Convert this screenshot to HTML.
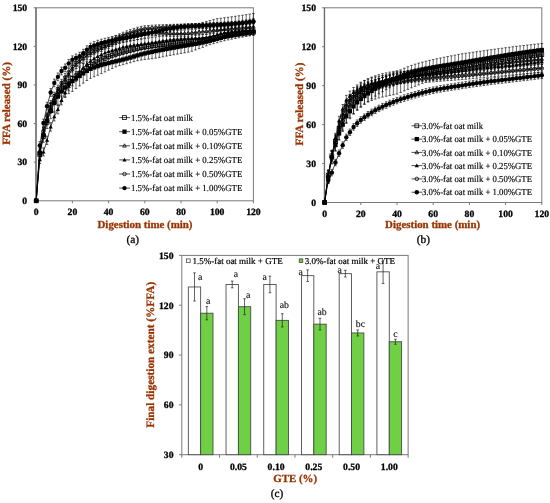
<!DOCTYPE html><html><head><meta charset="utf-8"><style>
html,body{margin:0;padding:0;background:#fff;}
svg{display:block;will-change:transform;}
text{font-family:"Liberation Serif",serif;text-rendering:geometricPrecision;}
.tk{font-size:9.7px;font-weight:bold;fill:#000;stroke:#000;stroke-width:0.3px;}
.lg{font-size:9.2px;fill:#000;stroke:#000;stroke-width:0.15px;}
.ti{font-size:10.9px;font-weight:bold;fill:#993300;stroke:#993300;stroke-width:0.3px;}
.pl{font-size:11.3px;fill:#000;stroke:#000;stroke-width:0.3px;}
.bl{font-size:9px;fill:#000;stroke:#000;stroke-width:0.2px;}
.lt{font-size:9.8px;fill:#000;stroke:#000;stroke-width:0.1px;}
</style></head><body>
<svg width="550" height="503" viewBox="0 0 550 503">
<rect width="550" height="503" fill="#fff"/>
<rect x="36.20" y="7.80" width="217.20" height="193.00" fill="none" stroke="#7a7a7a" stroke-width="1"/>
<path d="M36.00 7.80V200.80" stroke="#858585" stroke-width="2.0"/>
<path d="M33.70 200.80H36.20" stroke="#7a7a7a" stroke-width="1"/>
<text x="27.20" y="204.10" text-anchor="end" class="tk">0</text>
<path d="M33.70 162.19H36.20" stroke="#7a7a7a" stroke-width="1"/>
<text x="27.20" y="165.49" text-anchor="end" class="tk">30</text>
<path d="M33.70 123.58H36.20" stroke="#7a7a7a" stroke-width="1"/>
<text x="27.20" y="126.88" text-anchor="end" class="tk">60</text>
<path d="M33.70 84.97H36.20" stroke="#7a7a7a" stroke-width="1"/>
<text x="27.20" y="88.27" text-anchor="end" class="tk">90</text>
<path d="M33.70 46.36H36.20" stroke="#7a7a7a" stroke-width="1"/>
<text x="27.20" y="49.66" text-anchor="end" class="tk">120</text>
<path d="M33.70 7.75H36.20" stroke="#7a7a7a" stroke-width="1"/>
<text x="27.20" y="11.05" text-anchor="end" class="tk">150</text>
<path d="M36.20 200.80V203.30" stroke="#7a7a7a" stroke-width="1"/>
<text x="36.20" y="215.40" text-anchor="middle" class="tk">0</text>
<path d="M72.40 200.80V203.30" stroke="#7a7a7a" stroke-width="1"/>
<text x="72.40" y="215.40" text-anchor="middle" class="tk">20</text>
<path d="M108.60 200.80V203.30" stroke="#7a7a7a" stroke-width="1"/>
<text x="108.60" y="215.40" text-anchor="middle" class="tk">40</text>
<path d="M144.80 200.80V203.30" stroke="#7a7a7a" stroke-width="1"/>
<text x="144.80" y="215.40" text-anchor="middle" class="tk">60</text>
<path d="M181.00 200.80V203.30" stroke="#7a7a7a" stroke-width="1"/>
<text x="181.00" y="215.40" text-anchor="middle" class="tk">80</text>
<path d="M217.20 200.80V203.30" stroke="#7a7a7a" stroke-width="1"/>
<text x="217.20" y="215.40" text-anchor="middle" class="tk">100</text>
<path d="M253.40 200.80V203.30" stroke="#7a7a7a" stroke-width="1"/>
<text x="253.40" y="215.40" text-anchor="middle" class="tk">120</text>
<polyline points="36.20,200.80 39.82,154.47 43.44,136.45 47.06,122.29 50.68,110.71 54.30,101.70 57.92,95.27 61.54,90.12 65.16,85.61 68.78,81.75 72.40,78.54 76.02,75.85 79.64,73.39 83.26,70.93 86.88,68.55 90.50,66.31 94.12,64.18 97.74,62.09 101.36,60.11 104.98,58.28 108.60,56.66 112.22,55.25 115.84,54.02 119.46,52.88 123.08,51.82 126.70,50.86 130.32,49.96 133.94,49.08 137.56,48.26 141.18,47.52 144.80,46.87 148.42,46.32 152.04,45.81 155.66,45.34 159.28,44.91 162.90,44.50 166.52,44.10 170.14,43.71 173.76,43.32 177.38,42.92 181.00,42.50 184.62,42.08 188.24,41.67 191.86,41.27 195.48,40.86 199.10,40.41 202.72,39.93 206.34,39.36 209.96,38.73 213.58,38.04 217.20,37.34 220.82,36.65 224.44,36.00 228.06,35.42 231.68,34.89 235.30,34.39 238.92,33.90 242.54,33.44 246.16,33.00 249.78,32.59 253.40,32.20" fill="none" stroke="#000" stroke-width="0.7"/>
<path d="M39.82 151.89V157.04M38.52 151.89h2.6M38.52 157.04h2.6" stroke="#000" stroke-width="0.6" fill="none"/>
<path d="M43.44 133.88V139.02M42.14 133.88h2.6M42.14 139.02h2.6" stroke="#000" stroke-width="0.6" fill="none"/>
<path d="M47.06 119.72V124.87M45.76 119.72h2.6M45.76 124.87h2.6" stroke="#000" stroke-width="0.6" fill="none"/>
<path d="M50.68 108.14V113.28M49.38 108.14h2.6M49.38 113.28h2.6" stroke="#000" stroke-width="0.6" fill="none"/>
<path d="M54.30 99.13V104.28M53.00 99.13h2.6M53.00 104.28h2.6" stroke="#000" stroke-width="0.6" fill="none"/>
<path d="M57.92 92.69V97.84M56.62 92.69h2.6M56.62 97.84h2.6" stroke="#000" stroke-width="0.6" fill="none"/>
<path d="M61.54 87.54V92.69M60.24 87.54h2.6M60.24 92.69h2.6" stroke="#000" stroke-width="0.6" fill="none"/>
<path d="M65.16 83.04V88.19M63.86 83.04h2.6M63.86 88.19h2.6" stroke="#000" stroke-width="0.6" fill="none"/>
<path d="M68.78 79.18V84.33M67.48 79.18h2.6M67.48 84.33h2.6" stroke="#000" stroke-width="0.6" fill="none"/>
<path d="M72.40 75.96V81.11M71.10 75.96h2.6M71.10 81.11h2.6" stroke="#000" stroke-width="0.6" fill="none"/>
<path d="M76.02 73.28V78.43M74.72 73.28h2.6M74.72 78.43h2.6" stroke="#000" stroke-width="0.6" fill="none"/>
<path d="M79.64 70.81V75.96M78.34 70.81h2.6M78.34 75.96h2.6" stroke="#000" stroke-width="0.6" fill="none"/>
<path d="M83.26 68.36V73.50M81.96 68.36h2.6M81.96 73.50h2.6" stroke="#000" stroke-width="0.6" fill="none"/>
<path d="M86.88 65.97V71.12M85.58 65.97h2.6M85.58 71.12h2.6" stroke="#000" stroke-width="0.6" fill="none"/>
<path d="M90.50 63.73V68.88M89.20 63.73h2.6M89.20 68.88h2.6" stroke="#000" stroke-width="0.6" fill="none"/>
<path d="M94.12 61.60V66.75M92.82 61.60h2.6M92.82 66.75h2.6" stroke="#000" stroke-width="0.6" fill="none"/>
<path d="M97.74 59.52V64.67M96.44 59.52h2.6M96.44 64.67h2.6" stroke="#000" stroke-width="0.6" fill="none"/>
<path d="M101.36 57.54V62.69M100.06 57.54h2.6M100.06 62.69h2.6" stroke="#000" stroke-width="0.6" fill="none"/>
<path d="M104.98 55.71V60.86M103.68 55.71h2.6M103.68 60.86h2.6" stroke="#000" stroke-width="0.6" fill="none"/>
<path d="M108.60 54.08V59.23M107.30 54.08h2.6M107.30 59.23h2.6" stroke="#000" stroke-width="0.6" fill="none"/>
<path d="M112.22 52.68V57.83M110.92 52.68h2.6M110.92 57.83h2.6" stroke="#000" stroke-width="0.6" fill="none"/>
<path d="M115.84 51.44V56.59M114.54 51.44h2.6M114.54 56.59h2.6" stroke="#000" stroke-width="0.6" fill="none"/>
<path d="M119.46 50.30V55.45M118.16 50.30h2.6M118.16 55.45h2.6" stroke="#000" stroke-width="0.6" fill="none"/>
<path d="M123.08 49.25V54.40M121.78 49.25h2.6M121.78 54.40h2.6" stroke="#000" stroke-width="0.6" fill="none"/>
<path d="M126.70 48.29V53.44M125.40 48.29h2.6M125.40 53.44h2.6" stroke="#000" stroke-width="0.6" fill="none"/>
<path d="M130.32 47.39V52.53M129.02 47.39h2.6M129.02 52.53h2.6" stroke="#000" stroke-width="0.6" fill="none"/>
<path d="M133.94 46.51V51.66M132.64 46.51h2.6M132.64 51.66h2.6" stroke="#000" stroke-width="0.6" fill="none"/>
<path d="M137.56 45.69V50.84M136.26 45.69h2.6M136.26 50.84h2.6" stroke="#000" stroke-width="0.6" fill="none"/>
<path d="M141.18 44.94V50.09M139.88 44.94h2.6M139.88 50.09h2.6" stroke="#000" stroke-width="0.6" fill="none"/>
<path d="M144.80 44.30V49.45M143.50 44.30h2.6M143.50 49.45h2.6" stroke="#000" stroke-width="0.6" fill="none"/>
<path d="M148.42 43.74V48.89M147.12 43.74h2.6M147.12 48.89h2.6" stroke="#000" stroke-width="0.6" fill="none"/>
<path d="M152.04 43.24V48.38M150.74 43.24h2.6M150.74 48.38h2.6" stroke="#000" stroke-width="0.6" fill="none"/>
<path d="M155.66 42.77V47.92M154.36 42.77h2.6M154.36 47.92h2.6" stroke="#000" stroke-width="0.6" fill="none"/>
<path d="M159.28 42.33V47.48M157.98 42.33h2.6M157.98 47.48h2.6" stroke="#000" stroke-width="0.6" fill="none"/>
<path d="M162.90 41.92V47.07M161.60 41.92h2.6M161.60 47.07h2.6" stroke="#000" stroke-width="0.6" fill="none"/>
<path d="M166.52 41.53V46.68M165.22 41.53h2.6M165.22 46.68h2.6" stroke="#000" stroke-width="0.6" fill="none"/>
<path d="M170.14 41.14V46.29M168.84 41.14h2.6M168.84 46.29h2.6" stroke="#000" stroke-width="0.6" fill="none"/>
<path d="M173.76 40.75V45.90M172.46 40.75h2.6M172.46 45.90h2.6" stroke="#000" stroke-width="0.6" fill="none"/>
<path d="M177.38 40.35V45.49M176.08 40.35h2.6M176.08 45.49h2.6" stroke="#000" stroke-width="0.6" fill="none"/>
<path d="M181.00 39.93V45.07M179.70 39.93h2.6M179.70 45.07h2.6" stroke="#000" stroke-width="0.6" fill="none"/>
<path d="M184.62 39.50V44.65M183.32 39.50h2.6M183.32 44.65h2.6" stroke="#000" stroke-width="0.6" fill="none"/>
<path d="M188.24 39.10V44.25M186.94 39.10h2.6M186.94 44.25h2.6" stroke="#000" stroke-width="0.6" fill="none"/>
<path d="M191.86 38.70V43.85M190.56 38.70h2.6M190.56 43.85h2.6" stroke="#000" stroke-width="0.6" fill="none"/>
<path d="M195.48 38.28V43.43M194.18 38.28h2.6M194.18 43.43h2.6" stroke="#000" stroke-width="0.6" fill="none"/>
<path d="M199.10 37.84V42.99M197.80 37.84h2.6M197.80 42.99h2.6" stroke="#000" stroke-width="0.6" fill="none"/>
<path d="M202.72 37.35V42.50M201.42 37.35h2.6M201.42 42.50h2.6" stroke="#000" stroke-width="0.6" fill="none"/>
<path d="M206.34 36.79V41.94M205.04 36.79h2.6M205.04 41.94h2.6" stroke="#000" stroke-width="0.6" fill="none"/>
<path d="M209.96 36.15V41.30M208.66 36.15h2.6M208.66 41.30h2.6" stroke="#000" stroke-width="0.6" fill="none"/>
<path d="M213.58 35.47V40.62M212.28 35.47h2.6M212.28 40.62h2.6" stroke="#000" stroke-width="0.6" fill="none"/>
<path d="M217.20 34.77V39.92M215.90 34.77h2.6M215.90 39.92h2.6" stroke="#000" stroke-width="0.6" fill="none"/>
<path d="M220.82 34.08V39.23M219.52 34.08h2.6M219.52 39.23h2.6" stroke="#000" stroke-width="0.6" fill="none"/>
<path d="M224.44 33.43V38.58M223.14 33.43h2.6M223.14 38.58h2.6" stroke="#000" stroke-width="0.6" fill="none"/>
<path d="M228.06 32.85V37.99M226.76 32.85h2.6M226.76 37.99h2.6" stroke="#000" stroke-width="0.6" fill="none"/>
<path d="M231.68 32.32V37.47M230.38 32.32h2.6M230.38 37.47h2.6" stroke="#000" stroke-width="0.6" fill="none"/>
<path d="M235.30 31.81V36.96M234.00 31.81h2.6M234.00 36.96h2.6" stroke="#000" stroke-width="0.6" fill="none"/>
<path d="M238.92 31.32V36.47M237.62 31.32h2.6M237.62 36.47h2.6" stroke="#000" stroke-width="0.6" fill="none"/>
<path d="M242.54 30.86V36.01M241.24 30.86h2.6M241.24 36.01h2.6" stroke="#000" stroke-width="0.6" fill="none"/>
<path d="M246.16 30.42V35.57M244.86 30.42h2.6M244.86 35.57h2.6" stroke="#000" stroke-width="0.6" fill="none"/>
<path d="M249.78 30.01V35.16M248.48 30.01h2.6M248.48 35.16h2.6" stroke="#000" stroke-width="0.6" fill="none"/>
<path d="M253.40 29.63V34.78M252.10 29.63h2.6M252.10 34.78h2.6" stroke="#000" stroke-width="0.6" fill="none"/>
<rect x="34.28" y="198.88" width="3.85" height="3.85" fill="none" stroke="#000" stroke-width="0.8"/>
<rect x="37.90" y="152.54" width="3.85" height="3.85" fill="none" stroke="#000" stroke-width="0.8"/>
<rect x="41.52" y="134.53" width="3.85" height="3.85" fill="none" stroke="#000" stroke-width="0.8"/>
<rect x="45.14" y="120.37" width="3.85" height="3.85" fill="none" stroke="#000" stroke-width="0.8"/>
<rect x="48.76" y="108.79" width="3.85" height="3.85" fill="none" stroke="#000" stroke-width="0.8"/>
<rect x="52.38" y="99.78" width="3.85" height="3.85" fill="none" stroke="#000" stroke-width="0.8"/>
<rect x="56.00" y="93.34" width="3.85" height="3.85" fill="none" stroke="#000" stroke-width="0.8"/>
<rect x="59.62" y="88.19" width="3.85" height="3.85" fill="none" stroke="#000" stroke-width="0.8"/>
<rect x="63.23" y="83.69" width="3.85" height="3.85" fill="none" stroke="#000" stroke-width="0.8"/>
<rect x="66.86" y="79.83" width="3.85" height="3.85" fill="none" stroke="#000" stroke-width="0.8"/>
<rect x="70.48" y="76.61" width="3.85" height="3.85" fill="none" stroke="#000" stroke-width="0.8"/>
<rect x="74.10" y="73.93" width="3.85" height="3.85" fill="none" stroke="#000" stroke-width="0.8"/>
<rect x="77.72" y="71.46" width="3.85" height="3.85" fill="none" stroke="#000" stroke-width="0.8"/>
<rect x="81.34" y="69.01" width="3.85" height="3.85" fill="none" stroke="#000" stroke-width="0.8"/>
<rect x="84.95" y="66.62" width="3.85" height="3.85" fill="none" stroke="#000" stroke-width="0.8"/>
<rect x="88.58" y="64.38" width="3.85" height="3.85" fill="none" stroke="#000" stroke-width="0.8"/>
<rect x="92.20" y="62.25" width="3.85" height="3.85" fill="none" stroke="#000" stroke-width="0.8"/>
<rect x="95.82" y="60.17" width="3.85" height="3.85" fill="none" stroke="#000" stroke-width="0.8"/>
<rect x="99.44" y="58.19" width="3.85" height="3.85" fill="none" stroke="#000" stroke-width="0.8"/>
<rect x="103.06" y="56.36" width="3.85" height="3.85" fill="none" stroke="#000" stroke-width="0.8"/>
<rect x="106.68" y="54.73" width="3.85" height="3.85" fill="none" stroke="#000" stroke-width="0.8"/>
<rect x="110.30" y="53.33" width="3.85" height="3.85" fill="none" stroke="#000" stroke-width="0.8"/>
<rect x="113.92" y="52.09" width="3.85" height="3.85" fill="none" stroke="#000" stroke-width="0.8"/>
<rect x="117.54" y="50.95" width="3.85" height="3.85" fill="none" stroke="#000" stroke-width="0.8"/>
<rect x="121.16" y="49.90" width="3.85" height="3.85" fill="none" stroke="#000" stroke-width="0.8"/>
<rect x="124.78" y="48.94" width="3.85" height="3.85" fill="none" stroke="#000" stroke-width="0.8"/>
<rect x="128.39" y="48.03" width="3.85" height="3.85" fill="none" stroke="#000" stroke-width="0.8"/>
<rect x="132.01" y="47.16" width="3.85" height="3.85" fill="none" stroke="#000" stroke-width="0.8"/>
<rect x="135.63" y="46.34" width="3.85" height="3.85" fill="none" stroke="#000" stroke-width="0.8"/>
<rect x="139.25" y="45.59" width="3.85" height="3.85" fill="none" stroke="#000" stroke-width="0.8"/>
<rect x="142.88" y="44.95" width="3.85" height="3.85" fill="none" stroke="#000" stroke-width="0.8"/>
<rect x="146.50" y="44.39" width="3.85" height="3.85" fill="none" stroke="#000" stroke-width="0.8"/>
<rect x="150.12" y="43.89" width="3.85" height="3.85" fill="none" stroke="#000" stroke-width="0.8"/>
<rect x="153.74" y="43.42" width="3.85" height="3.85" fill="none" stroke="#000" stroke-width="0.8"/>
<rect x="157.35" y="42.98" width="3.85" height="3.85" fill="none" stroke="#000" stroke-width="0.8"/>
<rect x="160.97" y="42.57" width="3.85" height="3.85" fill="none" stroke="#000" stroke-width="0.8"/>
<rect x="164.59" y="42.18" width="3.85" height="3.85" fill="none" stroke="#000" stroke-width="0.8"/>
<rect x="168.21" y="41.79" width="3.85" height="3.85" fill="none" stroke="#000" stroke-width="0.8"/>
<rect x="171.83" y="41.40" width="3.85" height="3.85" fill="none" stroke="#000" stroke-width="0.8"/>
<rect x="175.45" y="40.99" width="3.85" height="3.85" fill="none" stroke="#000" stroke-width="0.8"/>
<rect x="179.07" y="40.57" width="3.85" height="3.85" fill="none" stroke="#000" stroke-width="0.8"/>
<rect x="182.69" y="40.15" width="3.85" height="3.85" fill="none" stroke="#000" stroke-width="0.8"/>
<rect x="186.31" y="39.75" width="3.85" height="3.85" fill="none" stroke="#000" stroke-width="0.8"/>
<rect x="189.94" y="39.35" width="3.85" height="3.85" fill="none" stroke="#000" stroke-width="0.8"/>
<rect x="193.56" y="38.93" width="3.85" height="3.85" fill="none" stroke="#000" stroke-width="0.8"/>
<rect x="197.18" y="38.49" width="3.85" height="3.85" fill="none" stroke="#000" stroke-width="0.8"/>
<rect x="200.80" y="38.00" width="3.85" height="3.85" fill="none" stroke="#000" stroke-width="0.8"/>
<rect x="204.42" y="37.44" width="3.85" height="3.85" fill="none" stroke="#000" stroke-width="0.8"/>
<rect x="208.03" y="36.80" width="3.85" height="3.85" fill="none" stroke="#000" stroke-width="0.8"/>
<rect x="211.65" y="36.12" width="3.85" height="3.85" fill="none" stroke="#000" stroke-width="0.8"/>
<rect x="215.27" y="35.42" width="3.85" height="3.85" fill="none" stroke="#000" stroke-width="0.8"/>
<rect x="218.89" y="34.73" width="3.85" height="3.85" fill="none" stroke="#000" stroke-width="0.8"/>
<rect x="222.51" y="34.08" width="3.85" height="3.85" fill="none" stroke="#000" stroke-width="0.8"/>
<rect x="226.13" y="33.50" width="3.85" height="3.85" fill="none" stroke="#000" stroke-width="0.8"/>
<rect x="229.75" y="32.97" width="3.85" height="3.85" fill="none" stroke="#000" stroke-width="0.8"/>
<rect x="233.38" y="32.46" width="3.85" height="3.85" fill="none" stroke="#000" stroke-width="0.8"/>
<rect x="237.00" y="31.97" width="3.85" height="3.85" fill="none" stroke="#000" stroke-width="0.8"/>
<rect x="240.62" y="31.51" width="3.85" height="3.85" fill="none" stroke="#000" stroke-width="0.8"/>
<rect x="244.24" y="31.07" width="3.85" height="3.85" fill="none" stroke="#000" stroke-width="0.8"/>
<rect x="247.86" y="30.66" width="3.85" height="3.85" fill="none" stroke="#000" stroke-width="0.8"/>
<rect x="251.48" y="30.28" width="3.85" height="3.85" fill="none" stroke="#000" stroke-width="0.8"/>
<polyline points="36.20,200.80 39.82,153.18 43.44,135.16 47.06,121.01 50.68,110.71 54.30,102.99 57.92,96.55 61.54,91.41 65.16,87.54 68.78,83.68 72.40,81.11 76.02,78.51 79.64,75.96 83.26,73.38 86.88,70.88 90.50,68.88 94.12,67.41 97.74,66.16 101.36,65.07 104.98,64.07 108.60,63.09 112.22,62.18 115.84,61.34 119.46,60.45 123.08,59.54 126.70,58.59 130.32,57.57 133.94,56.49 137.56,55.40 141.18,54.37 144.80,53.44 148.42,52.61 152.04,51.82 155.66,51.07 159.28,50.36 162.90,49.67 166.52,49.00 170.14,48.34 173.76,47.68 177.38,47.03 181.00,46.36 184.62,45.71 188.24,45.10 191.86,44.49 195.48,43.87 199.10,43.22 202.72,42.50 206.34,41.68 209.96,40.76 213.58,39.78 217.20,38.78 220.82,37.80 224.44,36.88 228.06,36.06 231.68,35.32 235.30,34.60 238.92,33.92 242.54,33.27 246.16,32.66 249.78,32.09 253.40,31.56" fill="none" stroke="#000" stroke-width="0.7"/>
<path d="M39.82 146.36V160.00M38.52 146.36h2.6M38.52 160.00h2.6" stroke="#000" stroke-width="0.6" fill="none"/>
<path d="M43.44 127.96V142.37M42.14 127.96h2.6M42.14 142.37h2.6" stroke="#000" stroke-width="0.6" fill="none"/>
<path d="M47.06 113.41V128.60M45.76 113.41h2.6M45.76 128.60h2.6" stroke="#000" stroke-width="0.6" fill="none"/>
<path d="M50.68 102.73V118.69M49.38 102.73h2.6M49.38 118.69h2.6" stroke="#000" stroke-width="0.6" fill="none"/>
<path d="M54.30 94.62V111.35M53.00 94.62h2.6M53.00 111.35h2.6" stroke="#000" stroke-width="0.6" fill="none"/>
<path d="M57.92 87.80V105.30M56.62 87.80h2.6M56.62 105.30h2.6" stroke="#000" stroke-width="0.6" fill="none"/>
<path d="M61.54 82.27V100.54M60.24 82.27h2.6M60.24 100.54h2.6" stroke="#000" stroke-width="0.6" fill="none"/>
<path d="M65.16 78.02V97.07M63.86 78.02h2.6M63.86 97.07h2.6" stroke="#000" stroke-width="0.6" fill="none"/>
<path d="M68.78 73.77V93.59M67.48 73.77h2.6M67.48 93.59h2.6" stroke="#000" stroke-width="0.6" fill="none"/>
<path d="M72.40 70.81V91.41M71.10 70.81h2.6M71.10 91.41h2.6" stroke="#000" stroke-width="0.6" fill="none"/>
<path d="M76.02 68.38V88.63M74.72 68.38h2.6M74.72 88.63h2.6" stroke="#000" stroke-width="0.6" fill="none"/>
<path d="M79.64 66.01V85.91M78.34 66.01h2.6M78.34 85.91h2.6" stroke="#000" stroke-width="0.6" fill="none"/>
<path d="M83.26 63.60V83.16M81.96 63.60h2.6M81.96 83.16h2.6" stroke="#000" stroke-width="0.6" fill="none"/>
<path d="M86.88 61.27V80.49M85.58 61.27h2.6M85.58 80.49h2.6" stroke="#000" stroke-width="0.6" fill="none"/>
<path d="M90.50 59.44V78.32M89.20 59.44h2.6M89.20 78.32h2.6" stroke="#000" stroke-width="0.6" fill="none"/>
<path d="M94.12 58.15V76.68M92.82 58.15h2.6M92.82 76.68h2.6" stroke="#000" stroke-width="0.6" fill="none"/>
<path d="M97.74 57.07V75.26M96.44 57.07h2.6M96.44 75.26h2.6" stroke="#000" stroke-width="0.6" fill="none"/>
<path d="M101.36 56.45V73.69M100.06 56.45h2.6M100.06 73.69h2.6" stroke="#000" stroke-width="0.6" fill="none"/>
<path d="M104.98 56.22V71.92M103.68 56.22h2.6M103.68 71.92h2.6" stroke="#000" stroke-width="0.6" fill="none"/>
<path d="M108.60 56.01V70.17M107.30 56.01h2.6M107.30 70.17h2.6" stroke="#000" stroke-width="0.6" fill="none"/>
<path d="M112.22 55.88V68.49M110.92 55.88h2.6M110.92 68.49h2.6" stroke="#000" stroke-width="0.6" fill="none"/>
<path d="M115.84 55.81V66.87M114.54 55.81h2.6M114.54 66.87h2.6" stroke="#000" stroke-width="0.6" fill="none"/>
<path d="M119.46 55.30V65.60M118.16 55.30h2.6M118.16 65.60h2.6" stroke="#000" stroke-width="0.6" fill="none"/>
<path d="M123.08 54.39V64.68M121.78 54.39h2.6M121.78 64.68h2.6" stroke="#000" stroke-width="0.6" fill="none"/>
<path d="M126.70 53.44V63.73M125.40 53.44h2.6M125.40 63.73h2.6" stroke="#000" stroke-width="0.6" fill="none"/>
<path d="M130.32 52.42V62.72M129.02 52.42h2.6M129.02 62.72h2.6" stroke="#000" stroke-width="0.6" fill="none"/>
<path d="M133.94 51.34V61.64M132.64 51.34h2.6M132.64 61.64h2.6" stroke="#000" stroke-width="0.6" fill="none"/>
<path d="M137.56 50.06V60.74M136.26 50.06h2.6M136.26 60.74h2.6" stroke="#000" stroke-width="0.6" fill="none"/>
<path d="M141.18 48.64V60.09M139.88 48.64h2.6M139.88 60.09h2.6" stroke="#000" stroke-width="0.6" fill="none"/>
<path d="M144.80 47.33V59.55M143.50 47.33h2.6M143.50 59.55h2.6" stroke="#000" stroke-width="0.6" fill="none"/>
<path d="M148.42 46.11V59.11M147.12 46.11h2.6M147.12 59.11h2.6" stroke="#000" stroke-width="0.6" fill="none"/>
<path d="M152.04 44.94V58.71M150.74 44.94h2.6M150.74 58.71h2.6" stroke="#000" stroke-width="0.6" fill="none"/>
<path d="M155.66 43.99V58.15M154.36 43.99h2.6M154.36 58.15h2.6" stroke="#000" stroke-width="0.6" fill="none"/>
<path d="M159.28 43.28V57.44M157.98 43.28h2.6M157.98 57.44h2.6" stroke="#000" stroke-width="0.6" fill="none"/>
<path d="M162.90 42.59V56.75M161.60 42.59h2.6M161.60 56.75h2.6" stroke="#000" stroke-width="0.6" fill="none"/>
<path d="M166.52 41.92V56.07M165.22 41.92h2.6M165.22 56.07h2.6" stroke="#000" stroke-width="0.6" fill="none"/>
<path d="M170.14 41.26V55.41M168.84 41.26h2.6M168.84 55.41h2.6" stroke="#000" stroke-width="0.6" fill="none"/>
<path d="M173.76 40.60V54.76M172.46 40.60h2.6M172.46 54.76h2.6" stroke="#000" stroke-width="0.6" fill="none"/>
<path d="M177.38 39.95V54.10M176.08 39.95h2.6M176.08 54.10h2.6" stroke="#000" stroke-width="0.6" fill="none"/>
<path d="M181.00 39.28V53.44M179.70 39.28h2.6M179.70 53.44h2.6" stroke="#000" stroke-width="0.6" fill="none"/>
<path d="M184.62 38.63V52.79M183.32 38.63h2.6M183.32 52.79h2.6" stroke="#000" stroke-width="0.6" fill="none"/>
<path d="M188.24 38.02V52.18M186.94 38.02h2.6M186.94 52.18h2.6" stroke="#000" stroke-width="0.6" fill="none"/>
<path d="M191.86 37.73V51.25M190.56 37.73h2.6M190.56 51.25h2.6" stroke="#000" stroke-width="0.6" fill="none"/>
<path d="M195.48 37.76V49.98M194.18 37.76h2.6M194.18 49.98h2.6" stroke="#000" stroke-width="0.6" fill="none"/>
<path d="M199.10 37.75V48.68M197.80 37.75h2.6M197.80 48.68h2.6" stroke="#000" stroke-width="0.6" fill="none"/>
<path d="M202.72 37.67V47.33M201.42 37.67h2.6M201.42 47.33h2.6" stroke="#000" stroke-width="0.6" fill="none"/>
<path d="M206.34 37.50V45.86M205.04 37.50h2.6M205.04 45.86h2.6" stroke="#000" stroke-width="0.6" fill="none"/>
<path d="M209.96 36.90V44.62M208.66 36.90h2.6M208.66 44.62h2.6" stroke="#000" stroke-width="0.6" fill="none"/>
<path d="M213.58 35.92V43.65M212.28 35.92h2.6M212.28 43.65h2.6" stroke="#000" stroke-width="0.6" fill="none"/>
<path d="M217.20 34.92V42.65M215.90 34.92h2.6M215.90 42.65h2.6" stroke="#000" stroke-width="0.6" fill="none"/>
<path d="M220.82 33.94V41.67M219.52 33.94h2.6M219.52 41.67h2.6" stroke="#000" stroke-width="0.6" fill="none"/>
<path d="M224.44 33.02V40.75M223.14 33.02h2.6M223.14 40.75h2.6" stroke="#000" stroke-width="0.6" fill="none"/>
<path d="M228.06 32.20V39.93M226.76 32.20h2.6M226.76 39.93h2.6" stroke="#000" stroke-width="0.6" fill="none"/>
<path d="M231.68 31.46V39.18M230.38 31.46h2.6M230.38 39.18h2.6" stroke="#000" stroke-width="0.6" fill="none"/>
<path d="M235.30 30.74V38.47M234.00 30.74h2.6M234.00 38.47h2.6" stroke="#000" stroke-width="0.6" fill="none"/>
<path d="M238.92 30.06V37.78M237.62 30.06h2.6M237.62 37.78h2.6" stroke="#000" stroke-width="0.6" fill="none"/>
<path d="M242.54 29.41V37.13M241.24 29.41h2.6M241.24 37.13h2.6" stroke="#000" stroke-width="0.6" fill="none"/>
<path d="M246.16 28.80V36.52M244.86 28.80h2.6M244.86 36.52h2.6" stroke="#000" stroke-width="0.6" fill="none"/>
<path d="M249.78 28.23V35.95M248.48 28.23h2.6M248.48 35.95h2.6" stroke="#000" stroke-width="0.6" fill="none"/>
<path d="M253.40 27.70V35.42M252.10 27.70h2.6M252.10 35.42h2.6" stroke="#000" stroke-width="0.6" fill="none"/>
<rect x="34.05" y="198.66" width="4.29" height="4.29" fill="#000"/>
<rect x="37.67" y="151.04" width="4.29" height="4.29" fill="#000"/>
<rect x="41.30" y="133.02" width="4.29" height="4.29" fill="#000"/>
<rect x="44.91" y="118.86" width="4.29" height="4.29" fill="#000"/>
<rect x="48.54" y="108.57" width="4.29" height="4.29" fill="#000"/>
<rect x="52.16" y="100.84" width="4.29" height="4.29" fill="#000"/>
<rect x="55.77" y="94.41" width="4.29" height="4.29" fill="#000"/>
<rect x="59.40" y="89.26" width="4.29" height="4.29" fill="#000"/>
<rect x="63.01" y="85.40" width="4.29" height="4.29" fill="#000"/>
<rect x="66.64" y="81.54" width="4.29" height="4.29" fill="#000"/>
<rect x="70.26" y="78.96" width="4.29" height="4.29" fill="#000"/>
<rect x="73.88" y="76.36" width="4.29" height="4.29" fill="#000"/>
<rect x="77.50" y="73.82" width="4.29" height="4.29" fill="#000"/>
<rect x="81.12" y="71.24" width="4.29" height="4.29" fill="#000"/>
<rect x="84.73" y="68.73" width="4.29" height="4.29" fill="#000"/>
<rect x="88.36" y="66.74" width="4.29" height="4.29" fill="#000"/>
<rect x="91.98" y="65.27" width="4.29" height="4.29" fill="#000"/>
<rect x="95.60" y="64.02" width="4.29" height="4.29" fill="#000"/>
<rect x="99.22" y="62.92" width="4.29" height="4.29" fill="#000"/>
<rect x="102.84" y="61.92" width="4.29" height="4.29" fill="#000"/>
<rect x="106.46" y="60.95" width="4.29" height="4.29" fill="#000"/>
<rect x="110.08" y="60.04" width="4.29" height="4.29" fill="#000"/>
<rect x="113.70" y="59.20" width="4.29" height="4.29" fill="#000"/>
<rect x="117.32" y="58.31" width="4.29" height="4.29" fill="#000"/>
<rect x="120.94" y="57.39" width="4.29" height="4.29" fill="#000"/>
<rect x="124.56" y="56.44" width="4.29" height="4.29" fill="#000"/>
<rect x="128.17" y="55.42" width="4.29" height="4.29" fill="#000"/>
<rect x="131.79" y="54.34" width="4.29" height="4.29" fill="#000"/>
<rect x="135.41" y="53.26" width="4.29" height="4.29" fill="#000"/>
<rect x="139.03" y="52.22" width="4.29" height="4.29" fill="#000"/>
<rect x="142.66" y="51.29" width="4.29" height="4.29" fill="#000"/>
<rect x="146.28" y="50.46" width="4.29" height="4.29" fill="#000"/>
<rect x="149.90" y="49.68" width="4.29" height="4.29" fill="#000"/>
<rect x="153.52" y="48.93" width="4.29" height="4.29" fill="#000"/>
<rect x="157.13" y="48.21" width="4.29" height="4.29" fill="#000"/>
<rect x="160.75" y="47.52" width="4.29" height="4.29" fill="#000"/>
<rect x="164.37" y="46.85" width="4.29" height="4.29" fill="#000"/>
<rect x="167.99" y="46.19" width="4.29" height="4.29" fill="#000"/>
<rect x="171.61" y="45.54" width="4.29" height="4.29" fill="#000"/>
<rect x="175.23" y="44.88" width="4.29" height="4.29" fill="#000"/>
<rect x="178.85" y="44.22" width="4.29" height="4.29" fill="#000"/>
<rect x="182.47" y="43.57" width="4.29" height="4.29" fill="#000"/>
<rect x="186.09" y="42.95" width="4.29" height="4.29" fill="#000"/>
<rect x="189.72" y="42.35" width="4.29" height="4.29" fill="#000"/>
<rect x="193.34" y="41.73" width="4.29" height="4.29" fill="#000"/>
<rect x="196.96" y="41.07" width="4.29" height="4.29" fill="#000"/>
<rect x="200.58" y="40.35" width="4.29" height="4.29" fill="#000"/>
<rect x="204.20" y="39.54" width="4.29" height="4.29" fill="#000"/>
<rect x="207.81" y="38.62" width="4.29" height="4.29" fill="#000"/>
<rect x="211.43" y="37.64" width="4.29" height="4.29" fill="#000"/>
<rect x="215.05" y="36.64" width="4.29" height="4.29" fill="#000"/>
<rect x="218.67" y="35.66" width="4.29" height="4.29" fill="#000"/>
<rect x="222.29" y="34.74" width="4.29" height="4.29" fill="#000"/>
<rect x="225.91" y="33.92" width="4.29" height="4.29" fill="#000"/>
<rect x="229.53" y="33.18" width="4.29" height="4.29" fill="#000"/>
<rect x="233.16" y="32.46" width="4.29" height="4.29" fill="#000"/>
<rect x="236.78" y="31.78" width="4.29" height="4.29" fill="#000"/>
<rect x="240.40" y="31.13" width="4.29" height="4.29" fill="#000"/>
<rect x="244.02" y="30.51" width="4.29" height="4.29" fill="#000"/>
<rect x="247.64" y="29.94" width="4.29" height="4.29" fill="#000"/>
<rect x="251.26" y="29.41" width="4.29" height="4.29" fill="#000"/>
<polyline points="36.20,200.80 39.82,153.18 43.44,133.88 47.06,118.43 50.68,106.85 54.30,97.84 57.92,90.76 61.54,84.97 65.16,79.82 68.78,74.67 72.40,68.88 76.02,65.00 79.64,61.80 83.26,58.71 86.88,55.86 90.50,53.44 94.12,51.48 97.74,49.79 101.36,48.25 104.98,46.72 108.60,45.07 112.22,43.26 115.84,41.43 119.46,39.73 123.08,38.09 126.70,36.71 130.32,35.49 133.94,34.28 137.56,33.23 141.18,32.48 144.80,32.20 148.42,32.24 152.04,32.34 155.66,32.48 159.28,32.66 162.90,32.85 166.52,33.04 170.14,33.21 173.76,33.36 177.38,33.45 181.00,33.49 184.62,33.39 188.24,33.14 191.86,32.78 195.48,32.36 199.10,31.94 202.72,31.56 206.34,31.20 209.96,30.83 213.58,30.44 217.20,30.06 220.82,29.68 224.44,29.32 228.06,28.99 231.68,28.68 235.30,28.37 238.92,28.09 242.54,27.81 246.16,27.54 249.78,27.29 253.40,27.05" fill="none" stroke="#000" stroke-width="0.7"/>
<path d="M39.82 149.96V156.40M38.52 149.96h2.6M38.52 156.40h2.6" stroke="#000" stroke-width="0.6" fill="none"/>
<path d="M43.44 130.66V137.09M42.14 130.66h2.6M42.14 137.09h2.6" stroke="#000" stroke-width="0.6" fill="none"/>
<path d="M47.06 115.21V121.65M45.76 115.21h2.6M45.76 121.65h2.6" stroke="#000" stroke-width="0.6" fill="none"/>
<path d="M50.68 103.63V110.07M49.38 103.63h2.6M49.38 110.07h2.6" stroke="#000" stroke-width="0.6" fill="none"/>
<path d="M54.30 94.62V101.06M53.00 94.62h2.6M53.00 101.06h2.6" stroke="#000" stroke-width="0.6" fill="none"/>
<path d="M57.92 87.54V93.98M56.62 87.54h2.6M56.62 93.98h2.6" stroke="#000" stroke-width="0.6" fill="none"/>
<path d="M61.54 81.75V88.19M60.24 81.75h2.6M60.24 88.19h2.6" stroke="#000" stroke-width="0.6" fill="none"/>
<path d="M65.16 76.60V83.04M63.86 76.60h2.6M63.86 83.04h2.6" stroke="#000" stroke-width="0.6" fill="none"/>
<path d="M68.78 71.46V77.89M67.48 71.46h2.6M67.48 77.89h2.6" stroke="#000" stroke-width="0.6" fill="none"/>
<path d="M72.40 65.67V72.10M71.10 65.67h2.6M71.10 72.10h2.6" stroke="#000" stroke-width="0.6" fill="none"/>
<path d="M76.02 61.78V68.22M74.72 61.78h2.6M74.72 68.22h2.6" stroke="#000" stroke-width="0.6" fill="none"/>
<path d="M79.64 58.59V65.02M78.34 58.59h2.6M78.34 65.02h2.6" stroke="#000" stroke-width="0.6" fill="none"/>
<path d="M83.26 55.49V61.93M81.96 55.49h2.6M81.96 61.93h2.6" stroke="#000" stroke-width="0.6" fill="none"/>
<path d="M86.88 52.64V59.08M85.58 52.64h2.6M85.58 59.08h2.6" stroke="#000" stroke-width="0.6" fill="none"/>
<path d="M90.50 50.22V56.66M89.20 50.22h2.6M89.20 56.66h2.6" stroke="#000" stroke-width="0.6" fill="none"/>
<path d="M94.12 48.26V54.70M92.82 48.26h2.6M92.82 54.70h2.6" stroke="#000" stroke-width="0.6" fill="none"/>
<path d="M97.74 46.57V53.01M96.44 46.57h2.6M96.44 53.01h2.6" stroke="#000" stroke-width="0.6" fill="none"/>
<path d="M101.36 45.03V51.46M100.06 45.03h2.6M100.06 51.46h2.6" stroke="#000" stroke-width="0.6" fill="none"/>
<path d="M104.98 43.50V49.93M103.68 43.50h2.6M103.68 49.93h2.6" stroke="#000" stroke-width="0.6" fill="none"/>
<path d="M108.60 41.86V48.29M107.30 41.86h2.6M107.30 48.29h2.6" stroke="#000" stroke-width="0.6" fill="none"/>
<path d="M112.22 40.04V46.48M110.92 40.04h2.6M110.92 46.48h2.6" stroke="#000" stroke-width="0.6" fill="none"/>
<path d="M115.84 38.21V44.65M114.54 38.21h2.6M114.54 44.65h2.6" stroke="#000" stroke-width="0.6" fill="none"/>
<path d="M119.46 36.51V42.95M118.16 36.51h2.6M118.16 42.95h2.6" stroke="#000" stroke-width="0.6" fill="none"/>
<path d="M123.08 34.87V41.31M121.78 34.87h2.6M121.78 41.31h2.6" stroke="#000" stroke-width="0.6" fill="none"/>
<path d="M126.70 33.49V39.93M125.40 33.49h2.6M125.40 39.93h2.6" stroke="#000" stroke-width="0.6" fill="none"/>
<path d="M130.32 32.27V38.71M129.02 32.27h2.6M129.02 38.71h2.6" stroke="#000" stroke-width="0.6" fill="none"/>
<path d="M133.94 31.06V37.50M132.64 31.06h2.6M132.64 37.50h2.6" stroke="#000" stroke-width="0.6" fill="none"/>
<path d="M137.56 30.01V36.44M136.26 30.01h2.6M136.26 36.44h2.6" stroke="#000" stroke-width="0.6" fill="none"/>
<path d="M141.18 29.27V35.70M139.88 29.27h2.6M139.88 35.70h2.6" stroke="#000" stroke-width="0.6" fill="none"/>
<path d="M144.80 28.99V35.42M143.50 28.99h2.6M143.50 35.42h2.6" stroke="#000" stroke-width="0.6" fill="none"/>
<path d="M148.42 29.02V35.46M147.12 29.02h2.6M147.12 35.46h2.6" stroke="#000" stroke-width="0.6" fill="none"/>
<path d="M152.04 29.12V35.55M150.74 29.12h2.6M150.74 35.55h2.6" stroke="#000" stroke-width="0.6" fill="none"/>
<path d="M155.66 29.26V35.70M154.36 29.26h2.6M154.36 35.70h2.6" stroke="#000" stroke-width="0.6" fill="none"/>
<path d="M159.28 29.44V35.87M157.98 29.44h2.6M157.98 35.87h2.6" stroke="#000" stroke-width="0.6" fill="none"/>
<path d="M162.90 29.63V36.06M161.60 29.63h2.6M161.60 36.06h2.6" stroke="#000" stroke-width="0.6" fill="none"/>
<path d="M166.52 29.82V36.25M165.22 29.82h2.6M165.22 36.25h2.6" stroke="#000" stroke-width="0.6" fill="none"/>
<path d="M170.14 29.99V36.43M168.84 29.99h2.6M168.84 36.43h2.6" stroke="#000" stroke-width="0.6" fill="none"/>
<path d="M173.76 30.14V36.57M172.46 30.14h2.6M172.46 36.57h2.6" stroke="#000" stroke-width="0.6" fill="none"/>
<path d="M177.38 30.24V36.67M176.08 30.24h2.6M176.08 36.67h2.6" stroke="#000" stroke-width="0.6" fill="none"/>
<path d="M181.00 30.27V36.71M179.70 30.27h2.6M179.70 36.71h2.6" stroke="#000" stroke-width="0.6" fill="none"/>
<path d="M184.62 30.18V36.61M183.32 30.18h2.6M183.32 36.61h2.6" stroke="#000" stroke-width="0.6" fill="none"/>
<path d="M188.24 29.92V36.36M186.94 29.92h2.6M186.94 36.36h2.6" stroke="#000" stroke-width="0.6" fill="none"/>
<path d="M191.86 29.56V36.00M190.56 29.56h2.6M190.56 36.00h2.6" stroke="#000" stroke-width="0.6" fill="none"/>
<path d="M195.48 29.15V35.58M194.18 29.15h2.6M194.18 35.58h2.6" stroke="#000" stroke-width="0.6" fill="none"/>
<path d="M199.10 28.72V35.16M197.80 28.72h2.6M197.80 35.16h2.6" stroke="#000" stroke-width="0.6" fill="none"/>
<path d="M202.72 28.34V34.78M201.42 28.34h2.6M201.42 34.78h2.6" stroke="#000" stroke-width="0.6" fill="none"/>
<path d="M206.34 27.99V34.42M205.04 27.99h2.6M205.04 34.42h2.6" stroke="#000" stroke-width="0.6" fill="none"/>
<path d="M209.96 27.61V34.05M208.66 27.61h2.6M208.66 34.05h2.6" stroke="#000" stroke-width="0.6" fill="none"/>
<path d="M213.58 27.22V33.66M212.28 27.22h2.6M212.28 33.66h2.6" stroke="#000" stroke-width="0.6" fill="none"/>
<path d="M217.20 26.84V33.27M215.90 26.84h2.6M215.90 33.27h2.6" stroke="#000" stroke-width="0.6" fill="none"/>
<path d="M220.82 26.46V32.90M219.52 26.46h2.6M219.52 32.90h2.6" stroke="#000" stroke-width="0.6" fill="none"/>
<path d="M224.44 26.10V32.54M223.14 26.10h2.6M223.14 32.54h2.6" stroke="#000" stroke-width="0.6" fill="none"/>
<path d="M228.06 25.77V32.20M226.76 25.77h2.6M226.76 32.20h2.6" stroke="#000" stroke-width="0.6" fill="none"/>
<path d="M231.68 25.46V31.89M230.38 25.46h2.6M230.38 31.89h2.6" stroke="#000" stroke-width="0.6" fill="none"/>
<path d="M235.30 25.16V31.59M234.00 25.16h2.6M234.00 31.59h2.6" stroke="#000" stroke-width="0.6" fill="none"/>
<path d="M238.92 24.87V31.30M237.62 24.87h2.6M237.62 31.30h2.6" stroke="#000" stroke-width="0.6" fill="none"/>
<path d="M242.54 24.59V31.03M241.24 24.59h2.6M241.24 31.03h2.6" stroke="#000" stroke-width="0.6" fill="none"/>
<path d="M246.16 24.33V30.76M244.86 24.33h2.6M244.86 30.76h2.6" stroke="#000" stroke-width="0.6" fill="none"/>
<path d="M249.78 24.07V30.51M248.48 24.07h2.6M248.48 30.51h2.6" stroke="#000" stroke-width="0.6" fill="none"/>
<path d="M253.40 23.84V30.27M252.10 23.84h2.6M252.10 30.27h2.6" stroke="#000" stroke-width="0.6" fill="none"/>
<path d="M36.20 198.82L37.96 202.12L34.44 202.12Z" fill="none" stroke="#000" stroke-width="0.8"/>
<path d="M39.82 151.20L41.58 154.50L38.06 154.50Z" fill="none" stroke="#000" stroke-width="0.8"/>
<path d="M43.44 131.90L45.20 135.20L41.68 135.20Z" fill="none" stroke="#000" stroke-width="0.8"/>
<path d="M47.06 116.45L48.82 119.75L45.30 119.75Z" fill="none" stroke="#000" stroke-width="0.8"/>
<path d="M50.68 104.87L52.44 108.17L48.92 108.17Z" fill="none" stroke="#000" stroke-width="0.8"/>
<path d="M54.30 95.86L56.06 99.16L52.54 99.16Z" fill="none" stroke="#000" stroke-width="0.8"/>
<path d="M57.92 88.78L59.68 92.08L56.16 92.08Z" fill="none" stroke="#000" stroke-width="0.8"/>
<path d="M61.54 82.99L63.30 86.29L59.78 86.29Z" fill="none" stroke="#000" stroke-width="0.8"/>
<path d="M65.16 77.84L66.92 81.14L63.40 81.14Z" fill="none" stroke="#000" stroke-width="0.8"/>
<path d="M68.78 72.69L70.54 75.99L67.02 75.99Z" fill="none" stroke="#000" stroke-width="0.8"/>
<path d="M72.40 66.90L74.16 70.20L70.64 70.20Z" fill="none" stroke="#000" stroke-width="0.8"/>
<path d="M76.02 63.02L77.78 66.32L74.26 66.32Z" fill="none" stroke="#000" stroke-width="0.8"/>
<path d="M79.64 59.82L81.40 63.12L77.88 63.12Z" fill="none" stroke="#000" stroke-width="0.8"/>
<path d="M83.26 56.73L85.02 60.03L81.50 60.03Z" fill="none" stroke="#000" stroke-width="0.8"/>
<path d="M86.88 53.88L88.64 57.18L85.12 57.18Z" fill="none" stroke="#000" stroke-width="0.8"/>
<path d="M90.50 51.46L92.26 54.76L88.74 54.76Z" fill="none" stroke="#000" stroke-width="0.8"/>
<path d="M94.12 49.50L95.88 52.80L92.36 52.80Z" fill="none" stroke="#000" stroke-width="0.8"/>
<path d="M97.74 47.81L99.50 51.11L95.98 51.11Z" fill="none" stroke="#000" stroke-width="0.8"/>
<path d="M101.36 46.27L103.12 49.57L99.60 49.57Z" fill="none" stroke="#000" stroke-width="0.8"/>
<path d="M104.98 44.74L106.74 48.04L103.22 48.04Z" fill="none" stroke="#000" stroke-width="0.8"/>
<path d="M108.60 43.09L110.36 46.39L106.84 46.39Z" fill="none" stroke="#000" stroke-width="0.8"/>
<path d="M112.22 41.28L113.98 44.58L110.46 44.58Z" fill="none" stroke="#000" stroke-width="0.8"/>
<path d="M115.84 39.45L117.60 42.75L114.08 42.75Z" fill="none" stroke="#000" stroke-width="0.8"/>
<path d="M119.46 37.75L121.22 41.05L117.70 41.05Z" fill="none" stroke="#000" stroke-width="0.8"/>
<path d="M123.08 36.11L124.84 39.41L121.32 39.41Z" fill="none" stroke="#000" stroke-width="0.8"/>
<path d="M126.70 34.73L128.46 38.03L124.94 38.03Z" fill="none" stroke="#000" stroke-width="0.8"/>
<path d="M130.32 33.51L132.08 36.81L128.56 36.81Z" fill="none" stroke="#000" stroke-width="0.8"/>
<path d="M133.94 32.30L135.70 35.60L132.18 35.60Z" fill="none" stroke="#000" stroke-width="0.8"/>
<path d="M137.56 31.25L139.32 34.55L135.80 34.55Z" fill="none" stroke="#000" stroke-width="0.8"/>
<path d="M141.18 30.50L142.94 33.80L139.42 33.80Z" fill="none" stroke="#000" stroke-width="0.8"/>
<path d="M144.80 30.22L146.56 33.52L143.04 33.52Z" fill="none" stroke="#000" stroke-width="0.8"/>
<path d="M148.42 30.26L150.18 33.56L146.66 33.56Z" fill="none" stroke="#000" stroke-width="0.8"/>
<path d="M152.04 30.36L153.80 33.66L150.28 33.66Z" fill="none" stroke="#000" stroke-width="0.8"/>
<path d="M155.66 30.50L157.42 33.80L153.90 33.80Z" fill="none" stroke="#000" stroke-width="0.8"/>
<path d="M159.28 30.68L161.04 33.98L157.52 33.98Z" fill="none" stroke="#000" stroke-width="0.8"/>
<path d="M162.90 30.87L164.66 34.17L161.14 34.17Z" fill="none" stroke="#000" stroke-width="0.8"/>
<path d="M166.52 31.06L168.28 34.36L164.76 34.36Z" fill="none" stroke="#000" stroke-width="0.8"/>
<path d="M170.14 31.23L171.90 34.53L168.38 34.53Z" fill="none" stroke="#000" stroke-width="0.8"/>
<path d="M173.76 31.38L175.52 34.68L172.00 34.68Z" fill="none" stroke="#000" stroke-width="0.8"/>
<path d="M177.38 31.47L179.14 34.77L175.62 34.77Z" fill="none" stroke="#000" stroke-width="0.8"/>
<path d="M181.00 31.51L182.76 34.81L179.24 34.81Z" fill="none" stroke="#000" stroke-width="0.8"/>
<path d="M184.62 31.41L186.38 34.71L182.86 34.71Z" fill="none" stroke="#000" stroke-width="0.8"/>
<path d="M188.24 31.16L190.00 34.46L186.48 34.46Z" fill="none" stroke="#000" stroke-width="0.8"/>
<path d="M191.86 30.80L193.62 34.10L190.10 34.10Z" fill="none" stroke="#000" stroke-width="0.8"/>
<path d="M195.48 30.38L197.24 33.68L193.72 33.68Z" fill="none" stroke="#000" stroke-width="0.8"/>
<path d="M199.10 29.96L200.86 33.26L197.34 33.26Z" fill="none" stroke="#000" stroke-width="0.8"/>
<path d="M202.72 29.58L204.48 32.88L200.96 32.88Z" fill="none" stroke="#000" stroke-width="0.8"/>
<path d="M206.34 29.22L208.10 32.52L204.58 32.52Z" fill="none" stroke="#000" stroke-width="0.8"/>
<path d="M209.96 28.85L211.72 32.15L208.20 32.15Z" fill="none" stroke="#000" stroke-width="0.8"/>
<path d="M213.58 28.46L215.34 31.76L211.82 31.76Z" fill="none" stroke="#000" stroke-width="0.8"/>
<path d="M217.20 28.08L218.96 31.38L215.44 31.38Z" fill="none" stroke="#000" stroke-width="0.8"/>
<path d="M220.82 27.70L222.58 31.00L219.06 31.00Z" fill="none" stroke="#000" stroke-width="0.8"/>
<path d="M224.44 27.34L226.20 30.64L222.68 30.64Z" fill="none" stroke="#000" stroke-width="0.8"/>
<path d="M228.06 27.01L229.82 30.31L226.30 30.31Z" fill="none" stroke="#000" stroke-width="0.8"/>
<path d="M231.68 26.70L233.44 30.00L229.92 30.00Z" fill="none" stroke="#000" stroke-width="0.8"/>
<path d="M235.30 26.39L237.06 29.69L233.54 29.69Z" fill="none" stroke="#000" stroke-width="0.8"/>
<path d="M238.92 26.11L240.68 29.41L237.16 29.41Z" fill="none" stroke="#000" stroke-width="0.8"/>
<path d="M242.54 25.83L244.30 29.13L240.78 29.13Z" fill="none" stroke="#000" stroke-width="0.8"/>
<path d="M246.16 25.56L247.92 28.86L244.40 28.86Z" fill="none" stroke="#000" stroke-width="0.8"/>
<path d="M249.78 25.31L251.54 28.61L248.02 28.61Z" fill="none" stroke="#000" stroke-width="0.8"/>
<path d="M253.40 25.07L255.16 28.37L251.64 28.37Z" fill="none" stroke="#000" stroke-width="0.8"/>
<polyline points="36.20,200.80 39.82,159.62 43.44,151.89 47.06,140.31 50.68,126.93 54.30,116.63 57.92,109.42 61.54,100.41 65.16,92.69 68.78,86.26 72.40,81.11 76.02,76.41 79.64,72.10 83.26,68.04 86.88,64.25 90.50,61.16 94.12,58.71 97.74,56.52 101.36,54.60 104.98,52.93 108.60,51.51 112.22,50.38 115.84,49.43 119.46,48.39 123.08,47.28 126.70,46.36 130.32,45.72 133.94,45.18 137.56,44.71 141.18,44.26 144.80,43.79 148.42,43.26 152.04,42.69 155.66,42.10 159.28,41.50 162.90,40.92 166.52,40.37 170.14,39.88 173.76,39.46 177.38,39.12 181.00,38.90 184.62,38.76 188.24,38.66 191.86,38.59 195.48,38.51 199.10,38.41 202.72,38.25 206.34,37.83 209.96,37.03 213.58,36.00 217.20,34.86 220.82,33.75 224.44,32.82 228.06,32.20 231.68,31.79 235.30,31.39 238.92,31.03 242.54,30.73 246.16,30.48 249.78,30.33 253.40,30.27" fill="none" stroke="#000" stroke-width="0.7"/>
<path d="M39.82 155.67V163.56M38.52 155.67h2.6M38.52 163.56h2.6" stroke="#000" stroke-width="0.6" fill="none"/>
<path d="M43.44 147.86V155.93M42.14 147.86h2.6M42.14 155.93h2.6" stroke="#000" stroke-width="0.6" fill="none"/>
<path d="M47.06 136.19V144.43M45.76 136.19h2.6M45.76 144.43h2.6" stroke="#000" stroke-width="0.6" fill="none"/>
<path d="M50.68 122.72V131.13M49.38 122.72h2.6M49.38 131.13h2.6" stroke="#000" stroke-width="0.6" fill="none"/>
<path d="M54.30 112.34V120.92M53.00 112.34h2.6M53.00 120.92h2.6" stroke="#000" stroke-width="0.6" fill="none"/>
<path d="M57.92 105.05V113.80M56.62 105.05h2.6M56.62 113.80h2.6" stroke="#000" stroke-width="0.6" fill="none"/>
<path d="M61.54 95.95V104.88M60.24 95.95h2.6M60.24 104.88h2.6" stroke="#000" stroke-width="0.6" fill="none"/>
<path d="M65.16 88.14V97.24M63.86 88.14h2.6M63.86 97.24h2.6" stroke="#000" stroke-width="0.6" fill="none"/>
<path d="M68.78 81.62V90.89M67.48 81.62h2.6M67.48 90.89h2.6" stroke="#000" stroke-width="0.6" fill="none"/>
<path d="M72.40 76.39V85.83M71.10 76.39h2.6M71.10 85.83h2.6" stroke="#000" stroke-width="0.6" fill="none"/>
<path d="M76.02 71.60V81.21M74.72 71.60h2.6M74.72 81.21h2.6" stroke="#000" stroke-width="0.6" fill="none"/>
<path d="M79.64 67.21V76.99M78.34 67.21h2.6M78.34 76.99h2.6" stroke="#000" stroke-width="0.6" fill="none"/>
<path d="M83.26 63.06V73.01M81.96 63.06h2.6M81.96 73.01h2.6" stroke="#000" stroke-width="0.6" fill="none"/>
<path d="M86.88 59.18V69.31M85.58 59.18h2.6M85.58 69.31h2.6" stroke="#000" stroke-width="0.6" fill="none"/>
<path d="M90.50 56.01V66.31M89.20 56.01h2.6M89.20 66.31h2.6" stroke="#000" stroke-width="0.6" fill="none"/>
<path d="M94.12 53.56V63.85M92.82 53.56h2.6M92.82 63.85h2.6" stroke="#000" stroke-width="0.6" fill="none"/>
<path d="M97.74 51.37V61.67M96.44 51.37h2.6M96.44 61.67h2.6" stroke="#000" stroke-width="0.6" fill="none"/>
<path d="M101.36 49.45V59.75M100.06 49.45h2.6M100.06 59.75h2.6" stroke="#000" stroke-width="0.6" fill="none"/>
<path d="M104.98 47.78V58.08M103.68 47.78h2.6M103.68 58.08h2.6" stroke="#000" stroke-width="0.6" fill="none"/>
<path d="M108.60 46.36V56.66M107.30 46.36h2.6M107.30 56.66h2.6" stroke="#000" stroke-width="0.6" fill="none"/>
<path d="M112.22 45.23V55.53M110.92 45.23h2.6M110.92 55.53h2.6" stroke="#000" stroke-width="0.6" fill="none"/>
<path d="M115.84 44.28V54.58M114.54 44.28h2.6M114.54 54.58h2.6" stroke="#000" stroke-width="0.6" fill="none"/>
<path d="M119.46 43.25V53.54M118.16 43.25h2.6M118.16 53.54h2.6" stroke="#000" stroke-width="0.6" fill="none"/>
<path d="M123.08 42.13V52.42M121.78 42.13h2.6M121.78 52.42h2.6" stroke="#000" stroke-width="0.6" fill="none"/>
<path d="M126.70 41.21V51.51M125.40 41.21h2.6M125.40 51.51h2.6" stroke="#000" stroke-width="0.6" fill="none"/>
<path d="M130.32 40.57V50.86M129.02 40.57h2.6M129.02 50.86h2.6" stroke="#000" stroke-width="0.6" fill="none"/>
<path d="M133.94 40.03V50.33M132.64 40.03h2.6M132.64 50.33h2.6" stroke="#000" stroke-width="0.6" fill="none"/>
<path d="M137.56 39.56V49.86M136.26 39.56h2.6M136.26 49.86h2.6" stroke="#000" stroke-width="0.6" fill="none"/>
<path d="M141.18 39.11V49.41M139.88 39.11h2.6M139.88 49.41h2.6" stroke="#000" stroke-width="0.6" fill="none"/>
<path d="M144.80 38.64V48.93M143.50 38.64h2.6M143.50 48.93h2.6" stroke="#000" stroke-width="0.6" fill="none"/>
<path d="M148.42 38.11V48.40M147.12 38.11h2.6M147.12 48.40h2.6" stroke="#000" stroke-width="0.6" fill="none"/>
<path d="M152.04 37.54V47.83M150.74 37.54h2.6M150.74 47.83h2.6" stroke="#000" stroke-width="0.6" fill="none"/>
<path d="M155.66 36.95V47.24M154.36 36.95h2.6M154.36 47.24h2.6" stroke="#000" stroke-width="0.6" fill="none"/>
<path d="M159.28 36.35V46.65M157.98 36.35h2.6M157.98 46.65h2.6" stroke="#000" stroke-width="0.6" fill="none"/>
<path d="M162.90 35.77V46.07M161.60 35.77h2.6M161.60 46.07h2.6" stroke="#000" stroke-width="0.6" fill="none"/>
<path d="M166.52 35.36V45.39M165.22 35.36h2.6M165.22 45.39h2.6" stroke="#000" stroke-width="0.6" fill="none"/>
<path d="M170.14 34.99V44.77M168.84 34.99h2.6M168.84 44.77h2.6" stroke="#000" stroke-width="0.6" fill="none"/>
<path d="M173.76 34.69V44.22M172.46 34.69h2.6M172.46 44.22h2.6" stroke="#000" stroke-width="0.6" fill="none"/>
<path d="M177.38 34.49V43.76M176.08 34.49h2.6M176.08 43.76h2.6" stroke="#000" stroke-width="0.6" fill="none"/>
<path d="M181.00 34.39V43.40M179.70 34.39h2.6M179.70 43.40h2.6" stroke="#000" stroke-width="0.6" fill="none"/>
<path d="M184.62 34.38V43.13M183.32 34.38h2.6M183.32 43.13h2.6" stroke="#000" stroke-width="0.6" fill="none"/>
<path d="M188.24 34.42V42.91M186.94 34.42h2.6M186.94 42.91h2.6" stroke="#000" stroke-width="0.6" fill="none"/>
<path d="M191.86 34.47V42.71M190.56 34.47h2.6M190.56 42.71h2.6" stroke="#000" stroke-width="0.6" fill="none"/>
<path d="M195.48 34.52V42.50M194.18 34.52h2.6M194.18 42.50h2.6" stroke="#000" stroke-width="0.6" fill="none"/>
<path d="M199.10 34.55V42.27M197.80 34.55h2.6M197.80 42.27h2.6" stroke="#000" stroke-width="0.6" fill="none"/>
<path d="M202.72 34.39V42.11M201.42 34.39h2.6M201.42 42.11h2.6" stroke="#000" stroke-width="0.6" fill="none"/>
<path d="M206.34 33.97V41.69M205.04 33.97h2.6M205.04 41.69h2.6" stroke="#000" stroke-width="0.6" fill="none"/>
<path d="M209.96 33.17V40.89M208.66 33.17h2.6M208.66 40.89h2.6" stroke="#000" stroke-width="0.6" fill="none"/>
<path d="M213.58 32.13V39.86M212.28 32.13h2.6M212.28 39.86h2.6" stroke="#000" stroke-width="0.6" fill="none"/>
<path d="M217.20 30.99V38.72M215.90 30.99h2.6M215.90 38.72h2.6" stroke="#000" stroke-width="0.6" fill="none"/>
<path d="M220.82 29.89V37.61M219.52 29.89h2.6M219.52 37.61h2.6" stroke="#000" stroke-width="0.6" fill="none"/>
<path d="M224.44 28.96V36.68M223.14 28.96h2.6M223.14 36.68h2.6" stroke="#000" stroke-width="0.6" fill="none"/>
<path d="M228.06 28.34V36.06M226.76 28.34h2.6M226.76 36.06h2.6" stroke="#000" stroke-width="0.6" fill="none"/>
<path d="M231.68 27.93V35.65M230.38 27.93h2.6M230.38 35.65h2.6" stroke="#000" stroke-width="0.6" fill="none"/>
<path d="M235.30 27.53V35.25M234.00 27.53h2.6M234.00 35.25h2.6" stroke="#000" stroke-width="0.6" fill="none"/>
<path d="M238.92 27.17V34.89M237.62 27.17h2.6M237.62 34.89h2.6" stroke="#000" stroke-width="0.6" fill="none"/>
<path d="M242.54 26.86V34.59M241.24 26.86h2.6M241.24 34.59h2.6" stroke="#000" stroke-width="0.6" fill="none"/>
<path d="M246.16 26.62V34.35M244.86 26.62h2.6M244.86 34.35h2.6" stroke="#000" stroke-width="0.6" fill="none"/>
<path d="M249.78 26.47V34.19M248.48 26.47h2.6M248.48 34.19h2.6" stroke="#000" stroke-width="0.6" fill="none"/>
<path d="M253.40 26.41V34.13M252.10 26.41h2.6M252.10 34.13h2.6" stroke="#000" stroke-width="0.6" fill="none"/>
<path d="M36.20 198.60L38.29 202.34L34.11 202.34Z" fill="#000"/>
<path d="M39.82 157.42L41.91 161.16L37.73 161.16Z" fill="#000"/>
<path d="M43.44 149.69L45.53 153.43L41.35 153.43Z" fill="#000"/>
<path d="M47.06 138.11L49.15 141.85L44.97 141.85Z" fill="#000"/>
<path d="M50.68 124.73L52.77 128.47L48.59 128.47Z" fill="#000"/>
<path d="M54.30 114.43L56.39 118.17L52.21 118.17Z" fill="#000"/>
<path d="M57.92 107.22L60.01 110.96L55.83 110.96Z" fill="#000"/>
<path d="M61.54 98.21L63.63 101.95L59.45 101.95Z" fill="#000"/>
<path d="M65.16 90.49L67.25 94.23L63.07 94.23Z" fill="#000"/>
<path d="M68.78 84.06L70.87 87.80L66.69 87.80Z" fill="#000"/>
<path d="M72.40 78.91L74.49 82.65L70.31 82.65Z" fill="#000"/>
<path d="M76.02 74.21L78.11 77.95L73.93 77.95Z" fill="#000"/>
<path d="M79.64 69.90L81.73 73.64L77.55 73.64Z" fill="#000"/>
<path d="M83.26 65.84L85.35 69.58L81.17 69.58Z" fill="#000"/>
<path d="M86.88 62.05L88.97 65.79L84.79 65.79Z" fill="#000"/>
<path d="M90.50 58.96L92.59 62.70L88.41 62.70Z" fill="#000"/>
<path d="M94.12 56.51L96.21 60.25L92.03 60.25Z" fill="#000"/>
<path d="M97.74 54.32L99.83 58.06L95.65 58.06Z" fill="#000"/>
<path d="M101.36 52.40L103.45 56.14L99.27 56.14Z" fill="#000"/>
<path d="M104.98 50.73L107.07 54.47L102.89 54.47Z" fill="#000"/>
<path d="M108.60 49.31L110.69 53.05L106.51 53.05Z" fill="#000"/>
<path d="M112.22 48.18L114.31 51.92L110.13 51.92Z" fill="#000"/>
<path d="M115.84 47.23L117.93 50.97L113.75 50.97Z" fill="#000"/>
<path d="M119.46 46.19L121.55 49.93L117.37 49.93Z" fill="#000"/>
<path d="M123.08 45.08L125.17 48.82L120.99 48.82Z" fill="#000"/>
<path d="M126.70 44.16L128.79 47.90L124.61 47.90Z" fill="#000"/>
<path d="M130.32 43.52L132.41 47.26L128.23 47.26Z" fill="#000"/>
<path d="M133.94 42.98L136.03 46.72L131.85 46.72Z" fill="#000"/>
<path d="M137.56 42.51L139.65 46.25L135.47 46.25Z" fill="#000"/>
<path d="M141.18 42.06L143.27 45.80L139.09 45.80Z" fill="#000"/>
<path d="M144.80 41.59L146.89 45.33L142.71 45.33Z" fill="#000"/>
<path d="M148.42 41.06L150.51 44.80L146.33 44.80Z" fill="#000"/>
<path d="M152.04 40.49L154.13 44.23L149.95 44.23Z" fill="#000"/>
<path d="M155.66 39.90L157.75 43.64L153.57 43.64Z" fill="#000"/>
<path d="M159.28 39.30L161.37 43.04L157.19 43.04Z" fill="#000"/>
<path d="M162.90 38.72L164.99 42.46L160.81 42.46Z" fill="#000"/>
<path d="M166.52 38.17L168.61 41.91L164.43 41.91Z" fill="#000"/>
<path d="M170.14 37.68L172.23 41.42L168.05 41.42Z" fill="#000"/>
<path d="M173.76 37.26L175.85 41.00L171.67 41.00Z" fill="#000"/>
<path d="M177.38 36.92L179.47 40.66L175.29 40.66Z" fill="#000"/>
<path d="M181.00 36.70L183.09 40.44L178.91 40.44Z" fill="#000"/>
<path d="M184.62 36.56L186.71 40.30L182.53 40.30Z" fill="#000"/>
<path d="M188.24 36.46L190.33 40.20L186.15 40.20Z" fill="#000"/>
<path d="M191.86 36.39L193.95 40.13L189.77 40.13Z" fill="#000"/>
<path d="M195.48 36.31L197.57 40.05L193.39 40.05Z" fill="#000"/>
<path d="M199.10 36.21L201.19 39.95L197.01 39.95Z" fill="#000"/>
<path d="M202.72 36.05L204.81 39.79L200.63 39.79Z" fill="#000"/>
<path d="M206.34 35.63L208.43 39.37L204.25 39.37Z" fill="#000"/>
<path d="M209.96 34.83L212.05 38.57L207.87 38.57Z" fill="#000"/>
<path d="M213.58 33.80L215.67 37.54L211.49 37.54Z" fill="#000"/>
<path d="M217.20 32.66L219.29 36.40L215.11 36.40Z" fill="#000"/>
<path d="M220.82 31.55L222.91 35.29L218.73 35.29Z" fill="#000"/>
<path d="M224.44 30.62L226.53 34.36L222.35 34.36Z" fill="#000"/>
<path d="M228.06 30.00L230.15 33.74L225.97 33.74Z" fill="#000"/>
<path d="M231.68 29.59L233.77 33.33L229.59 33.33Z" fill="#000"/>
<path d="M235.30 29.19L237.39 32.93L233.21 32.93Z" fill="#000"/>
<path d="M238.92 28.83L241.01 32.57L236.83 32.57Z" fill="#000"/>
<path d="M242.54 28.53L244.63 32.27L240.45 32.27Z" fill="#000"/>
<path d="M246.16 28.28L248.25 32.02L244.07 32.02Z" fill="#000"/>
<path d="M249.78 28.13L251.87 31.87L247.69 31.87Z" fill="#000"/>
<path d="M253.40 28.07L255.49 31.81L251.31 31.81Z" fill="#000"/>
<polyline points="36.20,200.80 39.82,151.89 43.44,131.30 47.06,115.86 50.68,104.28 54.30,95.91 57.92,88.83 61.54,83.04 65.16,77.25 68.78,72.10 72.40,66.31 76.02,62.43 79.64,59.23 83.26,56.14 86.88,53.28 90.50,50.86 94.12,48.91 97.74,47.22 101.36,45.67 104.98,44.14 108.60,42.50 112.22,40.69 115.84,38.86 119.46,37.16 123.08,35.55 126.70,34.13 130.32,32.86 133.94,31.62 137.56,30.51 141.18,29.60 144.80,28.99 148.42,28.58 152.04,28.23 155.66,27.93 159.28,27.67 162.90,27.44 166.52,27.23 170.14,27.03 173.76,26.84 177.38,26.63 181.00,26.41 184.62,26.18 188.24,25.96 191.86,25.74 195.48,25.53 199.10,25.33 202.72,25.12 206.34,24.93 209.96,24.76 213.58,24.59 217.20,24.41 220.82,24.24 224.44,24.05 228.06,23.84 231.68,23.61 235.30,23.36 238.92,23.10 242.54,22.82 246.16,22.53 249.78,22.22 253.40,21.91" fill="none" stroke="#000" stroke-width="0.7"/>
<path d="M39.82 148.05V155.73M38.52 148.05h2.6M38.52 155.73h2.6" stroke="#000" stroke-width="0.6" fill="none"/>
<path d="M43.44 127.48V135.12M42.14 127.48h2.6M42.14 135.12h2.6" stroke="#000" stroke-width="0.6" fill="none"/>
<path d="M47.06 112.06V119.65M45.76 112.06h2.6M45.76 119.65h2.6" stroke="#000" stroke-width="0.6" fill="none"/>
<path d="M50.68 100.50V108.05M49.38 100.50h2.6M49.38 108.05h2.6" stroke="#000" stroke-width="0.6" fill="none"/>
<path d="M54.30 92.16V99.66M53.00 92.16h2.6M53.00 99.66h2.6" stroke="#000" stroke-width="0.6" fill="none"/>
<path d="M57.92 85.10V92.56M56.62 85.10h2.6M56.62 92.56h2.6" stroke="#000" stroke-width="0.6" fill="none"/>
<path d="M61.54 79.33V86.75M60.24 79.33h2.6M60.24 86.75h2.6" stroke="#000" stroke-width="0.6" fill="none"/>
<path d="M65.16 73.56V80.94M63.86 73.56h2.6M63.86 80.94h2.6" stroke="#000" stroke-width="0.6" fill="none"/>
<path d="M68.78 68.43V75.77M67.48 68.43h2.6M67.48 75.77h2.6" stroke="#000" stroke-width="0.6" fill="none"/>
<path d="M72.40 62.66V69.96M71.10 62.66h2.6M71.10 69.96h2.6" stroke="#000" stroke-width="0.6" fill="none"/>
<path d="M76.02 58.80V66.05M74.72 58.80h2.6M74.72 66.05h2.6" stroke="#000" stroke-width="0.6" fill="none"/>
<path d="M79.64 55.63V62.83M78.34 55.63h2.6M78.34 62.83h2.6" stroke="#000" stroke-width="0.6" fill="none"/>
<path d="M83.26 52.56V59.72M81.96 52.56h2.6M81.96 59.72h2.6" stroke="#000" stroke-width="0.6" fill="none"/>
<path d="M86.88 49.72V56.84M85.58 49.72h2.6M85.58 56.84h2.6" stroke="#000" stroke-width="0.6" fill="none"/>
<path d="M90.50 47.33V54.40M89.20 47.33h2.6M89.20 54.40h2.6" stroke="#000" stroke-width="0.6" fill="none"/>
<path d="M94.12 45.39V52.42M92.82 45.39h2.6M92.82 52.42h2.6" stroke="#000" stroke-width="0.6" fill="none"/>
<path d="M97.74 43.72V50.71M96.44 43.72h2.6M96.44 50.71h2.6" stroke="#000" stroke-width="0.6" fill="none"/>
<path d="M101.36 42.20V49.15M100.06 42.20h2.6M100.06 49.15h2.6" stroke="#000" stroke-width="0.6" fill="none"/>
<path d="M104.98 40.69V47.60M103.68 40.69h2.6M103.68 47.60h2.6" stroke="#000" stroke-width="0.6" fill="none"/>
<path d="M108.60 39.07V45.93M107.30 39.07h2.6M107.30 45.93h2.6" stroke="#000" stroke-width="0.6" fill="none"/>
<path d="M112.22 37.27V44.10M110.92 37.27h2.6M110.92 44.10h2.6" stroke="#000" stroke-width="0.6" fill="none"/>
<path d="M115.84 35.47V42.24M114.54 35.47h2.6M114.54 42.24h2.6" stroke="#000" stroke-width="0.6" fill="none"/>
<path d="M119.46 33.79V40.53M118.16 33.79h2.6M118.16 40.53h2.6" stroke="#000" stroke-width="0.6" fill="none"/>
<path d="M123.08 32.20V38.89M121.78 32.20h2.6M121.78 38.89h2.6" stroke="#000" stroke-width="0.6" fill="none"/>
<path d="M126.70 30.81V37.46M125.40 30.81h2.6M125.40 37.46h2.6" stroke="#000" stroke-width="0.6" fill="none"/>
<path d="M130.32 29.56V36.16M129.02 29.56h2.6M129.02 36.16h2.6" stroke="#000" stroke-width="0.6" fill="none"/>
<path d="M133.94 28.34V34.91M132.64 28.34h2.6M132.64 34.91h2.6" stroke="#000" stroke-width="0.6" fill="none"/>
<path d="M137.56 27.25V33.77M136.26 27.25h2.6M136.26 33.77h2.6" stroke="#000" stroke-width="0.6" fill="none"/>
<path d="M141.18 26.36V32.84M139.88 26.36h2.6M139.88 32.84h2.6" stroke="#000" stroke-width="0.6" fill="none"/>
<path d="M144.80 25.77V32.20M143.50 25.77h2.6M143.50 32.20h2.6" stroke="#000" stroke-width="0.6" fill="none"/>
<path d="M148.42 25.45V31.71M147.12 25.45h2.6M147.12 31.71h2.6" stroke="#000" stroke-width="0.6" fill="none"/>
<path d="M152.04 25.18V31.27M150.74 25.18h2.6M150.74 31.27h2.6" stroke="#000" stroke-width="0.6" fill="none"/>
<path d="M155.66 24.97V30.89M154.36 24.97h2.6M154.36 30.89h2.6" stroke="#000" stroke-width="0.6" fill="none"/>
<path d="M159.28 24.79V30.54M157.98 24.79h2.6M157.98 30.54h2.6" stroke="#000" stroke-width="0.6" fill="none"/>
<path d="M162.90 24.65V30.23M161.60 24.65h2.6M161.60 30.23h2.6" stroke="#000" stroke-width="0.6" fill="none"/>
<path d="M166.52 24.53V29.93M165.22 24.53h2.6M165.22 29.93h2.6" stroke="#000" stroke-width="0.6" fill="none"/>
<path d="M170.14 24.41V29.65M168.84 24.41h2.6M168.84 29.65h2.6" stroke="#000" stroke-width="0.6" fill="none"/>
<path d="M173.76 24.30V29.37M172.46 24.30h2.6M172.46 29.37h2.6" stroke="#000" stroke-width="0.6" fill="none"/>
<path d="M177.38 24.19V29.08M176.08 24.19h2.6M176.08 29.08h2.6" stroke="#000" stroke-width="0.6" fill="none"/>
<path d="M181.00 24.05V28.77M179.70 24.05h2.6M179.70 28.77h2.6" stroke="#000" stroke-width="0.6" fill="none"/>
<path d="M184.62 23.91V28.46M183.32 23.91h2.6M183.32 28.46h2.6" stroke="#000" stroke-width="0.6" fill="none"/>
<path d="M188.24 23.77V28.15M186.94 23.77h2.6M186.94 28.15h2.6" stroke="#000" stroke-width="0.6" fill="none"/>
<path d="M191.86 23.64V27.84M190.56 23.64h2.6M190.56 27.84h2.6" stroke="#000" stroke-width="0.6" fill="none"/>
<path d="M195.48 23.51V27.55M194.18 23.51h2.6M194.18 27.55h2.6" stroke="#000" stroke-width="0.6" fill="none"/>
<path d="M199.10 23.39V27.26M197.80 23.39h2.6M197.80 27.26h2.6" stroke="#000" stroke-width="0.6" fill="none"/>
<path d="M202.72 22.42V27.83M201.42 22.42h2.6M201.42 27.83h2.6" stroke="#000" stroke-width="0.6" fill="none"/>
<path d="M206.34 21.46V28.41M205.04 21.46h2.6M205.04 28.41h2.6" stroke="#000" stroke-width="0.6" fill="none"/>
<path d="M209.96 20.51V29.00M208.66 20.51h2.6M208.66 29.00h2.6" stroke="#000" stroke-width="0.6" fill="none"/>
<path d="M213.58 19.57V29.61M212.28 19.57h2.6M212.28 29.61h2.6" stroke="#000" stroke-width="0.6" fill="none"/>
<path d="M217.20 18.62V30.21M215.90 18.62h2.6M215.90 30.21h2.6" stroke="#000" stroke-width="0.6" fill="none"/>
<path d="M220.82 18.19V30.29M219.52 18.19h2.6M219.52 30.29h2.6" stroke="#000" stroke-width="0.6" fill="none"/>
<path d="M224.44 17.74V30.35M223.14 17.74h2.6M223.14 30.35h2.6" stroke="#000" stroke-width="0.6" fill="none"/>
<path d="M228.06 17.27V30.40M226.76 17.27h2.6M226.76 30.40h2.6" stroke="#000" stroke-width="0.6" fill="none"/>
<path d="M231.68 16.79V30.43M230.38 16.79h2.6M230.38 30.43h2.6" stroke="#000" stroke-width="0.6" fill="none"/>
<path d="M235.30 16.28V30.44M234.00 16.28h2.6M234.00 30.44h2.6" stroke="#000" stroke-width="0.6" fill="none"/>
<path d="M238.92 15.76V30.43M237.62 15.76h2.6M237.62 30.43h2.6" stroke="#000" stroke-width="0.6" fill="none"/>
<path d="M242.54 15.23V30.41M241.24 15.23h2.6M241.24 30.41h2.6" stroke="#000" stroke-width="0.6" fill="none"/>
<path d="M246.16 14.68V30.38M244.86 14.68h2.6M244.86 30.38h2.6" stroke="#000" stroke-width="0.6" fill="none"/>
<path d="M249.78 14.12V30.33M248.48 14.12h2.6M248.48 30.33h2.6" stroke="#000" stroke-width="0.6" fill="none"/>
<path d="M253.40 13.54V30.27M252.10 13.54h2.6M252.10 30.27h2.6" stroke="#000" stroke-width="0.6" fill="none"/>
<circle cx="36.20" cy="200.80" r="1.75" fill="none" stroke="#000" stroke-width="0.8"/>
<circle cx="39.82" cy="151.89" r="1.75" fill="none" stroke="#000" stroke-width="0.8"/>
<circle cx="43.44" cy="131.30" r="1.75" fill="none" stroke="#000" stroke-width="0.8"/>
<circle cx="47.06" cy="115.86" r="1.75" fill="none" stroke="#000" stroke-width="0.8"/>
<circle cx="50.68" cy="104.28" r="1.75" fill="none" stroke="#000" stroke-width="0.8"/>
<circle cx="54.30" cy="95.91" r="1.75" fill="none" stroke="#000" stroke-width="0.8"/>
<circle cx="57.92" cy="88.83" r="1.75" fill="none" stroke="#000" stroke-width="0.8"/>
<circle cx="61.54" cy="83.04" r="1.75" fill="none" stroke="#000" stroke-width="0.8"/>
<circle cx="65.16" cy="77.25" r="1.75" fill="none" stroke="#000" stroke-width="0.8"/>
<circle cx="68.78" cy="72.10" r="1.75" fill="none" stroke="#000" stroke-width="0.8"/>
<circle cx="72.40" cy="66.31" r="1.75" fill="none" stroke="#000" stroke-width="0.8"/>
<circle cx="76.02" cy="62.43" r="1.75" fill="none" stroke="#000" stroke-width="0.8"/>
<circle cx="79.64" cy="59.23" r="1.75" fill="none" stroke="#000" stroke-width="0.8"/>
<circle cx="83.26" cy="56.14" r="1.75" fill="none" stroke="#000" stroke-width="0.8"/>
<circle cx="86.88" cy="53.28" r="1.75" fill="none" stroke="#000" stroke-width="0.8"/>
<circle cx="90.50" cy="50.86" r="1.75" fill="none" stroke="#000" stroke-width="0.8"/>
<circle cx="94.12" cy="48.91" r="1.75" fill="none" stroke="#000" stroke-width="0.8"/>
<circle cx="97.74" cy="47.22" r="1.75" fill="none" stroke="#000" stroke-width="0.8"/>
<circle cx="101.36" cy="45.67" r="1.75" fill="none" stroke="#000" stroke-width="0.8"/>
<circle cx="104.98" cy="44.14" r="1.75" fill="none" stroke="#000" stroke-width="0.8"/>
<circle cx="108.60" cy="42.50" r="1.75" fill="none" stroke="#000" stroke-width="0.8"/>
<circle cx="112.22" cy="40.69" r="1.75" fill="none" stroke="#000" stroke-width="0.8"/>
<circle cx="115.84" cy="38.86" r="1.75" fill="none" stroke="#000" stroke-width="0.8"/>
<circle cx="119.46" cy="37.16" r="1.75" fill="none" stroke="#000" stroke-width="0.8"/>
<circle cx="123.08" cy="35.55" r="1.75" fill="none" stroke="#000" stroke-width="0.8"/>
<circle cx="126.70" cy="34.13" r="1.75" fill="none" stroke="#000" stroke-width="0.8"/>
<circle cx="130.32" cy="32.86" r="1.75" fill="none" stroke="#000" stroke-width="0.8"/>
<circle cx="133.94" cy="31.62" r="1.75" fill="none" stroke="#000" stroke-width="0.8"/>
<circle cx="137.56" cy="30.51" r="1.75" fill="none" stroke="#000" stroke-width="0.8"/>
<circle cx="141.18" cy="29.60" r="1.75" fill="none" stroke="#000" stroke-width="0.8"/>
<circle cx="144.80" cy="28.99" r="1.75" fill="none" stroke="#000" stroke-width="0.8"/>
<circle cx="148.42" cy="28.58" r="1.75" fill="none" stroke="#000" stroke-width="0.8"/>
<circle cx="152.04" cy="28.23" r="1.75" fill="none" stroke="#000" stroke-width="0.8"/>
<circle cx="155.66" cy="27.93" r="1.75" fill="none" stroke="#000" stroke-width="0.8"/>
<circle cx="159.28" cy="27.67" r="1.75" fill="none" stroke="#000" stroke-width="0.8"/>
<circle cx="162.90" cy="27.44" r="1.75" fill="none" stroke="#000" stroke-width="0.8"/>
<circle cx="166.52" cy="27.23" r="1.75" fill="none" stroke="#000" stroke-width="0.8"/>
<circle cx="170.14" cy="27.03" r="1.75" fill="none" stroke="#000" stroke-width="0.8"/>
<circle cx="173.76" cy="26.84" r="1.75" fill="none" stroke="#000" stroke-width="0.8"/>
<circle cx="177.38" cy="26.63" r="1.75" fill="none" stroke="#000" stroke-width="0.8"/>
<circle cx="181.00" cy="26.41" r="1.75" fill="none" stroke="#000" stroke-width="0.8"/>
<circle cx="184.62" cy="26.18" r="1.75" fill="none" stroke="#000" stroke-width="0.8"/>
<circle cx="188.24" cy="25.96" r="1.75" fill="none" stroke="#000" stroke-width="0.8"/>
<circle cx="191.86" cy="25.74" r="1.75" fill="none" stroke="#000" stroke-width="0.8"/>
<circle cx="195.48" cy="25.53" r="1.75" fill="none" stroke="#000" stroke-width="0.8"/>
<circle cx="199.10" cy="25.33" r="1.75" fill="none" stroke="#000" stroke-width="0.8"/>
<circle cx="202.72" cy="25.12" r="1.75" fill="none" stroke="#000" stroke-width="0.8"/>
<circle cx="206.34" cy="24.93" r="1.75" fill="none" stroke="#000" stroke-width="0.8"/>
<circle cx="209.96" cy="24.76" r="1.75" fill="none" stroke="#000" stroke-width="0.8"/>
<circle cx="213.58" cy="24.59" r="1.75" fill="none" stroke="#000" stroke-width="0.8"/>
<circle cx="217.20" cy="24.41" r="1.75" fill="none" stroke="#000" stroke-width="0.8"/>
<circle cx="220.82" cy="24.24" r="1.75" fill="none" stroke="#000" stroke-width="0.8"/>
<circle cx="224.44" cy="24.05" r="1.75" fill="none" stroke="#000" stroke-width="0.8"/>
<circle cx="228.06" cy="23.84" r="1.75" fill="none" stroke="#000" stroke-width="0.8"/>
<circle cx="231.68" cy="23.61" r="1.75" fill="none" stroke="#000" stroke-width="0.8"/>
<circle cx="235.30" cy="23.36" r="1.75" fill="none" stroke="#000" stroke-width="0.8"/>
<circle cx="238.92" cy="23.10" r="1.75" fill="none" stroke="#000" stroke-width="0.8"/>
<circle cx="242.54" cy="22.82" r="1.75" fill="none" stroke="#000" stroke-width="0.8"/>
<circle cx="246.16" cy="22.53" r="1.75" fill="none" stroke="#000" stroke-width="0.8"/>
<circle cx="249.78" cy="22.22" r="1.75" fill="none" stroke="#000" stroke-width="0.8"/>
<circle cx="253.40" cy="21.91" r="1.75" fill="none" stroke="#000" stroke-width="0.8"/>
<polyline points="36.20,200.80 39.82,145.46 43.44,122.94 47.06,106.21 50.68,92.43 54.30,82.91 57.92,76.86 61.54,71.07 65.16,67.85 68.78,63.35 72.40,59.74 76.02,57.88 79.64,56.14 83.26,53.17 86.88,49.65 90.50,47.00 94.12,45.43 97.74,44.14 101.36,43.07 104.98,42.12 108.60,41.21 112.22,40.35 115.84,39.61 119.46,39.00 123.08,38.52 126.70,37.99 130.32,37.32 133.94,36.56 137.56,35.74 141.18,34.91 144.80,34.13 148.42,33.36 152.04,32.55 155.66,31.71 159.28,30.88 162.90,30.06 166.52,29.29 170.14,28.58 173.76,27.96 177.38,27.44 181.00,27.06 184.62,26.77 188.24,26.53 191.86,26.32 195.48,26.14 199.10,25.96 202.72,25.77 206.34,25.58 209.96,25.42 213.58,25.26 217.20,25.10 220.82,24.92 224.44,24.72 228.06,24.48 231.68,24.18 235.30,23.82 238.92,23.40 242.54,22.92 246.16,22.40 249.78,21.85 253.40,21.26" fill="none" stroke="#000" stroke-width="0.7"/>
<path d="M39.82 141.60V149.32M38.52 141.60h2.6M38.52 149.32h2.6" stroke="#000" stroke-width="0.6" fill="none"/>
<path d="M43.44 119.08V126.80M42.14 119.08h2.6M42.14 126.80h2.6" stroke="#000" stroke-width="0.6" fill="none"/>
<path d="M47.06 102.34V110.07M45.76 102.34h2.6M45.76 110.07h2.6" stroke="#000" stroke-width="0.6" fill="none"/>
<path d="M50.68 88.57V96.30M49.38 88.57h2.6M49.38 96.30h2.6" stroke="#000" stroke-width="0.6" fill="none"/>
<path d="M54.30 79.05V86.77M53.00 79.05h2.6M53.00 86.77h2.6" stroke="#000" stroke-width="0.6" fill="none"/>
<path d="M57.92 73.00V80.72M56.62 73.00h2.6M56.62 80.72h2.6" stroke="#000" stroke-width="0.6" fill="none"/>
<path d="M61.54 67.21V74.93M60.24 67.21h2.6M60.24 74.93h2.6" stroke="#000" stroke-width="0.6" fill="none"/>
<path d="M65.16 63.99V71.71M63.86 63.99h2.6M63.86 71.71h2.6" stroke="#000" stroke-width="0.6" fill="none"/>
<path d="M68.78 59.49V67.21M67.48 59.49h2.6M67.48 67.21h2.6" stroke="#000" stroke-width="0.6" fill="none"/>
<path d="M72.40 55.88V63.61M71.10 55.88h2.6M71.10 63.61h2.6" stroke="#000" stroke-width="0.6" fill="none"/>
<path d="M76.02 54.01V61.74M74.72 54.01h2.6M74.72 61.74h2.6" stroke="#000" stroke-width="0.6" fill="none"/>
<path d="M79.64 52.28V60.00M78.34 52.28h2.6M78.34 60.00h2.6" stroke="#000" stroke-width="0.6" fill="none"/>
<path d="M83.26 49.31V57.03M81.96 49.31h2.6M81.96 57.03h2.6" stroke="#000" stroke-width="0.6" fill="none"/>
<path d="M86.88 45.79V53.51M85.58 45.79h2.6M85.58 53.51h2.6" stroke="#000" stroke-width="0.6" fill="none"/>
<path d="M90.50 43.14V50.86M89.20 43.14h2.6M89.20 50.86h2.6" stroke="#000" stroke-width="0.6" fill="none"/>
<path d="M94.12 41.57V49.29M92.82 41.57h2.6M92.82 49.29h2.6" stroke="#000" stroke-width="0.6" fill="none"/>
<path d="M97.74 40.28V48.01M96.44 40.28h2.6M96.44 48.01h2.6" stroke="#000" stroke-width="0.6" fill="none"/>
<path d="M101.36 39.21V46.93M100.06 39.21h2.6M100.06 46.93h2.6" stroke="#000" stroke-width="0.6" fill="none"/>
<path d="M104.98 38.25V45.98M103.68 38.25h2.6M103.68 45.98h2.6" stroke="#000" stroke-width="0.6" fill="none"/>
<path d="M108.60 37.35V45.07M107.30 37.35h2.6M107.30 45.07h2.6" stroke="#000" stroke-width="0.6" fill="none"/>
<path d="M112.22 36.49V44.22M110.92 36.49h2.6M110.92 44.22h2.6" stroke="#000" stroke-width="0.6" fill="none"/>
<path d="M115.84 35.75V43.47M114.54 35.75h2.6M114.54 43.47h2.6" stroke="#000" stroke-width="0.6" fill="none"/>
<path d="M119.46 35.14V42.86M118.16 35.14h2.6M118.16 42.86h2.6" stroke="#000" stroke-width="0.6" fill="none"/>
<path d="M123.08 34.66V42.38M121.78 34.66h2.6M121.78 42.38h2.6" stroke="#000" stroke-width="0.6" fill="none"/>
<path d="M126.70 34.13V41.86M125.40 34.13h2.6M125.40 41.86h2.6" stroke="#000" stroke-width="0.6" fill="none"/>
<path d="M130.32 33.46V41.19M129.02 33.46h2.6M129.02 41.19h2.6" stroke="#000" stroke-width="0.6" fill="none"/>
<path d="M133.94 32.70V40.42M132.64 32.70h2.6M132.64 40.42h2.6" stroke="#000" stroke-width="0.6" fill="none"/>
<path d="M137.56 31.88V39.60M136.26 31.88h2.6M136.26 39.60h2.6" stroke="#000" stroke-width="0.6" fill="none"/>
<path d="M141.18 31.05V38.77M139.88 31.05h2.6M139.88 38.77h2.6" stroke="#000" stroke-width="0.6" fill="none"/>
<path d="M144.80 30.27V37.99M143.50 30.27h2.6M143.50 37.99h2.6" stroke="#000" stroke-width="0.6" fill="none"/>
<path d="M148.42 29.63V37.09M147.12 29.63h2.6M147.12 37.09h2.6" stroke="#000" stroke-width="0.6" fill="none"/>
<path d="M152.04 28.94V36.15M150.74 28.94h2.6M150.74 36.15h2.6" stroke="#000" stroke-width="0.6" fill="none"/>
<path d="M155.66 28.24V35.19M154.36 28.24h2.6M154.36 35.19h2.6" stroke="#000" stroke-width="0.6" fill="none"/>
<path d="M159.28 27.53V34.22M157.98 27.53h2.6M157.98 34.22h2.6" stroke="#000" stroke-width="0.6" fill="none"/>
<path d="M162.90 26.84V33.28M161.60 26.84h2.6M161.60 33.28h2.6" stroke="#000" stroke-width="0.6" fill="none"/>
<path d="M166.52 26.20V32.38M165.22 26.20h2.6M165.22 32.38h2.6" stroke="#000" stroke-width="0.6" fill="none"/>
<path d="M170.14 25.62V31.54M168.84 25.62h2.6M168.84 31.54h2.6" stroke="#000" stroke-width="0.6" fill="none"/>
<path d="M173.76 25.13V30.79M172.46 25.13h2.6M172.46 30.79h2.6" stroke="#000" stroke-width="0.6" fill="none"/>
<path d="M177.38 24.74V30.14M176.08 24.74h2.6M176.08 30.14h2.6" stroke="#000" stroke-width="0.6" fill="none"/>
<path d="M181.00 24.48V29.63M179.70 24.48h2.6M179.70 29.63h2.6" stroke="#000" stroke-width="0.6" fill="none"/>
<path d="M184.62 24.19V29.34M183.32 24.19h2.6M183.32 29.34h2.6" stroke="#000" stroke-width="0.6" fill="none"/>
<path d="M188.24 23.96V29.10M186.94 23.96h2.6M186.94 29.10h2.6" stroke="#000" stroke-width="0.6" fill="none"/>
<path d="M191.86 23.75V28.90M190.56 23.75h2.6M190.56 28.90h2.6" stroke="#000" stroke-width="0.6" fill="none"/>
<path d="M195.48 23.56V28.71M194.18 23.56h2.6M194.18 28.71h2.6" stroke="#000" stroke-width="0.6" fill="none"/>
<path d="M199.10 23.38V28.53M197.80 23.38h2.6M197.80 28.53h2.6" stroke="#000" stroke-width="0.6" fill="none"/>
<path d="M202.72 23.19V28.34M201.42 23.19h2.6M201.42 28.34h2.6" stroke="#000" stroke-width="0.6" fill="none"/>
<path d="M206.34 23.01V28.16M205.04 23.01h2.6M205.04 28.16h2.6" stroke="#000" stroke-width="0.6" fill="none"/>
<path d="M209.96 22.84V27.99M208.66 22.84h2.6M208.66 27.99h2.6" stroke="#000" stroke-width="0.6" fill="none"/>
<path d="M213.58 22.69V27.83M212.28 22.69h2.6M212.28 27.83h2.6" stroke="#000" stroke-width="0.6" fill="none"/>
<path d="M217.20 22.53V27.67M215.90 22.53h2.6M215.90 27.67h2.6" stroke="#000" stroke-width="0.6" fill="none"/>
<path d="M220.82 22.35V27.50M219.52 22.35h2.6M219.52 27.50h2.6" stroke="#000" stroke-width="0.6" fill="none"/>
<path d="M224.44 22.15V27.29M223.14 22.15h2.6M223.14 27.29h2.6" stroke="#000" stroke-width="0.6" fill="none"/>
<path d="M228.06 21.91V27.06M226.76 21.91h2.6M226.76 27.06h2.6" stroke="#000" stroke-width="0.6" fill="none"/>
<path d="M231.68 21.61V26.76M230.38 21.61h2.6M230.38 26.76h2.6" stroke="#000" stroke-width="0.6" fill="none"/>
<path d="M235.30 21.25V26.39M234.00 21.25h2.6M234.00 26.39h2.6" stroke="#000" stroke-width="0.6" fill="none"/>
<path d="M238.92 20.82V25.97M237.62 20.82h2.6M237.62 25.97h2.6" stroke="#000" stroke-width="0.6" fill="none"/>
<path d="M242.54 20.35V25.50M241.24 20.35h2.6M241.24 25.50h2.6" stroke="#000" stroke-width="0.6" fill="none"/>
<path d="M246.16 19.83V24.98M244.86 19.83h2.6M244.86 24.98h2.6" stroke="#000" stroke-width="0.6" fill="none"/>
<path d="M249.78 19.27V24.42M248.48 19.27h2.6M248.48 24.42h2.6" stroke="#000" stroke-width="0.6" fill="none"/>
<path d="M253.40 18.69V23.84M252.10 18.69h2.6M252.10 23.84h2.6" stroke="#000" stroke-width="0.6" fill="none"/>
<circle cx="36.20" cy="200.80" r="2.20" fill="#000"/>
<circle cx="39.82" cy="145.46" r="2.20" fill="#000"/>
<circle cx="43.44" cy="122.94" r="2.20" fill="#000"/>
<circle cx="47.06" cy="106.21" r="2.20" fill="#000"/>
<circle cx="50.68" cy="92.43" r="2.20" fill="#000"/>
<circle cx="54.30" cy="82.91" r="2.20" fill="#000"/>
<circle cx="57.92" cy="76.86" r="2.20" fill="#000"/>
<circle cx="61.54" cy="71.07" r="2.20" fill="#000"/>
<circle cx="65.16" cy="67.85" r="2.20" fill="#000"/>
<circle cx="68.78" cy="63.35" r="2.20" fill="#000"/>
<circle cx="72.40" cy="59.74" r="2.20" fill="#000"/>
<circle cx="76.02" cy="57.88" r="2.20" fill="#000"/>
<circle cx="79.64" cy="56.14" r="2.20" fill="#000"/>
<circle cx="83.26" cy="53.17" r="2.20" fill="#000"/>
<circle cx="86.88" cy="49.65" r="2.20" fill="#000"/>
<circle cx="90.50" cy="47.00" r="2.20" fill="#000"/>
<circle cx="94.12" cy="45.43" r="2.20" fill="#000"/>
<circle cx="97.74" cy="44.14" r="2.20" fill="#000"/>
<circle cx="101.36" cy="43.07" r="2.20" fill="#000"/>
<circle cx="104.98" cy="42.12" r="2.20" fill="#000"/>
<circle cx="108.60" cy="41.21" r="2.20" fill="#000"/>
<circle cx="112.22" cy="40.35" r="2.20" fill="#000"/>
<circle cx="115.84" cy="39.61" r="2.20" fill="#000"/>
<circle cx="119.46" cy="39.00" r="2.20" fill="#000"/>
<circle cx="123.08" cy="38.52" r="2.20" fill="#000"/>
<circle cx="126.70" cy="37.99" r="2.20" fill="#000"/>
<circle cx="130.32" cy="37.32" r="2.20" fill="#000"/>
<circle cx="133.94" cy="36.56" r="2.20" fill="#000"/>
<circle cx="137.56" cy="35.74" r="2.20" fill="#000"/>
<circle cx="141.18" cy="34.91" r="2.20" fill="#000"/>
<circle cx="144.80" cy="34.13" r="2.20" fill="#000"/>
<circle cx="148.42" cy="33.36" r="2.20" fill="#000"/>
<circle cx="152.04" cy="32.55" r="2.20" fill="#000"/>
<circle cx="155.66" cy="31.71" r="2.20" fill="#000"/>
<circle cx="159.28" cy="30.88" r="2.20" fill="#000"/>
<circle cx="162.90" cy="30.06" r="2.20" fill="#000"/>
<circle cx="166.52" cy="29.29" r="2.20" fill="#000"/>
<circle cx="170.14" cy="28.58" r="2.20" fill="#000"/>
<circle cx="173.76" cy="27.96" r="2.20" fill="#000"/>
<circle cx="177.38" cy="27.44" r="2.20" fill="#000"/>
<circle cx="181.00" cy="27.06" r="2.20" fill="#000"/>
<circle cx="184.62" cy="26.77" r="2.20" fill="#000"/>
<circle cx="188.24" cy="26.53" r="2.20" fill="#000"/>
<circle cx="191.86" cy="26.32" r="2.20" fill="#000"/>
<circle cx="195.48" cy="26.14" r="2.20" fill="#000"/>
<circle cx="199.10" cy="25.96" r="2.20" fill="#000"/>
<circle cx="202.72" cy="25.77" r="2.20" fill="#000"/>
<circle cx="206.34" cy="25.58" r="2.20" fill="#000"/>
<circle cx="209.96" cy="25.42" r="2.20" fill="#000"/>
<circle cx="213.58" cy="25.26" r="2.20" fill="#000"/>
<circle cx="217.20" cy="25.10" r="2.20" fill="#000"/>
<circle cx="220.82" cy="24.92" r="2.20" fill="#000"/>
<circle cx="224.44" cy="24.72" r="2.20" fill="#000"/>
<circle cx="228.06" cy="24.48" r="2.20" fill="#000"/>
<circle cx="231.68" cy="24.18" r="2.20" fill="#000"/>
<circle cx="235.30" cy="23.82" r="2.20" fill="#000"/>
<circle cx="238.92" cy="23.40" r="2.20" fill="#000"/>
<circle cx="242.54" cy="22.92" r="2.20" fill="#000"/>
<circle cx="246.16" cy="22.40" r="2.20" fill="#000"/>
<circle cx="249.78" cy="21.85" r="2.20" fill="#000"/>
<circle cx="253.40" cy="21.26" r="2.20" fill="#000"/>
<path d="M119.20 117.60h10.9" stroke="#000" stroke-width="0.7"/>
<rect x="122.58" y="115.67" width="3.85" height="3.85" fill="none" stroke="#000" stroke-width="0.8"/>
<text x="131.00" y="120.70" class="lg" textLength="62.0" lengthAdjust="spacingAndGlyphs">1.5%-fat oat milk</text>
<path d="M119.20 131.70h10.9" stroke="#000" stroke-width="0.7"/>
<rect x="122.36" y="129.55" width="4.29" height="4.29" fill="#000"/>
<text x="131.00" y="134.80" class="lg" textLength="111.3" lengthAdjust="spacingAndGlyphs">1.5%-fat oat milk + 0.05%GTE</text>
<path d="M119.20 145.80h10.9" stroke="#000" stroke-width="0.7"/>
<path d="M124.50 143.82L126.26 147.12L122.74 147.12Z" fill="none" stroke="#000" stroke-width="0.8"/>
<text x="131.00" y="148.90" class="lg" textLength="111.3" lengthAdjust="spacingAndGlyphs">1.5%-fat oat milk + 0.10%GTE</text>
<path d="M119.20 159.90h10.9" stroke="#000" stroke-width="0.7"/>
<path d="M124.50 157.70L126.59 161.44L122.41 161.44Z" fill="#000"/>
<text x="131.00" y="163.00" class="lg" textLength="111.3" lengthAdjust="spacingAndGlyphs">1.5%-fat oat milk + 0.25%GTE</text>
<path d="M119.20 174.00h10.9" stroke="#000" stroke-width="0.7"/>
<circle cx="124.50" cy="174.00" r="1.75" fill="none" stroke="#000" stroke-width="0.8"/>
<text x="131.00" y="177.10" class="lg" textLength="111.3" lengthAdjust="spacingAndGlyphs">1.5%-fat oat milk + 0.50%GTE</text>
<path d="M119.20 188.10h10.9" stroke="#000" stroke-width="0.7"/>
<circle cx="124.50" cy="188.10" r="2.20" fill="#000"/>
<text x="131.00" y="191.20" class="lg" textLength="111.3" lengthAdjust="spacingAndGlyphs">1.5%-fat oat milk + 1.00%GTE</text>
<text x="145" y="228.2" text-anchor="middle" class="ti">Digestion time (min)</text>
<text transform="translate(10.2,103.4) rotate(-90)" text-anchor="middle" class="ti" style="font-size:11.1px">FFA released (%)</text>
<text x="132.8" y="243.3" text-anchor="middle" class="pl">(a)</text>
<rect x="324.60" y="7.80" width="217.20" height="194.70" fill="none" stroke="#7a7a7a" stroke-width="1"/>
<path d="M324.40 7.80V202.50" stroke="#6a6a6a" stroke-width="1.3"/>
<path d="M322.10 202.50H324.60" stroke="#7a7a7a" stroke-width="1"/>
<text x="316.00" y="205.80" text-anchor="end" class="tk">0</text>
<path d="M322.10 163.56H324.60" stroke="#7a7a7a" stroke-width="1"/>
<text x="316.00" y="166.86" text-anchor="end" class="tk">30</text>
<path d="M322.10 124.62H324.60" stroke="#7a7a7a" stroke-width="1"/>
<text x="316.00" y="127.92" text-anchor="end" class="tk">60</text>
<path d="M322.10 85.68H324.60" stroke="#7a7a7a" stroke-width="1"/>
<text x="316.00" y="88.98" text-anchor="end" class="tk">90</text>
<path d="M322.10 46.74H324.60" stroke="#7a7a7a" stroke-width="1"/>
<text x="316.00" y="50.04" text-anchor="end" class="tk">120</text>
<path d="M322.10 7.80H324.60" stroke="#7a7a7a" stroke-width="1"/>
<text x="316.00" y="11.10" text-anchor="end" class="tk">150</text>
<path d="M324.60 202.50V205.00" stroke="#7a7a7a" stroke-width="1"/>
<text x="324.60" y="217.00" text-anchor="middle" class="tk">0</text>
<path d="M360.80 202.50V205.00" stroke="#7a7a7a" stroke-width="1"/>
<text x="360.80" y="217.00" text-anchor="middle" class="tk">20</text>
<path d="M397.00 202.50V205.00" stroke="#7a7a7a" stroke-width="1"/>
<text x="397.00" y="217.00" text-anchor="middle" class="tk">40</text>
<path d="M433.20 202.50V205.00" stroke="#7a7a7a" stroke-width="1"/>
<text x="433.20" y="217.00" text-anchor="middle" class="tk">60</text>
<path d="M469.40 202.50V205.00" stroke="#7a7a7a" stroke-width="1"/>
<text x="469.40" y="217.00" text-anchor="middle" class="tk">80</text>
<path d="M505.60 202.50V205.00" stroke="#7a7a7a" stroke-width="1"/>
<text x="505.60" y="217.00" text-anchor="middle" class="tk">100</text>
<path d="M541.80 202.50V205.00" stroke="#7a7a7a" stroke-width="1"/>
<text x="541.80" y="217.00" text-anchor="middle" class="tk">120</text>
<polyline points="324.60,202.50 328.22,175.24 331.84,155.77 335.46,141.49 339.08,128.51 342.70,116.83 346.32,107.10 349.94,101.26 353.56,97.36 357.18,94.12 360.80,91.52 364.42,89.50 368.04,87.76 371.66,86.25 375.28,84.93 378.90,83.73 382.52,82.60 386.14,81.53 389.76,80.51 393.38,79.51 397.00,78.54 400.62,77.57 404.24,76.61 407.86,75.68 411.48,74.80 415.10,74.00 418.72,73.28 422.34,72.61 425.96,71.98 429.58,71.37 433.20,70.75 436.82,70.13 440.44,69.52 444.06,68.91 447.68,68.31 451.30,67.71 454.92,67.11 458.54,66.51 462.16,65.91 465.78,65.29 469.40,64.67 473.02,64.05 476.64,63.43 480.26,62.83 483.88,62.24 487.50,61.67 491.12,61.11 494.74,60.57 498.36,60.03 501.98,59.51 505.60,59.00 509.22,58.50 512.84,58.01 516.46,57.54 520.08,57.08 523.70,56.62 527.32,56.18 530.94,55.75 534.56,55.33 538.18,54.92 541.80,54.53" fill="none" stroke="#000" stroke-width="0.7"/>
<path d="M328.22 170.05V180.43M326.92 170.05h2.6M326.92 180.43h2.6" stroke="#000" stroke-width="0.6" fill="none"/>
<path d="M331.84 150.58V160.96M330.54 150.58h2.6M330.54 160.96h2.6" stroke="#000" stroke-width="0.6" fill="none"/>
<path d="M335.46 136.30V146.69M334.16 136.30h2.6M334.16 146.69h2.6" stroke="#000" stroke-width="0.6" fill="none"/>
<path d="M339.08 123.32V133.71M337.78 123.32h2.6M337.78 133.71h2.6" stroke="#000" stroke-width="0.6" fill="none"/>
<path d="M342.70 111.64V122.02M341.40 111.64h2.6M341.40 122.02h2.6" stroke="#000" stroke-width="0.6" fill="none"/>
<path d="M346.32 101.91V112.29M345.02 101.91h2.6M345.02 112.29h2.6" stroke="#000" stroke-width="0.6" fill="none"/>
<path d="M349.94 96.06V106.45M348.64 96.06h2.6M348.64 106.45h2.6" stroke="#000" stroke-width="0.6" fill="none"/>
<path d="M353.56 92.17V102.55M352.26 92.17h2.6M352.26 102.55h2.6" stroke="#000" stroke-width="0.6" fill="none"/>
<path d="M357.18 88.92V99.31M355.88 88.92h2.6M355.88 99.31h2.6" stroke="#000" stroke-width="0.6" fill="none"/>
<path d="M360.80 86.33V96.71M359.50 86.33h2.6M359.50 96.71h2.6" stroke="#000" stroke-width="0.6" fill="none"/>
<path d="M364.42 84.30V94.69M363.12 84.30h2.6M363.12 94.69h2.6" stroke="#000" stroke-width="0.6" fill="none"/>
<path d="M368.04 82.57V92.95M366.74 82.57h2.6M366.74 92.95h2.6" stroke="#000" stroke-width="0.6" fill="none"/>
<path d="M371.66 81.06V91.44M370.36 81.06h2.6M370.36 91.44h2.6" stroke="#000" stroke-width="0.6" fill="none"/>
<path d="M375.28 79.74V90.12M373.98 79.74h2.6M373.98 90.12h2.6" stroke="#000" stroke-width="0.6" fill="none"/>
<path d="M378.90 78.54V88.92M377.60 78.54h2.6M377.60 88.92h2.6" stroke="#000" stroke-width="0.6" fill="none"/>
<path d="M382.52 77.41V87.79M381.22 77.41h2.6M381.22 87.79h2.6" stroke="#000" stroke-width="0.6" fill="none"/>
<path d="M386.14 76.34V86.72M384.84 76.34h2.6M384.84 86.72h2.6" stroke="#000" stroke-width="0.6" fill="none"/>
<path d="M389.76 75.31V85.70M388.46 75.31h2.6M388.46 85.70h2.6" stroke="#000" stroke-width="0.6" fill="none"/>
<path d="M393.38 74.32V84.71M392.08 74.32h2.6M392.08 84.71h2.6" stroke="#000" stroke-width="0.6" fill="none"/>
<path d="M397.00 73.35V83.73M395.70 73.35h2.6M395.70 83.73h2.6" stroke="#000" stroke-width="0.6" fill="none"/>
<path d="M400.62 72.38V82.76M399.32 72.38h2.6M399.32 82.76h2.6" stroke="#000" stroke-width="0.6" fill="none"/>
<path d="M404.24 71.42V81.80M402.94 71.42h2.6M402.94 81.80h2.6" stroke="#000" stroke-width="0.6" fill="none"/>
<path d="M407.86 70.49V80.87M406.56 70.49h2.6M406.56 80.87h2.6" stroke="#000" stroke-width="0.6" fill="none"/>
<path d="M411.48 69.61V79.99M410.18 69.61h2.6M410.18 79.99h2.6" stroke="#000" stroke-width="0.6" fill="none"/>
<path d="M415.10 68.81V79.19M413.80 68.81h2.6M413.80 79.19h2.6" stroke="#000" stroke-width="0.6" fill="none"/>
<path d="M418.72 68.08V78.47M417.42 68.08h2.6M417.42 78.47h2.6" stroke="#000" stroke-width="0.6" fill="none"/>
<path d="M422.34 67.42V77.80M421.04 67.42h2.6M421.04 77.80h2.6" stroke="#000" stroke-width="0.6" fill="none"/>
<path d="M425.96 66.79V77.18M424.66 66.79h2.6M424.66 77.18h2.6" stroke="#000" stroke-width="0.6" fill="none"/>
<path d="M429.58 66.18V76.56M428.28 66.18h2.6M428.28 76.56h2.6" stroke="#000" stroke-width="0.6" fill="none"/>
<path d="M433.20 65.56V75.94M431.90 65.56h2.6M431.90 75.94h2.6" stroke="#000" stroke-width="0.6" fill="none"/>
<path d="M436.82 64.94V75.32M435.52 64.94h2.6M435.52 75.32h2.6" stroke="#000" stroke-width="0.6" fill="none"/>
<path d="M440.44 64.33V74.71M439.14 64.33h2.6M439.14 74.71h2.6" stroke="#000" stroke-width="0.6" fill="none"/>
<path d="M444.06 63.72V74.10M442.76 63.72h2.6M442.76 74.10h2.6" stroke="#000" stroke-width="0.6" fill="none"/>
<path d="M447.68 63.12V73.50M446.38 63.12h2.6M446.38 73.50h2.6" stroke="#000" stroke-width="0.6" fill="none"/>
<path d="M451.30 62.52V72.90M450.00 62.52h2.6M450.00 72.90h2.6" stroke="#000" stroke-width="0.6" fill="none"/>
<path d="M454.92 61.92V72.31M453.62 61.92h2.6M453.62 72.31h2.6" stroke="#000" stroke-width="0.6" fill="none"/>
<path d="M458.54 61.32V71.70M457.24 61.32h2.6M457.24 71.70h2.6" stroke="#000" stroke-width="0.6" fill="none"/>
<path d="M462.16 60.71V71.10M460.86 60.71h2.6M460.86 71.10h2.6" stroke="#000" stroke-width="0.6" fill="none"/>
<path d="M465.78 60.10V70.48M464.48 60.10h2.6M464.48 70.48h2.6" stroke="#000" stroke-width="0.6" fill="none"/>
<path d="M469.40 59.48V69.86M468.10 59.48h2.6M468.10 69.86h2.6" stroke="#000" stroke-width="0.6" fill="none"/>
<path d="M473.02 58.86V69.24M471.72 58.86h2.6M471.72 69.24h2.6" stroke="#000" stroke-width="0.6" fill="none"/>
<path d="M476.64 58.24V68.63M475.34 58.24h2.6M475.34 68.63h2.6" stroke="#000" stroke-width="0.6" fill="none"/>
<path d="M480.26 57.64V68.02M478.96 57.64h2.6M478.96 68.02h2.6" stroke="#000" stroke-width="0.6" fill="none"/>
<path d="M483.88 57.05V67.43M482.58 57.05h2.6M482.58 67.43h2.6" stroke="#000" stroke-width="0.6" fill="none"/>
<path d="M487.50 56.47V66.86M486.20 56.47h2.6M486.20 66.86h2.6" stroke="#000" stroke-width="0.6" fill="none"/>
<path d="M491.12 55.92V66.30M489.82 55.92h2.6M489.82 66.30h2.6" stroke="#000" stroke-width="0.6" fill="none"/>
<path d="M494.74 55.38V65.76M493.44 55.38h2.6M493.44 65.76h2.6" stroke="#000" stroke-width="0.6" fill="none"/>
<path d="M498.36 54.84V65.22M497.06 54.84h2.6M497.06 65.22h2.6" stroke="#000" stroke-width="0.6" fill="none"/>
<path d="M501.98 54.32V64.70M500.68 54.32h2.6M500.68 64.70h2.6" stroke="#000" stroke-width="0.6" fill="none"/>
<path d="M505.60 53.80V64.19M504.30 53.80h2.6M504.30 64.19h2.6" stroke="#000" stroke-width="0.6" fill="none"/>
<path d="M509.22 53.30V63.69M507.92 53.30h2.6M507.92 63.69h2.6" stroke="#000" stroke-width="0.6" fill="none"/>
<path d="M512.84 52.82V63.20M511.54 52.82h2.6M511.54 63.20h2.6" stroke="#000" stroke-width="0.6" fill="none"/>
<path d="M516.46 52.35V62.73M515.16 52.35h2.6M515.16 62.73h2.6" stroke="#000" stroke-width="0.6" fill="none"/>
<path d="M520.08 51.88V62.27M518.78 51.88h2.6M518.78 62.27h2.6" stroke="#000" stroke-width="0.6" fill="none"/>
<path d="M523.70 51.43V61.82M522.40 51.43h2.6M522.40 61.82h2.6" stroke="#000" stroke-width="0.6" fill="none"/>
<path d="M527.32 50.99V61.37M526.02 50.99h2.6M526.02 61.37h2.6" stroke="#000" stroke-width="0.6" fill="none"/>
<path d="M530.94 50.56V60.94M529.64 50.56h2.6M529.64 60.94h2.6" stroke="#000" stroke-width="0.6" fill="none"/>
<path d="M534.56 50.14V60.52M533.26 50.14h2.6M533.26 60.52h2.6" stroke="#000" stroke-width="0.6" fill="none"/>
<path d="M538.18 49.73V60.12M536.88 49.73h2.6M536.88 60.12h2.6" stroke="#000" stroke-width="0.6" fill="none"/>
<path d="M541.80 49.34V59.72M540.50 49.34h2.6M540.50 59.72h2.6" stroke="#000" stroke-width="0.6" fill="none"/>
<rect x="322.68" y="200.57" width="3.85" height="3.85" fill="none" stroke="#000" stroke-width="0.8"/>
<rect x="326.30" y="173.32" width="3.85" height="3.85" fill="none" stroke="#000" stroke-width="0.8"/>
<rect x="329.92" y="153.85" width="3.85" height="3.85" fill="none" stroke="#000" stroke-width="0.8"/>
<rect x="333.54" y="139.57" width="3.85" height="3.85" fill="none" stroke="#000" stroke-width="0.8"/>
<rect x="337.16" y="126.59" width="3.85" height="3.85" fill="none" stroke="#000" stroke-width="0.8"/>
<rect x="340.78" y="114.91" width="3.85" height="3.85" fill="none" stroke="#000" stroke-width="0.8"/>
<rect x="344.40" y="105.17" width="3.85" height="3.85" fill="none" stroke="#000" stroke-width="0.8"/>
<rect x="348.01" y="99.33" width="3.85" height="3.85" fill="none" stroke="#000" stroke-width="0.8"/>
<rect x="351.63" y="95.44" width="3.85" height="3.85" fill="none" stroke="#000" stroke-width="0.8"/>
<rect x="355.25" y="92.19" width="3.85" height="3.85" fill="none" stroke="#000" stroke-width="0.8"/>
<rect x="358.88" y="89.60" width="3.85" height="3.85" fill="none" stroke="#000" stroke-width="0.8"/>
<rect x="362.50" y="87.57" width="3.85" height="3.85" fill="none" stroke="#000" stroke-width="0.8"/>
<rect x="366.12" y="85.83" width="3.85" height="3.85" fill="none" stroke="#000" stroke-width="0.8"/>
<rect x="369.74" y="84.32" width="3.85" height="3.85" fill="none" stroke="#000" stroke-width="0.8"/>
<rect x="373.36" y="83.01" width="3.85" height="3.85" fill="none" stroke="#000" stroke-width="0.8"/>
<rect x="376.98" y="81.81" width="3.85" height="3.85" fill="none" stroke="#000" stroke-width="0.8"/>
<rect x="380.60" y="80.68" width="3.85" height="3.85" fill="none" stroke="#000" stroke-width="0.8"/>
<rect x="384.22" y="79.60" width="3.85" height="3.85" fill="none" stroke="#000" stroke-width="0.8"/>
<rect x="387.83" y="78.58" width="3.85" height="3.85" fill="none" stroke="#000" stroke-width="0.8"/>
<rect x="391.45" y="77.59" width="3.85" height="3.85" fill="none" stroke="#000" stroke-width="0.8"/>
<rect x="395.07" y="76.62" width="3.85" height="3.85" fill="none" stroke="#000" stroke-width="0.8"/>
<rect x="398.69" y="75.64" width="3.85" height="3.85" fill="none" stroke="#000" stroke-width="0.8"/>
<rect x="402.31" y="74.68" width="3.85" height="3.85" fill="none" stroke="#000" stroke-width="0.8"/>
<rect x="405.94" y="73.75" width="3.85" height="3.85" fill="none" stroke="#000" stroke-width="0.8"/>
<rect x="409.56" y="72.87" width="3.85" height="3.85" fill="none" stroke="#000" stroke-width="0.8"/>
<rect x="413.18" y="72.07" width="3.85" height="3.85" fill="none" stroke="#000" stroke-width="0.8"/>
<rect x="416.80" y="71.35" width="3.85" height="3.85" fill="none" stroke="#000" stroke-width="0.8"/>
<rect x="420.42" y="70.69" width="3.85" height="3.85" fill="none" stroke="#000" stroke-width="0.8"/>
<rect x="424.04" y="70.06" width="3.85" height="3.85" fill="none" stroke="#000" stroke-width="0.8"/>
<rect x="427.66" y="69.45" width="3.85" height="3.85" fill="none" stroke="#000" stroke-width="0.8"/>
<rect x="431.28" y="68.83" width="3.85" height="3.85" fill="none" stroke="#000" stroke-width="0.8"/>
<rect x="434.90" y="68.21" width="3.85" height="3.85" fill="none" stroke="#000" stroke-width="0.8"/>
<rect x="438.52" y="67.59" width="3.85" height="3.85" fill="none" stroke="#000" stroke-width="0.8"/>
<rect x="442.14" y="66.99" width="3.85" height="3.85" fill="none" stroke="#000" stroke-width="0.8"/>
<rect x="445.75" y="66.39" width="3.85" height="3.85" fill="none" stroke="#000" stroke-width="0.8"/>
<rect x="449.38" y="65.79" width="3.85" height="3.85" fill="none" stroke="#000" stroke-width="0.8"/>
<rect x="453.00" y="65.19" width="3.85" height="3.85" fill="none" stroke="#000" stroke-width="0.8"/>
<rect x="456.62" y="64.59" width="3.85" height="3.85" fill="none" stroke="#000" stroke-width="0.8"/>
<rect x="460.24" y="63.98" width="3.85" height="3.85" fill="none" stroke="#000" stroke-width="0.8"/>
<rect x="463.86" y="63.37" width="3.85" height="3.85" fill="none" stroke="#000" stroke-width="0.8"/>
<rect x="467.48" y="62.74" width="3.85" height="3.85" fill="none" stroke="#000" stroke-width="0.8"/>
<rect x="471.10" y="62.12" width="3.85" height="3.85" fill="none" stroke="#000" stroke-width="0.8"/>
<rect x="474.71" y="61.51" width="3.85" height="3.85" fill="none" stroke="#000" stroke-width="0.8"/>
<rect x="478.33" y="60.90" width="3.85" height="3.85" fill="none" stroke="#000" stroke-width="0.8"/>
<rect x="481.95" y="60.31" width="3.85" height="3.85" fill="none" stroke="#000" stroke-width="0.8"/>
<rect x="485.57" y="59.74" width="3.85" height="3.85" fill="none" stroke="#000" stroke-width="0.8"/>
<rect x="489.19" y="59.19" width="3.85" height="3.85" fill="none" stroke="#000" stroke-width="0.8"/>
<rect x="492.81" y="58.64" width="3.85" height="3.85" fill="none" stroke="#000" stroke-width="0.8"/>
<rect x="496.44" y="58.11" width="3.85" height="3.85" fill="none" stroke="#000" stroke-width="0.8"/>
<rect x="500.06" y="57.58" width="3.85" height="3.85" fill="none" stroke="#000" stroke-width="0.8"/>
<rect x="503.68" y="57.07" width="3.85" height="3.85" fill="none" stroke="#000" stroke-width="0.8"/>
<rect x="507.30" y="56.57" width="3.85" height="3.85" fill="none" stroke="#000" stroke-width="0.8"/>
<rect x="510.92" y="56.09" width="3.85" height="3.85" fill="none" stroke="#000" stroke-width="0.8"/>
<rect x="514.54" y="55.61" width="3.85" height="3.85" fill="none" stroke="#000" stroke-width="0.8"/>
<rect x="518.16" y="55.15" width="3.85" height="3.85" fill="none" stroke="#000" stroke-width="0.8"/>
<rect x="521.78" y="54.70" width="3.85" height="3.85" fill="none" stroke="#000" stroke-width="0.8"/>
<rect x="525.40" y="54.26" width="3.85" height="3.85" fill="none" stroke="#000" stroke-width="0.8"/>
<rect x="529.02" y="53.83" width="3.85" height="3.85" fill="none" stroke="#000" stroke-width="0.8"/>
<rect x="532.64" y="53.41" width="3.85" height="3.85" fill="none" stroke="#000" stroke-width="0.8"/>
<rect x="536.26" y="53.00" width="3.85" height="3.85" fill="none" stroke="#000" stroke-width="0.8"/>
<rect x="539.88" y="52.60" width="3.85" height="3.85" fill="none" stroke="#000" stroke-width="0.8"/>
<polyline points="324.60,202.50 328.22,177.84 331.84,157.46 335.46,145.00 339.08,133.45 342.70,124.62 346.32,116.18 349.94,111.25 353.56,106.32 357.18,102.29 360.80,98.92 364.42,96.05 368.04,93.43 371.66,90.92 375.28,88.50 378.90,86.33 382.52,84.41 386.14,82.63 389.76,80.96 393.38,79.39 397.00,77.89 400.62,76.43 404.24,75.02 407.86,73.68 411.48,72.47 415.10,71.40 418.72,70.48 422.34,69.66 425.96,68.90 429.58,68.19 433.20,67.51 436.82,66.86 440.44,66.24 444.06,65.66 447.68,65.09 451.30,64.54 454.92,63.97 458.54,63.39 462.16,62.79 465.78,62.18 469.40,61.55 473.02,60.92 476.64,60.29 480.26,59.67 483.88,59.04 487.50,58.42 491.12,57.80 494.74,57.18 498.36,56.56 501.98,55.95 505.60,55.34 509.22,54.74 512.84,54.16 516.46,53.60 520.08,53.05 523.70,52.51 527.32,51.98 530.94,51.47 534.56,50.96 538.18,50.47 541.80,49.99" fill="none" stroke="#000" stroke-width="0.7"/>
<path d="M328.22 172.32V183.35M326.92 172.32h2.6M326.92 183.35h2.6" stroke="#000" stroke-width="0.6" fill="none"/>
<path d="M331.84 151.62V163.30M330.54 151.62h2.6M330.54 163.30h2.6" stroke="#000" stroke-width="0.6" fill="none"/>
<path d="M335.46 138.83V151.16M334.16 138.83h2.6M334.16 151.16h2.6" stroke="#000" stroke-width="0.6" fill="none"/>
<path d="M339.08 126.96V139.94M337.78 126.96h2.6M337.78 139.94h2.6" stroke="#000" stroke-width="0.6" fill="none"/>
<path d="M342.70 117.81V131.43M341.40 117.81h2.6M341.40 131.43h2.6" stroke="#000" stroke-width="0.6" fill="none"/>
<path d="M346.32 109.04V123.32M345.02 109.04h2.6M345.02 123.32h2.6" stroke="#000" stroke-width="0.6" fill="none"/>
<path d="M349.94 103.79V118.71M348.64 103.79h2.6M348.64 118.71h2.6" stroke="#000" stroke-width="0.6" fill="none"/>
<path d="M353.56 98.53V114.11M352.26 98.53h2.6M352.26 114.11h2.6" stroke="#000" stroke-width="0.6" fill="none"/>
<path d="M357.18 94.18V110.41M355.88 94.18h2.6M355.88 110.41h2.6" stroke="#000" stroke-width="0.6" fill="none"/>
<path d="M360.80 90.48V107.36M359.50 90.48h2.6M359.50 107.36h2.6" stroke="#000" stroke-width="0.6" fill="none"/>
<path d="M364.42 87.81V104.29M363.12 87.81h2.6M363.12 104.29h2.6" stroke="#000" stroke-width="0.6" fill="none"/>
<path d="M368.04 85.38V101.48M366.74 85.38h2.6M366.74 101.48h2.6" stroke="#000" stroke-width="0.6" fill="none"/>
<path d="M371.66 83.07V98.77M370.36 83.07h2.6M370.36 98.77h2.6" stroke="#000" stroke-width="0.6" fill="none"/>
<path d="M375.28 80.84V96.16M373.98 80.84h2.6M373.98 96.16h2.6" stroke="#000" stroke-width="0.6" fill="none"/>
<path d="M378.90 78.87V93.79M377.60 78.87h2.6M377.60 93.79h2.6" stroke="#000" stroke-width="0.6" fill="none"/>
<path d="M382.52 77.14V91.68M381.22 77.14h2.6M381.22 91.68h2.6" stroke="#000" stroke-width="0.6" fill="none"/>
<path d="M386.14 75.55V89.70M384.84 75.55h2.6M384.84 89.70h2.6" stroke="#000" stroke-width="0.6" fill="none"/>
<path d="M389.76 74.08V87.84M388.46 74.08h2.6M388.46 87.84h2.6" stroke="#000" stroke-width="0.6" fill="none"/>
<path d="M393.38 72.70V86.07M392.08 72.70h2.6M392.08 86.07h2.6" stroke="#000" stroke-width="0.6" fill="none"/>
<path d="M397.00 71.40V84.38M395.70 71.40h2.6M395.70 84.38h2.6" stroke="#000" stroke-width="0.6" fill="none"/>
<path d="M400.62 69.80V83.07M399.32 69.80h2.6M399.32 83.07h2.6" stroke="#000" stroke-width="0.6" fill="none"/>
<path d="M404.24 68.23V81.81M402.94 68.23h2.6M402.94 81.81h2.6" stroke="#000" stroke-width="0.6" fill="none"/>
<path d="M407.86 66.75V80.62M406.56 66.75h2.6M406.56 80.62h2.6" stroke="#000" stroke-width="0.6" fill="none"/>
<path d="M411.48 65.38V79.55M410.18 65.38h2.6M410.18 79.55h2.6" stroke="#000" stroke-width="0.6" fill="none"/>
<path d="M415.10 64.17V78.63M413.80 64.17h2.6M413.80 78.63h2.6" stroke="#000" stroke-width="0.6" fill="none"/>
<path d="M418.72 63.10V77.86M417.42 63.10h2.6M417.42 77.86h2.6" stroke="#000" stroke-width="0.6" fill="none"/>
<path d="M422.34 62.13V77.18M421.04 62.13h2.6M421.04 77.18h2.6" stroke="#000" stroke-width="0.6" fill="none"/>
<path d="M425.96 61.22V76.58M424.66 61.22h2.6M424.66 76.58h2.6" stroke="#000" stroke-width="0.6" fill="none"/>
<path d="M429.58 60.37V76.02M428.28 60.37h2.6M428.28 76.02h2.6" stroke="#000" stroke-width="0.6" fill="none"/>
<path d="M433.20 59.53V75.48M431.90 59.53h2.6M431.90 75.48h2.6" stroke="#000" stroke-width="0.6" fill="none"/>
<path d="M436.82 58.73V74.98M435.52 58.73h2.6M435.52 74.98h2.6" stroke="#000" stroke-width="0.6" fill="none"/>
<path d="M440.44 57.97V74.51M439.14 57.97h2.6M439.14 74.51h2.6" stroke="#000" stroke-width="0.6" fill="none"/>
<path d="M444.06 57.24V74.08M442.76 57.24h2.6M442.76 74.08h2.6" stroke="#000" stroke-width="0.6" fill="none"/>
<path d="M447.68 56.53V73.66M446.38 56.53h2.6M446.38 73.66h2.6" stroke="#000" stroke-width="0.6" fill="none"/>
<path d="M451.30 55.82V73.25M450.00 55.82h2.6M450.00 73.25h2.6" stroke="#000" stroke-width="0.6" fill="none"/>
<path d="M454.92 55.11V72.84M453.62 55.11h2.6M453.62 72.84h2.6" stroke="#000" stroke-width="0.6" fill="none"/>
<path d="M458.54 54.38V72.41M457.24 54.38h2.6M457.24 72.41h2.6" stroke="#000" stroke-width="0.6" fill="none"/>
<path d="M462.16 53.76V71.82M460.86 53.76h2.6M460.86 71.82h2.6" stroke="#000" stroke-width="0.6" fill="none"/>
<path d="M465.78 53.26V71.09M464.48 53.26h2.6M464.48 71.09h2.6" stroke="#000" stroke-width="0.6" fill="none"/>
<path d="M469.40 52.75V70.35M468.10 52.75h2.6M468.10 70.35h2.6" stroke="#000" stroke-width="0.6" fill="none"/>
<path d="M473.02 52.24V69.61M471.72 52.24h2.6M471.72 69.61h2.6" stroke="#000" stroke-width="0.6" fill="none"/>
<path d="M476.64 51.73V68.86M475.34 51.73h2.6M475.34 68.86h2.6" stroke="#000" stroke-width="0.6" fill="none"/>
<path d="M480.26 51.21V68.12M478.96 51.21h2.6M478.96 68.12h2.6" stroke="#000" stroke-width="0.6" fill="none"/>
<path d="M483.88 50.70V67.38M482.58 50.70h2.6M482.58 67.38h2.6" stroke="#000" stroke-width="0.6" fill="none"/>
<path d="M487.50 50.20V66.64M486.20 50.20h2.6M486.20 66.64h2.6" stroke="#000" stroke-width="0.6" fill="none"/>
<path d="M491.12 49.70V65.91M489.82 49.70h2.6M489.82 65.91h2.6" stroke="#000" stroke-width="0.6" fill="none"/>
<path d="M494.74 49.19V65.17M493.44 49.19h2.6M493.44 65.17h2.6" stroke="#000" stroke-width="0.6" fill="none"/>
<path d="M498.36 48.69V64.44M497.06 48.69h2.6M497.06 64.44h2.6" stroke="#000" stroke-width="0.6" fill="none"/>
<path d="M501.98 48.19V63.70M500.68 48.19h2.6M500.68 63.70h2.6" stroke="#000" stroke-width="0.6" fill="none"/>
<path d="M505.60 47.69V62.98M504.30 47.69h2.6M504.30 62.98h2.6" stroke="#000" stroke-width="0.6" fill="none"/>
<path d="M509.22 47.21V62.27M507.92 47.21h2.6M507.92 62.27h2.6" stroke="#000" stroke-width="0.6" fill="none"/>
<path d="M512.84 46.75V61.57M511.54 46.75h2.6M511.54 61.57h2.6" stroke="#000" stroke-width="0.6" fill="none"/>
<path d="M516.46 46.30V60.90M515.16 46.30h2.6M515.16 60.90h2.6" stroke="#000" stroke-width="0.6" fill="none"/>
<path d="M520.08 45.87V60.23M518.78 45.87h2.6M518.78 60.23h2.6" stroke="#000" stroke-width="0.6" fill="none"/>
<path d="M523.70 45.45V59.58M522.40 45.45h2.6M522.40 59.58h2.6" stroke="#000" stroke-width="0.6" fill="none"/>
<path d="M527.32 45.03V58.94M526.02 45.03h2.6M526.02 58.94h2.6" stroke="#000" stroke-width="0.6" fill="none"/>
<path d="M530.94 44.63V58.30M529.64 44.63h2.6M529.64 58.30h2.6" stroke="#000" stroke-width="0.6" fill="none"/>
<path d="M534.56 44.24V57.68M533.26 44.24h2.6M533.26 57.68h2.6" stroke="#000" stroke-width="0.6" fill="none"/>
<path d="M538.18 43.86V57.07M536.88 43.86h2.6M536.88 57.07h2.6" stroke="#000" stroke-width="0.6" fill="none"/>
<path d="M541.80 43.50V56.48M540.50 43.50h2.6M540.50 56.48h2.6" stroke="#000" stroke-width="0.6" fill="none"/>
<rect x="322.46" y="200.35" width="4.29" height="4.29" fill="#000"/>
<rect x="326.08" y="175.69" width="4.29" height="4.29" fill="#000"/>
<rect x="329.70" y="155.31" width="4.29" height="4.29" fill="#000"/>
<rect x="333.32" y="142.85" width="4.29" height="4.29" fill="#000"/>
<rect x="336.94" y="131.30" width="4.29" height="4.29" fill="#000"/>
<rect x="340.56" y="122.48" width="4.29" height="4.29" fill="#000"/>
<rect x="344.18" y="114.04" width="4.29" height="4.29" fill="#000"/>
<rect x="347.80" y="109.11" width="4.29" height="4.29" fill="#000"/>
<rect x="351.42" y="104.17" width="4.29" height="4.29" fill="#000"/>
<rect x="355.04" y="100.15" width="4.29" height="4.29" fill="#000"/>
<rect x="358.66" y="96.77" width="4.29" height="4.29" fill="#000"/>
<rect x="362.28" y="93.90" width="4.29" height="4.29" fill="#000"/>
<rect x="365.90" y="91.28" width="4.29" height="4.29" fill="#000"/>
<rect x="369.52" y="88.78" width="4.29" height="4.29" fill="#000"/>
<rect x="373.14" y="86.36" width="4.29" height="4.29" fill="#000"/>
<rect x="376.76" y="84.18" width="4.29" height="4.29" fill="#000"/>
<rect x="380.38" y="82.26" width="4.29" height="4.29" fill="#000"/>
<rect x="384.00" y="80.48" width="4.29" height="4.29" fill="#000"/>
<rect x="387.62" y="78.82" width="4.29" height="4.29" fill="#000"/>
<rect x="391.24" y="77.24" width="4.29" height="4.29" fill="#000"/>
<rect x="394.86" y="75.75" width="4.29" height="4.29" fill="#000"/>
<rect x="398.48" y="74.29" width="4.29" height="4.29" fill="#000"/>
<rect x="402.10" y="72.87" width="4.29" height="4.29" fill="#000"/>
<rect x="405.72" y="71.54" width="4.29" height="4.29" fill="#000"/>
<rect x="409.34" y="70.32" width="4.29" height="4.29" fill="#000"/>
<rect x="412.96" y="69.26" width="4.29" height="4.29" fill="#000"/>
<rect x="416.58" y="68.34" width="4.29" height="4.29" fill="#000"/>
<rect x="420.20" y="67.51" width="4.29" height="4.29" fill="#000"/>
<rect x="423.82" y="66.75" width="4.29" height="4.29" fill="#000"/>
<rect x="427.44" y="66.05" width="4.29" height="4.29" fill="#000"/>
<rect x="431.06" y="65.36" width="4.29" height="4.29" fill="#000"/>
<rect x="434.68" y="64.71" width="4.29" height="4.29" fill="#000"/>
<rect x="438.30" y="64.10" width="4.29" height="4.29" fill="#000"/>
<rect x="441.92" y="63.51" width="4.29" height="4.29" fill="#000"/>
<rect x="445.54" y="62.95" width="4.29" height="4.29" fill="#000"/>
<rect x="449.16" y="62.39" width="4.29" height="4.29" fill="#000"/>
<rect x="452.78" y="61.83" width="4.29" height="4.29" fill="#000"/>
<rect x="456.40" y="61.25" width="4.29" height="4.29" fill="#000"/>
<rect x="460.02" y="60.65" width="4.29" height="4.29" fill="#000"/>
<rect x="463.64" y="60.03" width="4.29" height="4.29" fill="#000"/>
<rect x="467.26" y="59.41" width="4.29" height="4.29" fill="#000"/>
<rect x="470.88" y="58.78" width="4.29" height="4.29" fill="#000"/>
<rect x="474.50" y="58.15" width="4.29" height="4.29" fill="#000"/>
<rect x="478.12" y="57.52" width="4.29" height="4.29" fill="#000"/>
<rect x="481.74" y="56.90" width="4.29" height="4.29" fill="#000"/>
<rect x="485.36" y="56.28" width="4.29" height="4.29" fill="#000"/>
<rect x="488.98" y="55.66" width="4.29" height="4.29" fill="#000"/>
<rect x="492.60" y="55.04" width="4.29" height="4.29" fill="#000"/>
<rect x="496.22" y="54.42" width="4.29" height="4.29" fill="#000"/>
<rect x="499.84" y="53.80" width="4.29" height="4.29" fill="#000"/>
<rect x="503.46" y="53.19" width="4.29" height="4.29" fill="#000"/>
<rect x="507.08" y="52.60" width="4.29" height="4.29" fill="#000"/>
<rect x="510.70" y="52.02" width="4.29" height="4.29" fill="#000"/>
<rect x="514.32" y="51.46" width="4.29" height="4.29" fill="#000"/>
<rect x="517.94" y="50.91" width="4.29" height="4.29" fill="#000"/>
<rect x="521.56" y="50.37" width="4.29" height="4.29" fill="#000"/>
<rect x="525.18" y="49.84" width="4.29" height="4.29" fill="#000"/>
<rect x="528.80" y="49.32" width="4.29" height="4.29" fill="#000"/>
<rect x="532.42" y="48.82" width="4.29" height="4.29" fill="#000"/>
<rect x="536.04" y="48.32" width="4.29" height="4.29" fill="#000"/>
<rect x="539.66" y="47.84" width="4.29" height="4.29" fill="#000"/>
<polyline points="324.60,202.50 328.22,175.24 331.84,155.77 335.46,140.20 339.08,127.22 342.70,115.53 346.32,105.80 349.94,99.96 353.56,96.06 357.18,92.82 360.80,90.22 364.42,88.42 368.04,86.97 371.66,85.74 375.28,84.70 378.90,83.73 382.52,82.77 386.14,81.83 389.76,80.92 393.38,80.04 397.00,79.19 400.62,78.35 404.24,77.51 407.86,76.71 411.48,75.97 415.10,75.30 418.72,74.71 422.34,74.18 425.96,73.69 429.58,73.20 433.20,72.70 436.82,72.18 440.44,71.66 444.06,71.14 447.68,70.62 451.30,70.10 454.92,69.58 458.54,69.07 462.16,68.54 465.78,68.02 469.40,67.48 473.02,66.95 476.64,66.42 480.26,65.90 483.88,65.40 487.50,64.91 491.12,64.44 494.74,63.99 498.36,63.54 501.98,63.10 505.60,62.67 509.22,62.26 512.84,61.86 516.46,61.48 520.08,61.10 523.70,60.73 527.32,60.38 530.94,60.03 534.56,59.70 538.18,59.38 541.80,59.07" fill="none" stroke="#000" stroke-width="0.7"/>
<path d="M328.22 170.05V180.43M326.92 170.05h2.6M326.92 180.43h2.6" stroke="#000" stroke-width="0.6" fill="none"/>
<path d="M331.84 150.58V160.96M330.54 150.58h2.6M330.54 160.96h2.6" stroke="#000" stroke-width="0.6" fill="none"/>
<path d="M335.46 135.00V145.39M334.16 135.00h2.6M334.16 145.39h2.6" stroke="#000" stroke-width="0.6" fill="none"/>
<path d="M339.08 122.02V132.41M337.78 122.02h2.6M337.78 132.41h2.6" stroke="#000" stroke-width="0.6" fill="none"/>
<path d="M342.70 110.34V120.73M341.40 110.34h2.6M341.40 120.73h2.6" stroke="#000" stroke-width="0.6" fill="none"/>
<path d="M346.32 100.61V110.99M345.02 100.61h2.6M345.02 110.99h2.6" stroke="#000" stroke-width="0.6" fill="none"/>
<path d="M349.94 94.77V105.15M348.64 94.77h2.6M348.64 105.15h2.6" stroke="#000" stroke-width="0.6" fill="none"/>
<path d="M353.56 90.87V101.26M352.26 90.87h2.6M352.26 101.26h2.6" stroke="#000" stroke-width="0.6" fill="none"/>
<path d="M357.18 87.63V98.01M355.88 87.63h2.6M355.88 98.01h2.6" stroke="#000" stroke-width="0.6" fill="none"/>
<path d="M360.80 85.03V95.41M359.50 85.03h2.6M359.50 95.41h2.6" stroke="#000" stroke-width="0.6" fill="none"/>
<path d="M364.42 83.23V93.62M363.12 83.23h2.6M363.12 93.62h2.6" stroke="#000" stroke-width="0.6" fill="none"/>
<path d="M368.04 81.78V92.16M366.74 81.78h2.6M366.74 92.16h2.6" stroke="#000" stroke-width="0.6" fill="none"/>
<path d="M371.66 80.55V90.93M370.36 80.55h2.6M370.36 90.93h2.6" stroke="#000" stroke-width="0.6" fill="none"/>
<path d="M375.28 79.51V89.89M373.98 79.51h2.6M373.98 89.89h2.6" stroke="#000" stroke-width="0.6" fill="none"/>
<path d="M378.90 78.54V88.92M377.60 78.54h2.6M377.60 88.92h2.6" stroke="#000" stroke-width="0.6" fill="none"/>
<path d="M382.52 77.58V87.96M381.22 77.58h2.6M381.22 87.96h2.6" stroke="#000" stroke-width="0.6" fill="none"/>
<path d="M386.14 76.64V87.03M384.84 76.64h2.6M384.84 87.03h2.6" stroke="#000" stroke-width="0.6" fill="none"/>
<path d="M389.76 75.73V86.12M388.46 75.73h2.6M388.46 86.12h2.6" stroke="#000" stroke-width="0.6" fill="none"/>
<path d="M393.38 74.85V85.24M392.08 74.85h2.6M392.08 85.24h2.6" stroke="#000" stroke-width="0.6" fill="none"/>
<path d="M397.00 74.00V84.38M395.70 74.00h2.6M395.70 84.38h2.6" stroke="#000" stroke-width="0.6" fill="none"/>
<path d="M400.62 73.16V83.54M399.32 73.16h2.6M399.32 83.54h2.6" stroke="#000" stroke-width="0.6" fill="none"/>
<path d="M404.24 72.32V82.71M402.94 72.32h2.6M402.94 82.71h2.6" stroke="#000" stroke-width="0.6" fill="none"/>
<path d="M407.86 71.52V81.90M406.56 71.52h2.6M406.56 81.90h2.6" stroke="#000" stroke-width="0.6" fill="none"/>
<path d="M411.48 70.77V81.16M410.18 70.77h2.6M410.18 81.16h2.6" stroke="#000" stroke-width="0.6" fill="none"/>
<path d="M415.10 70.10V80.49M413.80 70.10h2.6M413.80 80.49h2.6" stroke="#000" stroke-width="0.6" fill="none"/>
<path d="M418.72 69.52V79.90M417.42 69.52h2.6M417.42 79.90h2.6" stroke="#000" stroke-width="0.6" fill="none"/>
<path d="M422.34 68.99V79.37M421.04 68.99h2.6M421.04 79.37h2.6" stroke="#000" stroke-width="0.6" fill="none"/>
<path d="M425.96 68.50V78.88M424.66 68.50h2.6M424.66 78.88h2.6" stroke="#000" stroke-width="0.6" fill="none"/>
<path d="M429.58 68.01V78.39M428.28 68.01h2.6M428.28 78.39h2.6" stroke="#000" stroke-width="0.6" fill="none"/>
<path d="M433.20 67.51V77.89M431.90 67.51h2.6M431.90 77.89h2.6" stroke="#000" stroke-width="0.6" fill="none"/>
<path d="M436.82 66.99V77.37M435.52 66.99h2.6M435.52 77.37h2.6" stroke="#000" stroke-width="0.6" fill="none"/>
<path d="M440.44 66.47V76.85M439.14 66.47h2.6M439.14 76.85h2.6" stroke="#000" stroke-width="0.6" fill="none"/>
<path d="M444.06 65.95V76.33M442.76 65.95h2.6M442.76 76.33h2.6" stroke="#000" stroke-width="0.6" fill="none"/>
<path d="M447.68 65.43V75.82M446.38 65.43h2.6M446.38 75.82h2.6" stroke="#000" stroke-width="0.6" fill="none"/>
<path d="M451.30 64.91V75.30M450.00 64.91h2.6M450.00 75.30h2.6" stroke="#000" stroke-width="0.6" fill="none"/>
<path d="M454.92 64.39V74.78M453.62 64.39h2.6M453.62 74.78h2.6" stroke="#000" stroke-width="0.6" fill="none"/>
<path d="M458.54 63.87V74.26M457.24 63.87h2.6M457.24 74.26h2.6" stroke="#000" stroke-width="0.6" fill="none"/>
<path d="M462.16 63.35V73.74M460.86 63.35h2.6M460.86 73.74h2.6" stroke="#000" stroke-width="0.6" fill="none"/>
<path d="M465.78 62.82V73.21M464.48 62.82h2.6M464.48 73.21h2.6" stroke="#000" stroke-width="0.6" fill="none"/>
<path d="M469.40 62.29V72.67M468.10 62.29h2.6M468.10 72.67h2.6" stroke="#000" stroke-width="0.6" fill="none"/>
<path d="M473.02 61.76V72.14M471.72 61.76h2.6M471.72 72.14h2.6" stroke="#000" stroke-width="0.6" fill="none"/>
<path d="M476.64 61.23V71.61M475.34 61.23h2.6M475.34 71.61h2.6" stroke="#000" stroke-width="0.6" fill="none"/>
<path d="M480.26 60.71V71.09M478.96 60.71h2.6M478.96 71.09h2.6" stroke="#000" stroke-width="0.6" fill="none"/>
<path d="M483.88 60.20V70.59M482.58 60.20h2.6M482.58 70.59h2.6" stroke="#000" stroke-width="0.6" fill="none"/>
<path d="M487.50 59.72V70.10M486.20 59.72h2.6M486.20 70.10h2.6" stroke="#000" stroke-width="0.6" fill="none"/>
<path d="M491.12 59.25V69.64M489.82 59.25h2.6M489.82 69.64h2.6" stroke="#000" stroke-width="0.6" fill="none"/>
<path d="M494.74 58.79V69.18M493.44 58.79h2.6M493.44 69.18h2.6" stroke="#000" stroke-width="0.6" fill="none"/>
<path d="M498.36 58.34V68.73M497.06 58.34h2.6M497.06 68.73h2.6" stroke="#000" stroke-width="0.6" fill="none"/>
<path d="M501.98 57.91V68.29M500.68 57.91h2.6M500.68 68.29h2.6" stroke="#000" stroke-width="0.6" fill="none"/>
<path d="M505.60 57.48V67.87M504.30 57.48h2.6M504.30 67.87h2.6" stroke="#000" stroke-width="0.6" fill="none"/>
<path d="M509.22 57.07V67.45M507.92 57.07h2.6M507.92 67.45h2.6" stroke="#000" stroke-width="0.6" fill="none"/>
<path d="M512.84 56.67V67.05M511.54 56.67h2.6M511.54 67.05h2.6" stroke="#000" stroke-width="0.6" fill="none"/>
<path d="M516.46 56.28V66.67M515.16 56.28h2.6M515.16 66.67h2.6" stroke="#000" stroke-width="0.6" fill="none"/>
<path d="M520.08 55.91V66.29M518.78 55.91h2.6M518.78 66.29h2.6" stroke="#000" stroke-width="0.6" fill="none"/>
<path d="M523.70 55.54V65.93M522.40 55.54h2.6M522.40 65.93h2.6" stroke="#000" stroke-width="0.6" fill="none"/>
<path d="M527.32 55.19V65.57M526.02 55.19h2.6M526.02 65.57h2.6" stroke="#000" stroke-width="0.6" fill="none"/>
<path d="M530.94 54.84V65.23M529.64 54.84h2.6M529.64 65.23h2.6" stroke="#000" stroke-width="0.6" fill="none"/>
<path d="M534.56 54.51V64.89M533.26 54.51h2.6M533.26 64.89h2.6" stroke="#000" stroke-width="0.6" fill="none"/>
<path d="M538.18 54.19V64.57M536.88 54.19h2.6M536.88 64.57h2.6" stroke="#000" stroke-width="0.6" fill="none"/>
<path d="M541.80 53.88V64.26M540.50 53.88h2.6M540.50 64.26h2.6" stroke="#000" stroke-width="0.6" fill="none"/>
<path d="M324.60 200.52L326.36 203.82L322.84 203.82Z" fill="none" stroke="#000" stroke-width="0.8"/>
<path d="M328.22 173.26L329.98 176.56L326.46 176.56Z" fill="none" stroke="#000" stroke-width="0.8"/>
<path d="M331.84 153.79L333.60 157.09L330.08 157.09Z" fill="none" stroke="#000" stroke-width="0.8"/>
<path d="M335.46 138.22L337.22 141.52L333.70 141.52Z" fill="none" stroke="#000" stroke-width="0.8"/>
<path d="M339.08 125.24L340.84 128.54L337.32 128.54Z" fill="none" stroke="#000" stroke-width="0.8"/>
<path d="M342.70 113.55L344.46 116.85L340.94 116.85Z" fill="none" stroke="#000" stroke-width="0.8"/>
<path d="M346.32 103.82L348.08 107.12L344.56 107.12Z" fill="none" stroke="#000" stroke-width="0.8"/>
<path d="M349.94 97.98L351.70 101.28L348.18 101.28Z" fill="none" stroke="#000" stroke-width="0.8"/>
<path d="M353.56 94.08L355.32 97.38L351.80 97.38Z" fill="none" stroke="#000" stroke-width="0.8"/>
<path d="M357.18 90.84L358.94 94.14L355.42 94.14Z" fill="none" stroke="#000" stroke-width="0.8"/>
<path d="M360.80 88.24L362.56 91.54L359.04 91.54Z" fill="none" stroke="#000" stroke-width="0.8"/>
<path d="M364.42 86.44L366.18 89.74L362.66 89.74Z" fill="none" stroke="#000" stroke-width="0.8"/>
<path d="M368.04 84.99L369.80 88.29L366.28 88.29Z" fill="none" stroke="#000" stroke-width="0.8"/>
<path d="M371.66 83.76L373.42 87.06L369.90 87.06Z" fill="none" stroke="#000" stroke-width="0.8"/>
<path d="M375.28 82.72L377.04 86.02L373.52 86.02Z" fill="none" stroke="#000" stroke-width="0.8"/>
<path d="M378.90 81.75L380.66 85.05L377.14 85.05Z" fill="none" stroke="#000" stroke-width="0.8"/>
<path d="M382.52 80.79L384.28 84.09L380.76 84.09Z" fill="none" stroke="#000" stroke-width="0.8"/>
<path d="M386.14 79.85L387.90 83.15L384.38 83.15Z" fill="none" stroke="#000" stroke-width="0.8"/>
<path d="M389.76 78.94L391.52 82.24L388.00 82.24Z" fill="none" stroke="#000" stroke-width="0.8"/>
<path d="M393.38 78.06L395.14 81.36L391.62 81.36Z" fill="none" stroke="#000" stroke-width="0.8"/>
<path d="M397.00 77.21L398.76 80.51L395.24 80.51Z" fill="none" stroke="#000" stroke-width="0.8"/>
<path d="M400.62 76.37L402.38 79.67L398.86 79.67Z" fill="none" stroke="#000" stroke-width="0.8"/>
<path d="M404.24 75.53L406.00 78.83L402.48 78.83Z" fill="none" stroke="#000" stroke-width="0.8"/>
<path d="M407.86 74.73L409.62 78.03L406.10 78.03Z" fill="none" stroke="#000" stroke-width="0.8"/>
<path d="M411.48 73.99L413.24 77.29L409.72 77.29Z" fill="none" stroke="#000" stroke-width="0.8"/>
<path d="M415.10 73.32L416.86 76.62L413.34 76.62Z" fill="none" stroke="#000" stroke-width="0.8"/>
<path d="M418.72 72.73L420.48 76.03L416.96 76.03Z" fill="none" stroke="#000" stroke-width="0.8"/>
<path d="M422.34 72.20L424.10 75.50L420.58 75.50Z" fill="none" stroke="#000" stroke-width="0.8"/>
<path d="M425.96 71.71L427.72 75.01L424.20 75.01Z" fill="none" stroke="#000" stroke-width="0.8"/>
<path d="M429.58 71.22L431.34 74.52L427.82 74.52Z" fill="none" stroke="#000" stroke-width="0.8"/>
<path d="M433.20 70.72L434.96 74.02L431.44 74.02Z" fill="none" stroke="#000" stroke-width="0.8"/>
<path d="M436.82 70.20L438.58 73.50L435.06 73.50Z" fill="none" stroke="#000" stroke-width="0.8"/>
<path d="M440.44 69.68L442.20 72.98L438.68 72.98Z" fill="none" stroke="#000" stroke-width="0.8"/>
<path d="M444.06 69.16L445.82 72.46L442.30 72.46Z" fill="none" stroke="#000" stroke-width="0.8"/>
<path d="M447.68 68.64L449.44 71.94L445.92 71.94Z" fill="none" stroke="#000" stroke-width="0.8"/>
<path d="M451.30 68.12L453.06 71.42L449.54 71.42Z" fill="none" stroke="#000" stroke-width="0.8"/>
<path d="M454.92 67.60L456.68 70.90L453.16 70.90Z" fill="none" stroke="#000" stroke-width="0.8"/>
<path d="M458.54 67.09L460.30 70.39L456.78 70.39Z" fill="none" stroke="#000" stroke-width="0.8"/>
<path d="M462.16 66.56L463.92 69.86L460.40 69.86Z" fill="none" stroke="#000" stroke-width="0.8"/>
<path d="M465.78 66.04L467.54 69.34L464.02 69.34Z" fill="none" stroke="#000" stroke-width="0.8"/>
<path d="M469.40 65.50L471.16 68.80L467.64 68.80Z" fill="none" stroke="#000" stroke-width="0.8"/>
<path d="M473.02 64.97L474.78 68.27L471.26 68.27Z" fill="none" stroke="#000" stroke-width="0.8"/>
<path d="M476.64 64.44L478.40 67.74L474.88 67.74Z" fill="none" stroke="#000" stroke-width="0.8"/>
<path d="M480.26 63.92L482.02 67.22L478.50 67.22Z" fill="none" stroke="#000" stroke-width="0.8"/>
<path d="M483.88 63.42L485.64 66.72L482.12 66.72Z" fill="none" stroke="#000" stroke-width="0.8"/>
<path d="M487.50 62.93L489.26 66.23L485.74 66.23Z" fill="none" stroke="#000" stroke-width="0.8"/>
<path d="M491.12 62.46L492.88 65.76L489.36 65.76Z" fill="none" stroke="#000" stroke-width="0.8"/>
<path d="M494.74 62.01L496.50 65.31L492.98 65.31Z" fill="none" stroke="#000" stroke-width="0.8"/>
<path d="M498.36 61.56L500.12 64.86L496.60 64.86Z" fill="none" stroke="#000" stroke-width="0.8"/>
<path d="M501.98 61.12L503.74 64.42L500.22 64.42Z" fill="none" stroke="#000" stroke-width="0.8"/>
<path d="M505.60 60.69L507.36 63.99L503.84 63.99Z" fill="none" stroke="#000" stroke-width="0.8"/>
<path d="M509.22 60.28L510.98 63.58L507.46 63.58Z" fill="none" stroke="#000" stroke-width="0.8"/>
<path d="M512.84 59.88L514.60 63.18L511.08 63.18Z" fill="none" stroke="#000" stroke-width="0.8"/>
<path d="M516.46 59.50L518.22 62.80L514.70 62.80Z" fill="none" stroke="#000" stroke-width="0.8"/>
<path d="M520.08 59.12L521.84 62.42L518.32 62.42Z" fill="none" stroke="#000" stroke-width="0.8"/>
<path d="M523.70 58.75L525.46 62.05L521.94 62.05Z" fill="none" stroke="#000" stroke-width="0.8"/>
<path d="M527.32 58.40L529.08 61.70L525.56 61.70Z" fill="none" stroke="#000" stroke-width="0.8"/>
<path d="M530.94 58.05L532.70 61.35L529.18 61.35Z" fill="none" stroke="#000" stroke-width="0.8"/>
<path d="M534.56 57.72L536.32 61.02L532.80 61.02Z" fill="none" stroke="#000" stroke-width="0.8"/>
<path d="M538.18 57.40L539.94 60.70L536.42 60.70Z" fill="none" stroke="#000" stroke-width="0.8"/>
<path d="M541.80 57.09L543.56 60.39L540.04 60.39Z" fill="none" stroke="#000" stroke-width="0.8"/>
<polyline points="324.60,202.50 328.22,175.24 331.84,155.77 335.46,137.60 339.08,120.73 342.70,109.04 346.32,99.96 349.94,95.93 353.56,92.43 357.18,89.96 360.80,87.37 364.42,85.63 368.04,84.28 371.66,83.26 375.28,82.49 378.90,81.79 382.52,81.08 386.14,80.41 389.76,79.76 393.38,79.13 397.00,78.54 400.62,77.97 404.24,77.43 407.86,76.90 411.48,76.41 415.10,75.94 418.72,75.52 422.34,75.14 425.96,74.76 429.58,74.39 433.20,74.00 436.82,73.58 440.44,73.16 444.06,72.73 447.68,72.29 451.30,71.85 454.92,71.41 458.54,70.97 462.16,70.54 465.78,70.09 469.40,69.64 473.02,69.20 476.64,68.75 480.26,68.32 483.88,67.90 487.50,67.51 491.12,67.14 494.74,66.79 498.36,66.46 501.98,66.13 505.60,65.80 509.22,65.46 512.84,65.10 516.46,64.72 520.08,64.32 523.70,63.91 527.32,63.48 530.94,63.05 534.56,62.60 538.18,62.14 541.80,61.67" fill="none" stroke="#000" stroke-width="0.7"/>
<path d="M328.22 171.22V179.27M326.92 171.22h2.6M326.92 179.27h2.6" stroke="#000" stroke-width="0.6" fill="none"/>
<path d="M331.84 151.62V159.93M330.54 151.62h2.6M330.54 159.93h2.6" stroke="#000" stroke-width="0.6" fill="none"/>
<path d="M335.46 133.32V141.88M334.16 133.32h2.6M334.16 141.88h2.6" stroke="#000" stroke-width="0.6" fill="none"/>
<path d="M339.08 116.31V125.14M337.78 116.31h2.6M337.78 125.14h2.6" stroke="#000" stroke-width="0.6" fill="none"/>
<path d="M342.70 104.50V113.59M341.40 104.50h2.6M341.40 113.59h2.6" stroke="#000" stroke-width="0.6" fill="none"/>
<path d="M346.32 95.29V104.63M345.02 95.29h2.6M345.02 104.63h2.6" stroke="#000" stroke-width="0.6" fill="none"/>
<path d="M349.94 91.13V100.74M348.64 91.13h2.6M348.64 100.74h2.6" stroke="#000" stroke-width="0.6" fill="none"/>
<path d="M353.56 87.50V97.36M352.26 87.50h2.6M352.26 97.36h2.6" stroke="#000" stroke-width="0.6" fill="none"/>
<path d="M357.18 84.90V95.03M355.88 84.90h2.6M355.88 95.03h2.6" stroke="#000" stroke-width="0.6" fill="none"/>
<path d="M360.80 82.18V92.56M359.50 82.18h2.6M359.50 92.56h2.6" stroke="#000" stroke-width="0.6" fill="none"/>
<path d="M364.42 80.38V90.89M363.12 80.38h2.6M363.12 90.89h2.6" stroke="#000" stroke-width="0.6" fill="none"/>
<path d="M368.04 78.96V89.60M366.74 78.96h2.6M366.74 89.60h2.6" stroke="#000" stroke-width="0.6" fill="none"/>
<path d="M371.66 77.88V88.65M370.36 77.88h2.6M370.36 88.65h2.6" stroke="#000" stroke-width="0.6" fill="none"/>
<path d="M375.28 77.03V87.94M373.98 77.03h2.6M373.98 87.94h2.6" stroke="#000" stroke-width="0.6" fill="none"/>
<path d="M378.90 76.27V87.30M377.60 76.27h2.6M377.60 87.30h2.6" stroke="#000" stroke-width="0.6" fill="none"/>
<path d="M382.52 75.50V86.66M381.22 75.50h2.6M381.22 86.66h2.6" stroke="#000" stroke-width="0.6" fill="none"/>
<path d="M386.14 74.76V86.05M384.84 74.76h2.6M384.84 86.05h2.6" stroke="#000" stroke-width="0.6" fill="none"/>
<path d="M389.76 74.04V85.47M388.46 74.04h2.6M388.46 85.47h2.6" stroke="#000" stroke-width="0.6" fill="none"/>
<path d="M393.38 73.36V84.91M392.08 73.36h2.6M392.08 84.91h2.6" stroke="#000" stroke-width="0.6" fill="none"/>
<path d="M397.00 72.70V84.38M395.70 72.70h2.6M395.70 84.38h2.6" stroke="#000" stroke-width="0.6" fill="none"/>
<path d="M400.62 72.07V83.88M399.32 72.07h2.6M399.32 83.88h2.6" stroke="#000" stroke-width="0.6" fill="none"/>
<path d="M404.24 71.45V83.40M402.94 71.45h2.6M402.94 83.40h2.6" stroke="#000" stroke-width="0.6" fill="none"/>
<path d="M407.86 70.87V82.94M406.56 70.87h2.6M406.56 82.94h2.6" stroke="#000" stroke-width="0.6" fill="none"/>
<path d="M411.48 70.31V82.51M410.18 70.31h2.6M410.18 82.51h2.6" stroke="#000" stroke-width="0.6" fill="none"/>
<path d="M415.10 69.78V82.11M413.80 69.78h2.6M413.80 82.11h2.6" stroke="#000" stroke-width="0.6" fill="none"/>
<path d="M418.72 69.29V81.75M417.42 69.29h2.6M417.42 81.75h2.6" stroke="#000" stroke-width="0.6" fill="none"/>
<path d="M422.34 68.84V81.43M421.04 68.84h2.6M421.04 81.43h2.6" stroke="#000" stroke-width="0.6" fill="none"/>
<path d="M425.96 68.40V81.12M424.66 68.40h2.6M424.66 81.12h2.6" stroke="#000" stroke-width="0.6" fill="none"/>
<path d="M429.58 67.97V80.82M428.28 67.97h2.6M428.28 80.82h2.6" stroke="#000" stroke-width="0.6" fill="none"/>
<path d="M433.20 67.51V80.49M431.90 67.51h2.6M431.90 80.49h2.6" stroke="#000" stroke-width="0.6" fill="none"/>
<path d="M436.82 67.09V80.07M435.52 67.09h2.6M435.52 80.07h2.6" stroke="#000" stroke-width="0.6" fill="none"/>
<path d="M440.44 66.67V79.65M439.14 66.67h2.6M439.14 79.65h2.6" stroke="#000" stroke-width="0.6" fill="none"/>
<path d="M444.06 66.24V79.22M442.76 66.24h2.6M442.76 79.22h2.6" stroke="#000" stroke-width="0.6" fill="none"/>
<path d="M447.68 65.80V78.78M446.38 65.80h2.6M446.38 78.78h2.6" stroke="#000" stroke-width="0.6" fill="none"/>
<path d="M451.30 65.36V78.34M450.00 65.36h2.6M450.00 78.34h2.6" stroke="#000" stroke-width="0.6" fill="none"/>
<path d="M454.92 64.92V77.90M453.62 64.92h2.6M453.62 77.90h2.6" stroke="#000" stroke-width="0.6" fill="none"/>
<path d="M458.54 64.48V77.46M457.24 64.48h2.6M457.24 77.46h2.6" stroke="#000" stroke-width="0.6" fill="none"/>
<path d="M462.16 64.05V77.03M460.86 64.05h2.6M460.86 77.03h2.6" stroke="#000" stroke-width="0.6" fill="none"/>
<path d="M465.78 63.60V76.58M464.48 63.60h2.6M464.48 76.58h2.6" stroke="#000" stroke-width="0.6" fill="none"/>
<path d="M469.40 63.15V76.13M468.10 63.15h2.6M468.10 76.13h2.6" stroke="#000" stroke-width="0.6" fill="none"/>
<path d="M473.02 62.71V75.69M471.72 62.71h2.6M471.72 75.69h2.6" stroke="#000" stroke-width="0.6" fill="none"/>
<path d="M476.64 62.26V75.24M475.34 62.26h2.6M475.34 75.24h2.6" stroke="#000" stroke-width="0.6" fill="none"/>
<path d="M480.26 61.83V74.81M478.96 61.83h2.6M478.96 74.81h2.6" stroke="#000" stroke-width="0.6" fill="none"/>
<path d="M483.88 61.41V74.39M482.58 61.41h2.6M482.58 74.39h2.6" stroke="#000" stroke-width="0.6" fill="none"/>
<path d="M487.50 61.02V74.00M486.20 61.02h2.6M486.20 74.00h2.6" stroke="#000" stroke-width="0.6" fill="none"/>
<path d="M491.12 60.65V73.63M489.82 60.65h2.6M489.82 73.63h2.6" stroke="#000" stroke-width="0.6" fill="none"/>
<path d="M494.74 60.30V73.28M493.44 60.30h2.6M493.44 73.28h2.6" stroke="#000" stroke-width="0.6" fill="none"/>
<path d="M498.36 59.97V72.95M497.06 59.97h2.6M497.06 72.95h2.6" stroke="#000" stroke-width="0.6" fill="none"/>
<path d="M501.98 59.64V72.62M500.68 59.64h2.6M500.68 72.62h2.6" stroke="#000" stroke-width="0.6" fill="none"/>
<path d="M505.60 59.31V72.29M504.30 59.31h2.6M504.30 72.29h2.6" stroke="#000" stroke-width="0.6" fill="none"/>
<path d="M509.22 58.97V71.95M507.92 58.97h2.6M507.92 71.95h2.6" stroke="#000" stroke-width="0.6" fill="none"/>
<path d="M512.84 58.61V71.59M511.54 58.61h2.6M511.54 71.59h2.6" stroke="#000" stroke-width="0.6" fill="none"/>
<path d="M516.46 58.23V71.21M515.16 58.23h2.6M515.16 71.21h2.6" stroke="#000" stroke-width="0.6" fill="none"/>
<path d="M520.08 57.83V70.81M518.78 57.83h2.6M518.78 70.81h2.6" stroke="#000" stroke-width="0.6" fill="none"/>
<path d="M523.70 57.42V70.40M522.40 57.42h2.6M522.40 70.40h2.6" stroke="#000" stroke-width="0.6" fill="none"/>
<path d="M527.32 56.99V69.97M526.02 56.99h2.6M526.02 69.97h2.6" stroke="#000" stroke-width="0.6" fill="none"/>
<path d="M530.94 56.56V69.54M529.64 56.56h2.6M529.64 69.54h2.6" stroke="#000" stroke-width="0.6" fill="none"/>
<path d="M534.56 56.11V69.09M533.26 56.11h2.6M533.26 69.09h2.6" stroke="#000" stroke-width="0.6" fill="none"/>
<path d="M538.18 55.65V68.63M536.88 55.65h2.6M536.88 68.63h2.6" stroke="#000" stroke-width="0.6" fill="none"/>
<path d="M541.80 55.18V68.16M540.50 55.18h2.6M540.50 68.16h2.6" stroke="#000" stroke-width="0.6" fill="none"/>
<path d="M324.60 200.30L326.69 204.04L322.51 204.04Z" fill="#000"/>
<path d="M328.22 173.04L330.31 176.78L326.13 176.78Z" fill="#000"/>
<path d="M331.84 153.57L333.93 157.31L329.75 157.31Z" fill="#000"/>
<path d="M335.46 135.40L337.55 139.14L333.37 139.14Z" fill="#000"/>
<path d="M339.08 118.53L341.17 122.27L336.99 122.27Z" fill="#000"/>
<path d="M342.70 106.84L344.79 110.58L340.61 110.58Z" fill="#000"/>
<path d="M346.32 97.76L348.41 101.50L344.23 101.50Z" fill="#000"/>
<path d="M349.94 93.73L352.03 97.47L347.85 97.47Z" fill="#000"/>
<path d="M353.56 90.23L355.65 93.97L351.47 93.97Z" fill="#000"/>
<path d="M357.18 87.76L359.27 91.50L355.09 91.50Z" fill="#000"/>
<path d="M360.80 85.17L362.89 88.91L358.71 88.91Z" fill="#000"/>
<path d="M364.42 83.43L366.51 87.17L362.33 87.17Z" fill="#000"/>
<path d="M368.04 82.08L370.13 85.82L365.95 85.82Z" fill="#000"/>
<path d="M371.66 81.06L373.75 84.80L369.57 84.80Z" fill="#000"/>
<path d="M375.28 80.29L377.37 84.03L373.19 84.03Z" fill="#000"/>
<path d="M378.90 79.59L380.99 83.33L376.81 83.33Z" fill="#000"/>
<path d="M382.52 78.88L384.61 82.62L380.43 82.62Z" fill="#000"/>
<path d="M386.14 78.21L388.23 81.95L384.05 81.95Z" fill="#000"/>
<path d="M389.76 77.56L391.85 81.30L387.67 81.30Z" fill="#000"/>
<path d="M393.38 76.93L395.47 80.67L391.29 80.67Z" fill="#000"/>
<path d="M397.00 76.34L399.09 80.08L394.91 80.08Z" fill="#000"/>
<path d="M400.62 75.77L402.71 79.51L398.53 79.51Z" fill="#000"/>
<path d="M404.24 75.23L406.33 78.97L402.15 78.97Z" fill="#000"/>
<path d="M407.86 74.70L409.95 78.44L405.77 78.44Z" fill="#000"/>
<path d="M411.48 74.21L413.57 77.95L409.39 77.95Z" fill="#000"/>
<path d="M415.10 73.74L417.19 77.48L413.01 77.48Z" fill="#000"/>
<path d="M418.72 73.32L420.81 77.06L416.63 77.06Z" fill="#000"/>
<path d="M422.34 72.94L424.43 76.68L420.25 76.68Z" fill="#000"/>
<path d="M425.96 72.56L428.05 76.30L423.87 76.30Z" fill="#000"/>
<path d="M429.58 72.19L431.67 75.93L427.49 75.93Z" fill="#000"/>
<path d="M433.20 71.80L435.29 75.54L431.11 75.54Z" fill="#000"/>
<path d="M436.82 71.38L438.91 75.12L434.73 75.12Z" fill="#000"/>
<path d="M440.44 70.96L442.53 74.70L438.35 74.70Z" fill="#000"/>
<path d="M444.06 70.53L446.15 74.27L441.97 74.27Z" fill="#000"/>
<path d="M447.68 70.09L449.77 73.83L445.59 73.83Z" fill="#000"/>
<path d="M451.30 69.65L453.39 73.39L449.21 73.39Z" fill="#000"/>
<path d="M454.92 69.21L457.01 72.95L452.83 72.95Z" fill="#000"/>
<path d="M458.54 68.77L460.63 72.51L456.45 72.51Z" fill="#000"/>
<path d="M462.16 68.34L464.25 72.08L460.07 72.08Z" fill="#000"/>
<path d="M465.78 67.89L467.87 71.63L463.69 71.63Z" fill="#000"/>
<path d="M469.40 67.44L471.49 71.18L467.31 71.18Z" fill="#000"/>
<path d="M473.02 67.00L475.11 70.74L470.93 70.74Z" fill="#000"/>
<path d="M476.64 66.55L478.73 70.29L474.55 70.29Z" fill="#000"/>
<path d="M480.26 66.12L482.35 69.86L478.17 69.86Z" fill="#000"/>
<path d="M483.88 65.70L485.97 69.44L481.79 69.44Z" fill="#000"/>
<path d="M487.50 65.31L489.59 69.05L485.41 69.05Z" fill="#000"/>
<path d="M491.12 64.94L493.21 68.68L489.03 68.68Z" fill="#000"/>
<path d="M494.74 64.59L496.83 68.33L492.65 68.33Z" fill="#000"/>
<path d="M498.36 64.26L500.45 68.00L496.27 68.00Z" fill="#000"/>
<path d="M501.98 63.93L504.07 67.67L499.89 67.67Z" fill="#000"/>
<path d="M505.60 63.60L507.69 67.34L503.51 67.34Z" fill="#000"/>
<path d="M509.22 63.26L511.31 67.00L507.13 67.00Z" fill="#000"/>
<path d="M512.84 62.90L514.93 66.64L510.75 66.64Z" fill="#000"/>
<path d="M516.46 62.52L518.55 66.26L514.37 66.26Z" fill="#000"/>
<path d="M520.08 62.12L522.17 65.86L517.99 65.86Z" fill="#000"/>
<path d="M523.70 61.71L525.79 65.45L521.61 65.45Z" fill="#000"/>
<path d="M527.32 61.28L529.41 65.02L525.23 65.02Z" fill="#000"/>
<path d="M530.94 60.85L533.03 64.59L528.85 64.59Z" fill="#000"/>
<path d="M534.56 60.40L536.65 64.14L532.47 64.14Z" fill="#000"/>
<path d="M538.18 59.94L540.27 63.68L536.09 63.68Z" fill="#000"/>
<path d="M541.80 59.47L543.89 63.21L539.71 63.21Z" fill="#000"/>
<polyline points="324.60,202.50 328.22,176.54 331.84,157.07 335.46,142.79 339.08,131.11 342.70,120.73 346.32,112.29 349.94,106.45 353.56,101.91 357.18,98.01 360.80,94.77 364.42,92.38 368.04,90.42 371.66,88.81 375.28,87.45 378.90,86.33 382.52,85.38 386.14,84.54 389.76,83.77 393.38,83.08 397.00,82.44 400.62,81.84 404.24,81.29 407.86,80.77 411.48,80.29 415.10,79.84 418.72,79.40 422.34,78.99 425.96,78.60 429.58,78.23 433.20,77.89 436.82,77.58 440.44,77.29 444.06,77.02 447.68,76.76 451.30,76.51 454.92,76.24 458.54,75.96 462.16,75.66 465.78,75.35 469.40,75.03 473.02,74.70 476.64,74.36 480.26,74.03 483.88,73.69 487.50,73.35 491.12,73.01 494.74,72.66 498.36,72.31 501.98,71.95 505.60,71.60 509.22,71.26 512.84,70.92 516.46,70.59 520.08,70.27 523.70,69.95 527.32,69.63 530.94,69.32 534.56,69.01 538.18,68.71 541.80,68.42" fill="none" stroke="#000" stroke-width="0.7"/>
<path d="M328.22 170.48V182.60M326.92 170.48h2.6M326.92 182.60h2.6" stroke="#000" stroke-width="0.6" fill="none"/>
<path d="M331.84 150.15V163.99M330.54 150.15h2.6M330.54 163.99h2.6" stroke="#000" stroke-width="0.6" fill="none"/>
<path d="M335.46 135.00V150.58M334.16 135.00h2.6M334.16 150.58h2.6" stroke="#000" stroke-width="0.6" fill="none"/>
<path d="M339.08 122.46V139.76M337.78 122.46h2.6M337.78 139.76h2.6" stroke="#000" stroke-width="0.6" fill="none"/>
<path d="M342.70 111.21V130.24M341.40 111.21h2.6M341.40 130.24h2.6" stroke="#000" stroke-width="0.6" fill="none"/>
<path d="M346.32 101.91V122.67M345.02 101.91h2.6M345.02 122.67h2.6" stroke="#000" stroke-width="0.6" fill="none"/>
<path d="M349.94 95.20V117.70M348.64 95.20h2.6M348.64 117.70h2.6" stroke="#000" stroke-width="0.6" fill="none"/>
<path d="M353.56 90.22V113.59M352.26 90.22h2.6M352.26 113.59h2.6" stroke="#000" stroke-width="0.6" fill="none"/>
<path d="M357.18 86.33V109.69M355.88 86.33h2.6M355.88 109.69h2.6" stroke="#000" stroke-width="0.6" fill="none"/>
<path d="M360.80 83.08V106.45M359.50 83.08h2.6M359.50 106.45h2.6" stroke="#000" stroke-width="0.6" fill="none"/>
<path d="M364.42 80.70V104.06M363.12 80.70h2.6M363.12 104.06h2.6" stroke="#000" stroke-width="0.6" fill="none"/>
<path d="M368.04 78.73V102.10M366.74 78.73h2.6M366.74 102.10h2.6" stroke="#000" stroke-width="0.6" fill="none"/>
<path d="M371.66 77.12V100.49M370.36 77.12h2.6M370.36 100.49h2.6" stroke="#000" stroke-width="0.6" fill="none"/>
<path d="M375.28 75.77V99.13M373.98 75.77h2.6M373.98 99.13h2.6" stroke="#000" stroke-width="0.6" fill="none"/>
<path d="M378.90 74.65V98.01M377.60 74.65h2.6M377.60 98.01h2.6" stroke="#000" stroke-width="0.6" fill="none"/>
<path d="M382.52 73.70V97.06M381.22 73.70h2.6M381.22 97.06h2.6" stroke="#000" stroke-width="0.6" fill="none"/>
<path d="M386.14 72.85V96.22M384.84 72.85h2.6M384.84 96.22h2.6" stroke="#000" stroke-width="0.6" fill="none"/>
<path d="M389.76 72.09V95.46M388.46 72.09h2.6M388.46 95.46h2.6" stroke="#000" stroke-width="0.6" fill="none"/>
<path d="M393.38 71.40V94.76M392.08 71.40h2.6M392.08 94.76h2.6" stroke="#000" stroke-width="0.6" fill="none"/>
<path d="M397.00 70.75V94.12M395.70 70.75h2.6M395.70 94.12h2.6" stroke="#000" stroke-width="0.6" fill="none"/>
<path d="M400.62 71.19V92.48M399.32 71.19h2.6M399.32 92.48h2.6" stroke="#000" stroke-width="0.6" fill="none"/>
<path d="M404.24 71.68V90.89M402.94 71.68h2.6M402.94 90.89h2.6" stroke="#000" stroke-width="0.6" fill="none"/>
<path d="M407.86 72.21V89.34M406.56 72.21h2.6M406.56 89.34h2.6" stroke="#000" stroke-width="0.6" fill="none"/>
<path d="M411.48 72.77V87.82M410.18 72.77h2.6M410.18 87.82h2.6" stroke="#000" stroke-width="0.6" fill="none"/>
<path d="M415.10 73.35V86.33M413.80 73.35h2.6M413.80 86.33h2.6" stroke="#000" stroke-width="0.6" fill="none"/>
<path d="M418.72 73.95V84.86M417.42 73.95h2.6M417.42 84.86h2.6" stroke="#000" stroke-width="0.6" fill="none"/>
<path d="M422.34 74.58V83.40M421.04 74.58h2.6M421.04 83.40h2.6" stroke="#000" stroke-width="0.6" fill="none"/>
<path d="M425.96 74.71V82.49M424.66 74.71h2.6M424.66 82.49h2.6" stroke="#000" stroke-width="0.6" fill="none"/>
<path d="M429.58 74.34V82.13M428.28 74.34h2.6M428.28 82.13h2.6" stroke="#000" stroke-width="0.6" fill="none"/>
<path d="M433.20 74.00V81.79M431.90 74.00h2.6M431.90 81.79h2.6" stroke="#000" stroke-width="0.6" fill="none"/>
<path d="M436.82 73.69V81.47M435.52 73.69h2.6M435.52 81.47h2.6" stroke="#000" stroke-width="0.6" fill="none"/>
<path d="M440.44 73.40V81.19M439.14 73.40h2.6M439.14 81.19h2.6" stroke="#000" stroke-width="0.6" fill="none"/>
<path d="M444.06 73.13V80.92M442.76 73.13h2.6M442.76 80.92h2.6" stroke="#000" stroke-width="0.6" fill="none"/>
<path d="M447.68 72.87V80.66M446.38 72.87h2.6M446.38 80.66h2.6" stroke="#000" stroke-width="0.6" fill="none"/>
<path d="M451.30 72.61V80.40M450.00 72.61h2.6M450.00 80.40h2.6" stroke="#000" stroke-width="0.6" fill="none"/>
<path d="M454.92 72.35V80.14M453.62 72.35h2.6M453.62 80.14h2.6" stroke="#000" stroke-width="0.6" fill="none"/>
<path d="M458.54 72.07V79.86M457.24 72.07h2.6M457.24 79.86h2.6" stroke="#000" stroke-width="0.6" fill="none"/>
<path d="M462.16 71.77V79.56M460.86 71.77h2.6M460.86 79.56h2.6" stroke="#000" stroke-width="0.6" fill="none"/>
<path d="M465.78 71.46V79.25M464.48 71.46h2.6M464.48 79.25h2.6" stroke="#000" stroke-width="0.6" fill="none"/>
<path d="M469.40 71.14V78.92M468.10 71.14h2.6M468.10 78.92h2.6" stroke="#000" stroke-width="0.6" fill="none"/>
<path d="M473.02 70.81V78.59M471.72 70.81h2.6M471.72 78.59h2.6" stroke="#000" stroke-width="0.6" fill="none"/>
<path d="M476.64 70.47V78.26M475.34 70.47h2.6M475.34 78.26h2.6" stroke="#000" stroke-width="0.6" fill="none"/>
<path d="M480.26 70.13V77.92M478.96 70.13h2.6M478.96 77.92h2.6" stroke="#000" stroke-width="0.6" fill="none"/>
<path d="M483.88 69.79V77.58M482.58 69.79h2.6M482.58 77.58h2.6" stroke="#000" stroke-width="0.6" fill="none"/>
<path d="M487.50 69.45V77.24M486.20 69.45h2.6M486.20 77.24h2.6" stroke="#000" stroke-width="0.6" fill="none"/>
<path d="M491.12 69.11V76.90M489.82 69.11h2.6M489.82 76.90h2.6" stroke="#000" stroke-width="0.6" fill="none"/>
<path d="M494.74 68.77V76.55M493.44 68.77h2.6M493.44 76.55h2.6" stroke="#000" stroke-width="0.6" fill="none"/>
<path d="M498.36 68.41V76.20M497.06 68.41h2.6M497.06 76.20h2.6" stroke="#000" stroke-width="0.6" fill="none"/>
<path d="M501.98 68.06V75.85M500.68 68.06h2.6M500.68 75.85h2.6" stroke="#000" stroke-width="0.6" fill="none"/>
<path d="M505.60 67.71V75.50M504.30 67.71h2.6M504.30 75.50h2.6" stroke="#000" stroke-width="0.6" fill="none"/>
<path d="M509.22 67.36V75.15M507.92 67.36h2.6M507.92 75.15h2.6" stroke="#000" stroke-width="0.6" fill="none"/>
<path d="M512.84 67.02V74.81M511.54 67.02h2.6M511.54 74.81h2.6" stroke="#000" stroke-width="0.6" fill="none"/>
<path d="M516.46 66.70V74.48M515.16 66.70h2.6M515.16 74.48h2.6" stroke="#000" stroke-width="0.6" fill="none"/>
<path d="M520.08 66.37V74.16M518.78 66.37h2.6M518.78 74.16h2.6" stroke="#000" stroke-width="0.6" fill="none"/>
<path d="M523.70 66.05V73.84M522.40 66.05h2.6M522.40 73.84h2.6" stroke="#000" stroke-width="0.6" fill="none"/>
<path d="M527.32 65.74V73.53M526.02 65.74h2.6M526.02 73.53h2.6" stroke="#000" stroke-width="0.6" fill="none"/>
<path d="M530.94 65.43V73.21M529.64 65.43h2.6M529.64 73.21h2.6" stroke="#000" stroke-width="0.6" fill="none"/>
<path d="M534.56 65.12V72.91M533.26 65.12h2.6M533.26 72.91h2.6" stroke="#000" stroke-width="0.6" fill="none"/>
<path d="M538.18 64.82V72.61M536.88 64.82h2.6M536.88 72.61h2.6" stroke="#000" stroke-width="0.6" fill="none"/>
<path d="M541.80 64.52V72.31M540.50 64.52h2.6M540.50 72.31h2.6" stroke="#000" stroke-width="0.6" fill="none"/>
<circle cx="324.60" cy="202.50" r="1.75" fill="none" stroke="#000" stroke-width="0.8"/>
<circle cx="328.22" cy="176.54" r="1.75" fill="none" stroke="#000" stroke-width="0.8"/>
<circle cx="331.84" cy="157.07" r="1.75" fill="none" stroke="#000" stroke-width="0.8"/>
<circle cx="335.46" cy="142.79" r="1.75" fill="none" stroke="#000" stroke-width="0.8"/>
<circle cx="339.08" cy="131.11" r="1.75" fill="none" stroke="#000" stroke-width="0.8"/>
<circle cx="342.70" cy="120.73" r="1.75" fill="none" stroke="#000" stroke-width="0.8"/>
<circle cx="346.32" cy="112.29" r="1.75" fill="none" stroke="#000" stroke-width="0.8"/>
<circle cx="349.94" cy="106.45" r="1.75" fill="none" stroke="#000" stroke-width="0.8"/>
<circle cx="353.56" cy="101.91" r="1.75" fill="none" stroke="#000" stroke-width="0.8"/>
<circle cx="357.18" cy="98.01" r="1.75" fill="none" stroke="#000" stroke-width="0.8"/>
<circle cx="360.80" cy="94.77" r="1.75" fill="none" stroke="#000" stroke-width="0.8"/>
<circle cx="364.42" cy="92.38" r="1.75" fill="none" stroke="#000" stroke-width="0.8"/>
<circle cx="368.04" cy="90.42" r="1.75" fill="none" stroke="#000" stroke-width="0.8"/>
<circle cx="371.66" cy="88.81" r="1.75" fill="none" stroke="#000" stroke-width="0.8"/>
<circle cx="375.28" cy="87.45" r="1.75" fill="none" stroke="#000" stroke-width="0.8"/>
<circle cx="378.90" cy="86.33" r="1.75" fill="none" stroke="#000" stroke-width="0.8"/>
<circle cx="382.52" cy="85.38" r="1.75" fill="none" stroke="#000" stroke-width="0.8"/>
<circle cx="386.14" cy="84.54" r="1.75" fill="none" stroke="#000" stroke-width="0.8"/>
<circle cx="389.76" cy="83.77" r="1.75" fill="none" stroke="#000" stroke-width="0.8"/>
<circle cx="393.38" cy="83.08" r="1.75" fill="none" stroke="#000" stroke-width="0.8"/>
<circle cx="397.00" cy="82.44" r="1.75" fill="none" stroke="#000" stroke-width="0.8"/>
<circle cx="400.62" cy="81.84" r="1.75" fill="none" stroke="#000" stroke-width="0.8"/>
<circle cx="404.24" cy="81.29" r="1.75" fill="none" stroke="#000" stroke-width="0.8"/>
<circle cx="407.86" cy="80.77" r="1.75" fill="none" stroke="#000" stroke-width="0.8"/>
<circle cx="411.48" cy="80.29" r="1.75" fill="none" stroke="#000" stroke-width="0.8"/>
<circle cx="415.10" cy="79.84" r="1.75" fill="none" stroke="#000" stroke-width="0.8"/>
<circle cx="418.72" cy="79.40" r="1.75" fill="none" stroke="#000" stroke-width="0.8"/>
<circle cx="422.34" cy="78.99" r="1.75" fill="none" stroke="#000" stroke-width="0.8"/>
<circle cx="425.96" cy="78.60" r="1.75" fill="none" stroke="#000" stroke-width="0.8"/>
<circle cx="429.58" cy="78.23" r="1.75" fill="none" stroke="#000" stroke-width="0.8"/>
<circle cx="433.20" cy="77.89" r="1.75" fill="none" stroke="#000" stroke-width="0.8"/>
<circle cx="436.82" cy="77.58" r="1.75" fill="none" stroke="#000" stroke-width="0.8"/>
<circle cx="440.44" cy="77.29" r="1.75" fill="none" stroke="#000" stroke-width="0.8"/>
<circle cx="444.06" cy="77.02" r="1.75" fill="none" stroke="#000" stroke-width="0.8"/>
<circle cx="447.68" cy="76.76" r="1.75" fill="none" stroke="#000" stroke-width="0.8"/>
<circle cx="451.30" cy="76.51" r="1.75" fill="none" stroke="#000" stroke-width="0.8"/>
<circle cx="454.92" cy="76.24" r="1.75" fill="none" stroke="#000" stroke-width="0.8"/>
<circle cx="458.54" cy="75.96" r="1.75" fill="none" stroke="#000" stroke-width="0.8"/>
<circle cx="462.16" cy="75.66" r="1.75" fill="none" stroke="#000" stroke-width="0.8"/>
<circle cx="465.78" cy="75.35" r="1.75" fill="none" stroke="#000" stroke-width="0.8"/>
<circle cx="469.40" cy="75.03" r="1.75" fill="none" stroke="#000" stroke-width="0.8"/>
<circle cx="473.02" cy="74.70" r="1.75" fill="none" stroke="#000" stroke-width="0.8"/>
<circle cx="476.64" cy="74.36" r="1.75" fill="none" stroke="#000" stroke-width="0.8"/>
<circle cx="480.26" cy="74.03" r="1.75" fill="none" stroke="#000" stroke-width="0.8"/>
<circle cx="483.88" cy="73.69" r="1.75" fill="none" stroke="#000" stroke-width="0.8"/>
<circle cx="487.50" cy="73.35" r="1.75" fill="none" stroke="#000" stroke-width="0.8"/>
<circle cx="491.12" cy="73.01" r="1.75" fill="none" stroke="#000" stroke-width="0.8"/>
<circle cx="494.74" cy="72.66" r="1.75" fill="none" stroke="#000" stroke-width="0.8"/>
<circle cx="498.36" cy="72.31" r="1.75" fill="none" stroke="#000" stroke-width="0.8"/>
<circle cx="501.98" cy="71.95" r="1.75" fill="none" stroke="#000" stroke-width="0.8"/>
<circle cx="505.60" cy="71.60" r="1.75" fill="none" stroke="#000" stroke-width="0.8"/>
<circle cx="509.22" cy="71.26" r="1.75" fill="none" stroke="#000" stroke-width="0.8"/>
<circle cx="512.84" cy="70.92" r="1.75" fill="none" stroke="#000" stroke-width="0.8"/>
<circle cx="516.46" cy="70.59" r="1.75" fill="none" stroke="#000" stroke-width="0.8"/>
<circle cx="520.08" cy="70.27" r="1.75" fill="none" stroke="#000" stroke-width="0.8"/>
<circle cx="523.70" cy="69.95" r="1.75" fill="none" stroke="#000" stroke-width="0.8"/>
<circle cx="527.32" cy="69.63" r="1.75" fill="none" stroke="#000" stroke-width="0.8"/>
<circle cx="530.94" cy="69.32" r="1.75" fill="none" stroke="#000" stroke-width="0.8"/>
<circle cx="534.56" cy="69.01" r="1.75" fill="none" stroke="#000" stroke-width="0.8"/>
<circle cx="538.18" cy="68.71" r="1.75" fill="none" stroke="#000" stroke-width="0.8"/>
<circle cx="541.80" cy="68.42" r="1.75" fill="none" stroke="#000" stroke-width="0.8"/>
<polyline points="324.60,202.50 328.22,180.43 331.84,172.65 335.46,162.52 339.08,153.31 342.70,145.13 346.32,137.34 349.94,132.28 353.56,126.96 357.18,123.19 360.80,119.95 364.42,117.21 368.04,114.75 371.66,112.46 375.28,110.32 378.90,108.39 382.52,106.64 386.14,104.99 389.76,103.44 393.38,101.98 397.00,100.61 400.62,99.31 404.24,98.08 407.86,96.92 411.48,95.81 415.10,94.77 418.72,93.76 422.34,92.78 425.96,91.86 429.58,91.00 433.20,90.22 436.82,89.51 440.44,88.85 444.06,88.23 447.68,87.64 451.30,87.07 454.92,86.51 458.54,85.96 462.16,85.40 465.78,84.85 469.40,84.31 473.02,83.78 476.64,83.26 480.26,82.76 483.88,82.27 487.50,81.79 491.12,81.32 494.74,80.88 498.36,80.45 501.98,80.02 505.60,79.60 509.22,79.18 512.84,78.76 516.46,78.32 520.08,77.89 523.70,77.46 527.32,77.03 530.94,76.59 534.56,76.16 538.18,75.73 541.80,75.30" fill="none" stroke="#000" stroke-width="0.7"/>
<path d="M328.22 177.19V183.68M326.92 177.19h2.6M326.92 183.68h2.6" stroke="#000" stroke-width="0.6" fill="none"/>
<path d="M331.84 169.40V175.89M330.54 169.40h2.6M330.54 175.89h2.6" stroke="#000" stroke-width="0.6" fill="none"/>
<path d="M335.46 159.28V165.77M334.16 159.28h2.6M334.16 165.77h2.6" stroke="#000" stroke-width="0.6" fill="none"/>
<path d="M339.08 150.06V156.55M337.78 150.06h2.6M337.78 156.55h2.6" stroke="#000" stroke-width="0.6" fill="none"/>
<path d="M342.70 141.88V148.37M341.40 141.88h2.6M341.40 148.37h2.6" stroke="#000" stroke-width="0.6" fill="none"/>
<path d="M346.32 134.10V140.59M345.02 134.10h2.6M345.02 140.59h2.6" stroke="#000" stroke-width="0.6" fill="none"/>
<path d="M349.94 129.03V135.52M348.64 129.03h2.6M348.64 135.52h2.6" stroke="#000" stroke-width="0.6" fill="none"/>
<path d="M353.56 123.71V130.20M352.26 123.71h2.6M352.26 130.20h2.6" stroke="#000" stroke-width="0.6" fill="none"/>
<path d="M357.18 119.95V126.44M355.88 119.95h2.6M355.88 126.44h2.6" stroke="#000" stroke-width="0.6" fill="none"/>
<path d="M360.80 116.70V123.19M359.50 116.70h2.6M359.50 123.19h2.6" stroke="#000" stroke-width="0.6" fill="none"/>
<path d="M364.42 113.97V120.46M363.12 113.97h2.6M363.12 120.46h2.6" stroke="#000" stroke-width="0.6" fill="none"/>
<path d="M368.04 111.50V117.99M366.74 111.50h2.6M366.74 117.99h2.6" stroke="#000" stroke-width="0.6" fill="none"/>
<path d="M371.66 109.21V115.70M370.36 109.21h2.6M370.36 115.70h2.6" stroke="#000" stroke-width="0.6" fill="none"/>
<path d="M375.28 107.08V113.57M373.98 107.08h2.6M373.98 113.57h2.6" stroke="#000" stroke-width="0.6" fill="none"/>
<path d="M378.90 105.15V111.64M377.60 105.15h2.6M377.60 111.64h2.6" stroke="#000" stroke-width="0.6" fill="none"/>
<path d="M382.52 103.40V109.89M381.22 103.40h2.6M381.22 109.89h2.6" stroke="#000" stroke-width="0.6" fill="none"/>
<path d="M386.14 101.75V108.24M384.84 101.75h2.6M384.84 108.24h2.6" stroke="#000" stroke-width="0.6" fill="none"/>
<path d="M389.76 100.20V106.69M388.46 100.20h2.6M388.46 106.69h2.6" stroke="#000" stroke-width="0.6" fill="none"/>
<path d="M393.38 98.74V105.23M392.08 98.74h2.6M392.08 105.23h2.6" stroke="#000" stroke-width="0.6" fill="none"/>
<path d="M397.00 97.36V103.85M395.70 97.36h2.6M395.70 103.85h2.6" stroke="#000" stroke-width="0.6" fill="none"/>
<path d="M400.62 96.06V102.55M399.32 96.06h2.6M399.32 102.55h2.6" stroke="#000" stroke-width="0.6" fill="none"/>
<path d="M404.24 94.84V101.33M402.94 94.84h2.6M402.94 101.33h2.6" stroke="#000" stroke-width="0.6" fill="none"/>
<path d="M407.86 93.67V100.16M406.56 93.67h2.6M406.56 100.16h2.6" stroke="#000" stroke-width="0.6" fill="none"/>
<path d="M411.48 92.57V99.06M410.18 92.57h2.6M410.18 99.06h2.6" stroke="#000" stroke-width="0.6" fill="none"/>
<path d="M415.10 91.52V98.01M413.80 91.52h2.6M413.80 98.01h2.6" stroke="#000" stroke-width="0.6" fill="none"/>
<path d="M418.72 90.51V97.00M417.42 90.51h2.6M417.42 97.00h2.6" stroke="#000" stroke-width="0.6" fill="none"/>
<path d="M422.34 89.54V96.03M421.04 89.54h2.6M421.04 96.03h2.6" stroke="#000" stroke-width="0.6" fill="none"/>
<path d="M425.96 88.62V95.11M424.66 88.62h2.6M424.66 95.11h2.6" stroke="#000" stroke-width="0.6" fill="none"/>
<path d="M429.58 87.76V94.25M428.28 87.76h2.6M428.28 94.25h2.6" stroke="#000" stroke-width="0.6" fill="none"/>
<path d="M433.20 86.98V93.47M431.90 86.98h2.6M431.90 93.47h2.6" stroke="#000" stroke-width="0.6" fill="none"/>
<path d="M436.82 86.27V92.76M435.52 86.27h2.6M435.52 92.76h2.6" stroke="#000" stroke-width="0.6" fill="none"/>
<path d="M440.44 85.61V92.10M439.14 85.61h2.6M439.14 92.10h2.6" stroke="#000" stroke-width="0.6" fill="none"/>
<path d="M444.06 84.99V91.48M442.76 84.99h2.6M442.76 91.48h2.6" stroke="#000" stroke-width="0.6" fill="none"/>
<path d="M447.68 84.39V90.88M446.38 84.39h2.6M446.38 90.88h2.6" stroke="#000" stroke-width="0.6" fill="none"/>
<path d="M451.30 83.82V90.31M450.00 83.82h2.6M450.00 90.31h2.6" stroke="#000" stroke-width="0.6" fill="none"/>
<path d="M454.92 83.27V89.76M453.62 83.27h2.6M453.62 89.76h2.6" stroke="#000" stroke-width="0.6" fill="none"/>
<path d="M458.54 82.71V89.20M457.24 82.71h2.6M457.24 89.20h2.6" stroke="#000" stroke-width="0.6" fill="none"/>
<path d="M462.16 82.16V88.65M460.86 82.16h2.6M460.86 88.65h2.6" stroke="#000" stroke-width="0.6" fill="none"/>
<path d="M465.78 81.61V88.10M464.48 81.61h2.6M464.48 88.10h2.6" stroke="#000" stroke-width="0.6" fill="none"/>
<path d="M469.40 81.07V87.56M468.10 81.07h2.6M468.10 87.56h2.6" stroke="#000" stroke-width="0.6" fill="none"/>
<path d="M473.02 80.54V87.03M471.72 80.54h2.6M471.72 87.03h2.6" stroke="#000" stroke-width="0.6" fill="none"/>
<path d="M476.64 80.02V86.51M475.34 80.02h2.6M475.34 86.51h2.6" stroke="#000" stroke-width="0.6" fill="none"/>
<path d="M480.26 79.51V86.00M478.96 79.51h2.6M478.96 86.00h2.6" stroke="#000" stroke-width="0.6" fill="none"/>
<path d="M483.88 79.02V85.51M482.58 79.02h2.6M482.58 85.51h2.6" stroke="#000" stroke-width="0.6" fill="none"/>
<path d="M487.50 78.54V85.03M486.20 78.54h2.6M486.20 85.03h2.6" stroke="#000" stroke-width="0.6" fill="none"/>
<path d="M491.12 78.08V84.57M489.82 78.08h2.6M489.82 84.57h2.6" stroke="#000" stroke-width="0.6" fill="none"/>
<path d="M494.74 77.63V84.12M493.44 77.63h2.6M493.44 84.12h2.6" stroke="#000" stroke-width="0.6" fill="none"/>
<path d="M498.36 77.20V83.69M497.06 77.20h2.6M497.06 83.69h2.6" stroke="#000" stroke-width="0.6" fill="none"/>
<path d="M501.98 76.78V83.27M500.68 76.78h2.6M500.68 83.27h2.6" stroke="#000" stroke-width="0.6" fill="none"/>
<path d="M505.60 76.36V82.85M504.30 76.36h2.6M504.30 82.85h2.6" stroke="#000" stroke-width="0.6" fill="none"/>
<path d="M509.22 75.94V82.43M507.92 75.94h2.6M507.92 82.43h2.6" stroke="#000" stroke-width="0.6" fill="none"/>
<path d="M512.84 75.51V82.00M511.54 75.51h2.6M511.54 82.00h2.6" stroke="#000" stroke-width="0.6" fill="none"/>
<path d="M516.46 75.08V81.57M515.16 75.08h2.6M515.16 81.57h2.6" stroke="#000" stroke-width="0.6" fill="none"/>
<path d="M520.08 74.65V81.14M518.78 74.65h2.6M518.78 81.14h2.6" stroke="#000" stroke-width="0.6" fill="none"/>
<path d="M523.70 74.21V80.70M522.40 74.21h2.6M522.40 80.70h2.6" stroke="#000" stroke-width="0.6" fill="none"/>
<path d="M527.32 73.78V80.27M526.02 73.78h2.6M526.02 80.27h2.6" stroke="#000" stroke-width="0.6" fill="none"/>
<path d="M530.94 73.35V79.84M529.64 73.35h2.6M529.64 79.84h2.6" stroke="#000" stroke-width="0.6" fill="none"/>
<path d="M534.56 72.92V79.41M533.26 72.92h2.6M533.26 79.41h2.6" stroke="#000" stroke-width="0.6" fill="none"/>
<path d="M538.18 72.48V78.97M536.88 72.48h2.6M536.88 78.97h2.6" stroke="#000" stroke-width="0.6" fill="none"/>
<path d="M541.80 72.05V78.54M540.50 72.05h2.6M540.50 78.54h2.6" stroke="#000" stroke-width="0.6" fill="none"/>
<circle cx="324.60" cy="202.50" r="2.20" fill="#000"/>
<circle cx="328.22" cy="180.43" r="2.20" fill="#000"/>
<circle cx="331.84" cy="172.65" r="2.20" fill="#000"/>
<circle cx="335.46" cy="162.52" r="2.20" fill="#000"/>
<circle cx="339.08" cy="153.31" r="2.20" fill="#000"/>
<circle cx="342.70" cy="145.13" r="2.20" fill="#000"/>
<circle cx="346.32" cy="137.34" r="2.20" fill="#000"/>
<circle cx="349.94" cy="132.28" r="2.20" fill="#000"/>
<circle cx="353.56" cy="126.96" r="2.20" fill="#000"/>
<circle cx="357.18" cy="123.19" r="2.20" fill="#000"/>
<circle cx="360.80" cy="119.95" r="2.20" fill="#000"/>
<circle cx="364.42" cy="117.21" r="2.20" fill="#000"/>
<circle cx="368.04" cy="114.75" r="2.20" fill="#000"/>
<circle cx="371.66" cy="112.46" r="2.20" fill="#000"/>
<circle cx="375.28" cy="110.32" r="2.20" fill="#000"/>
<circle cx="378.90" cy="108.39" r="2.20" fill="#000"/>
<circle cx="382.52" cy="106.64" r="2.20" fill="#000"/>
<circle cx="386.14" cy="104.99" r="2.20" fill="#000"/>
<circle cx="389.76" cy="103.44" r="2.20" fill="#000"/>
<circle cx="393.38" cy="101.98" r="2.20" fill="#000"/>
<circle cx="397.00" cy="100.61" r="2.20" fill="#000"/>
<circle cx="400.62" cy="99.31" r="2.20" fill="#000"/>
<circle cx="404.24" cy="98.08" r="2.20" fill="#000"/>
<circle cx="407.86" cy="96.92" r="2.20" fill="#000"/>
<circle cx="411.48" cy="95.81" r="2.20" fill="#000"/>
<circle cx="415.10" cy="94.77" r="2.20" fill="#000"/>
<circle cx="418.72" cy="93.76" r="2.20" fill="#000"/>
<circle cx="422.34" cy="92.78" r="2.20" fill="#000"/>
<circle cx="425.96" cy="91.86" r="2.20" fill="#000"/>
<circle cx="429.58" cy="91.00" r="2.20" fill="#000"/>
<circle cx="433.20" cy="90.22" r="2.20" fill="#000"/>
<circle cx="436.82" cy="89.51" r="2.20" fill="#000"/>
<circle cx="440.44" cy="88.85" r="2.20" fill="#000"/>
<circle cx="444.06" cy="88.23" r="2.20" fill="#000"/>
<circle cx="447.68" cy="87.64" r="2.20" fill="#000"/>
<circle cx="451.30" cy="87.07" r="2.20" fill="#000"/>
<circle cx="454.92" cy="86.51" r="2.20" fill="#000"/>
<circle cx="458.54" cy="85.96" r="2.20" fill="#000"/>
<circle cx="462.16" cy="85.40" r="2.20" fill="#000"/>
<circle cx="465.78" cy="84.85" r="2.20" fill="#000"/>
<circle cx="469.40" cy="84.31" r="2.20" fill="#000"/>
<circle cx="473.02" cy="83.78" r="2.20" fill="#000"/>
<circle cx="476.64" cy="83.26" r="2.20" fill="#000"/>
<circle cx="480.26" cy="82.76" r="2.20" fill="#000"/>
<circle cx="483.88" cy="82.27" r="2.20" fill="#000"/>
<circle cx="487.50" cy="81.79" r="2.20" fill="#000"/>
<circle cx="491.12" cy="81.32" r="2.20" fill="#000"/>
<circle cx="494.74" cy="80.88" r="2.20" fill="#000"/>
<circle cx="498.36" cy="80.45" r="2.20" fill="#000"/>
<circle cx="501.98" cy="80.02" r="2.20" fill="#000"/>
<circle cx="505.60" cy="79.60" r="2.20" fill="#000"/>
<circle cx="509.22" cy="79.18" r="2.20" fill="#000"/>
<circle cx="512.84" cy="78.76" r="2.20" fill="#000"/>
<circle cx="516.46" cy="78.32" r="2.20" fill="#000"/>
<circle cx="520.08" cy="77.89" r="2.20" fill="#000"/>
<circle cx="523.70" cy="77.46" r="2.20" fill="#000"/>
<circle cx="527.32" cy="77.03" r="2.20" fill="#000"/>
<circle cx="530.94" cy="76.59" r="2.20" fill="#000"/>
<circle cx="534.56" cy="76.16" r="2.20" fill="#000"/>
<circle cx="538.18" cy="75.73" r="2.20" fill="#000"/>
<circle cx="541.80" cy="75.30" r="2.20" fill="#000"/>
<path d="M411.50 125.80h10.9" stroke="#000" stroke-width="0.7"/>
<rect x="414.88" y="123.88" width="3.85" height="3.85" fill="none" stroke="#000" stroke-width="0.8"/>
<text x="422.00" y="128.90" class="lg" textLength="61.0" lengthAdjust="spacingAndGlyphs">3.0%-fat oat milk</text>
<path d="M411.50 139.10h10.9" stroke="#000" stroke-width="0.7"/>
<rect x="414.66" y="136.95" width="4.29" height="4.29" fill="#000"/>
<text x="422.00" y="142.20" class="lg" textLength="110.0" lengthAdjust="spacingAndGlyphs">3.0%-fat oat milk + 0.05%GTE</text>
<path d="M411.50 152.40h10.9" stroke="#000" stroke-width="0.7"/>
<path d="M416.80 150.42L418.56 153.72L415.04 153.72Z" fill="none" stroke="#000" stroke-width="0.8"/>
<text x="422.00" y="155.50" class="lg" textLength="110.0" lengthAdjust="spacingAndGlyphs">3.0%-fat oat milk + 0.10%GTE</text>
<path d="M411.50 165.60h10.9" stroke="#000" stroke-width="0.7"/>
<path d="M416.80 163.40L418.89 167.14L414.71 167.14Z" fill="#000"/>
<text x="422.00" y="168.70" class="lg" textLength="110.0" lengthAdjust="spacingAndGlyphs">3.0%-fat oat milk + 0.25%GTE</text>
<path d="M411.50 178.90h10.9" stroke="#000" stroke-width="0.7"/>
<circle cx="416.80" cy="178.90" r="1.75" fill="none" stroke="#000" stroke-width="0.8"/>
<text x="422.00" y="182.00" class="lg" textLength="110.0" lengthAdjust="spacingAndGlyphs">3.0%-fat oat milk + 0.50%GTE</text>
<path d="M411.50 192.20h10.9" stroke="#000" stroke-width="0.7"/>
<circle cx="416.80" cy="192.20" r="2.20" fill="#000"/>
<text x="422.00" y="195.30" class="lg" textLength="110.0" lengthAdjust="spacingAndGlyphs">3.0%-fat oat milk + 1.00%GTE</text>
<text x="432.6" y="228.4" text-anchor="middle" class="ti">Digestion time (min)</text>
<text transform="translate(303.0,104) rotate(-90)" text-anchor="middle" class="ti" style="font-size:11.1px">FFA released (%)</text>
<text x="423.4" y="243.3" text-anchor="middle" class="pl">(b)</text>
<rect x="181.80" y="255.40" width="226.32" height="199.30" fill="none" stroke="#7a7a7a" stroke-width="1"/>
<path d="M179.00 454.70H181.80" stroke="#7a7a7a" stroke-width="1"/>
<text x="173.5" y="458.00" text-anchor="end" class="tk">30</text>
<path d="M179.00 404.88H181.80" stroke="#7a7a7a" stroke-width="1"/>
<text x="173.5" y="408.18" text-anchor="end" class="tk">60</text>
<path d="M179.00 355.05H181.80" stroke="#7a7a7a" stroke-width="1"/>
<text x="173.5" y="358.35" text-anchor="end" class="tk">90</text>
<path d="M179.00 305.23H181.80" stroke="#7a7a7a" stroke-width="1"/>
<text x="173.5" y="308.53" text-anchor="end" class="tk">120</text>
<path d="M179.00 255.40H181.80" stroke="#7a7a7a" stroke-width="1"/>
<text x="173.5" y="258.70" text-anchor="end" class="tk">150</text>
<path d="M181.80 454.70V457.70" stroke="#7a7a7a" stroke-width="1"/>
<path d="M219.52 454.70V457.70" stroke="#7a7a7a" stroke-width="1"/>
<path d="M257.24 454.70V457.70" stroke="#7a7a7a" stroke-width="1"/>
<path d="M294.96 454.70V457.70" stroke="#7a7a7a" stroke-width="1"/>
<path d="M332.68 454.70V457.70" stroke="#7a7a7a" stroke-width="1"/>
<path d="M370.40 454.70V457.70" stroke="#7a7a7a" stroke-width="1"/>
<path d="M408.12 454.70V457.70" stroke="#7a7a7a" stroke-width="1"/>
<rect x="188.31" y="286.96" width="12.35" height="167.74" fill="#fff" stroke="#444" stroke-width="0.85"/>
<rect x="200.66" y="313.20" width="12.35" height="141.50" fill="#6FD045" stroke="#444" stroke-width="0.85"/>
<path d="M194.49 272.84V301.07M193.19 272.84h2.6M193.19 301.07h2.6" stroke="#222" stroke-width="0.7" fill="none"/>
<path d="M206.84 306.55V319.84M205.54 306.55h2.6M205.54 319.84h2.6" stroke="#222" stroke-width="0.7" fill="none"/>
<text x="200.66" y="469.8" text-anchor="middle" class="tk">0</text>
<rect x="226.03" y="284.46" width="12.35" height="170.24" fill="#fff" stroke="#444" stroke-width="0.85"/>
<rect x="238.38" y="306.72" width="12.35" height="147.98" fill="#6FD045" stroke="#444" stroke-width="0.85"/>
<path d="M232.21 281.14V287.79M230.91 281.14h2.6M230.91 287.79h2.6" stroke="#222" stroke-width="0.7" fill="none"/>
<path d="M244.56 298.75V314.69M243.25 298.75h2.6M243.25 314.69h2.6" stroke="#222" stroke-width="0.7" fill="none"/>
<text x="238.38" y="469.8" text-anchor="middle" class="tk">0.05</text>
<rect x="263.75" y="284.46" width="12.35" height="170.24" fill="#fff" stroke="#444" stroke-width="0.85"/>
<rect x="276.10" y="320.34" width="12.35" height="134.36" fill="#6FD045" stroke="#444" stroke-width="0.85"/>
<path d="M269.93 276.16V292.77M268.62 276.16h2.6M268.62 292.77h2.6" stroke="#222" stroke-width="0.7" fill="none"/>
<path d="M282.28 313.70V326.98M280.98 313.70h2.6M280.98 326.98h2.6" stroke="#222" stroke-width="0.7" fill="none"/>
<text x="276.10" y="469.8" text-anchor="middle" class="tk">0.10</text>
<rect x="301.47" y="275.66" width="12.35" height="179.04" fill="#fff" stroke="#444" stroke-width="0.85"/>
<rect x="313.82" y="324.16" width="12.35" height="130.54" fill="#6FD045" stroke="#444" stroke-width="0.85"/>
<path d="M307.64 269.85V281.48M306.34 269.85h2.6M306.34 281.48h2.6" stroke="#222" stroke-width="0.7" fill="none"/>
<path d="M320.00 318.35V329.97M318.69 318.35h2.6M318.69 329.97h2.6" stroke="#222" stroke-width="0.7" fill="none"/>
<text x="313.82" y="469.8" text-anchor="middle" class="tk">0.25</text>
<rect x="339.19" y="273.67" width="12.35" height="181.03" fill="#fff" stroke="#444" stroke-width="0.85"/>
<rect x="351.54" y="332.96" width="12.35" height="121.74" fill="#6FD045" stroke="#444" stroke-width="0.85"/>
<path d="M345.37 270.35V276.99M344.06 270.35h2.6M344.06 276.99h2.6" stroke="#222" stroke-width="0.7" fill="none"/>
<path d="M357.72 329.97V335.95M356.42 329.97h2.6M356.42 335.95h2.6" stroke="#222" stroke-width="0.7" fill="none"/>
<text x="351.54" y="469.8" text-anchor="middle" class="tk">0.50</text>
<rect x="376.91" y="271.84" width="12.35" height="182.86" fill="#fff" stroke="#444" stroke-width="0.85"/>
<rect x="389.26" y="341.76" width="12.35" height="112.94" fill="#6FD045" stroke="#444" stroke-width="0.85"/>
<path d="M383.08 260.22V283.47M381.78 260.22h2.6M381.78 283.47h2.6" stroke="#222" stroke-width="0.7" fill="none"/>
<path d="M395.44 339.27V344.25M394.13 339.27h2.6M394.13 344.25h2.6" stroke="#222" stroke-width="0.7" fill="none"/>
<text x="389.26" y="469.8" text-anchor="middle" class="tk">1.00</text>
<text x="200.30" y="280.20" text-anchor="middle" class="lt">a</text>
<text x="208.20" y="304.00" text-anchor="middle" class="lt">a</text>
<text x="236.00" y="276.50" text-anchor="middle" class="lt">a</text>
<text x="248.30" y="297.50" text-anchor="middle" class="lt">a</text>
<text x="264.70" y="280.20" text-anchor="middle" class="lt">a</text>
<text x="284.30" y="308.20" text-anchor="middle" class="lt">ab</text>
<text x="300.60" y="275.00" text-anchor="middle" class="lt">a</text>
<text x="322.00" y="315.10" text-anchor="middle" class="lt">ab</text>
<text x="339.60" y="273.30" text-anchor="middle" class="lt">a</text>
<text x="360.40" y="327.00" text-anchor="middle" class="lt">bc</text>
<text x="378.00" y="269.00" text-anchor="middle" class="lt">a</text>
<text x="395.50" y="337.20" text-anchor="middle" class="lt">c</text>
<rect x="186.6" y="258.9" width="3.6" height="3.6" fill="#fff" stroke="#333" stroke-width="0.7"/>
<text x="192.4" y="264.0" class="bl">1.5%-fat oat milk + GTE</text>
<rect x="299.2" y="258.9" width="3.6" height="3.6" fill="#6FD045" stroke="#333" stroke-width="0.7"/>
<text x="304.8" y="264.0" class="bl">3.0%-fat oat milk + GTE</text>
<text x="295.2" y="482.2" text-anchor="middle" class="ti">GTE (%)</text>
<text transform="translate(153.7,354.8) rotate(-90)" text-anchor="middle" class="ti" style="font-size:11.27px">Final digestion extent (%FFA)</text>
<text x="277.0" y="497.0" text-anchor="middle" class="pl">(c)</text>
</svg></body></html>
